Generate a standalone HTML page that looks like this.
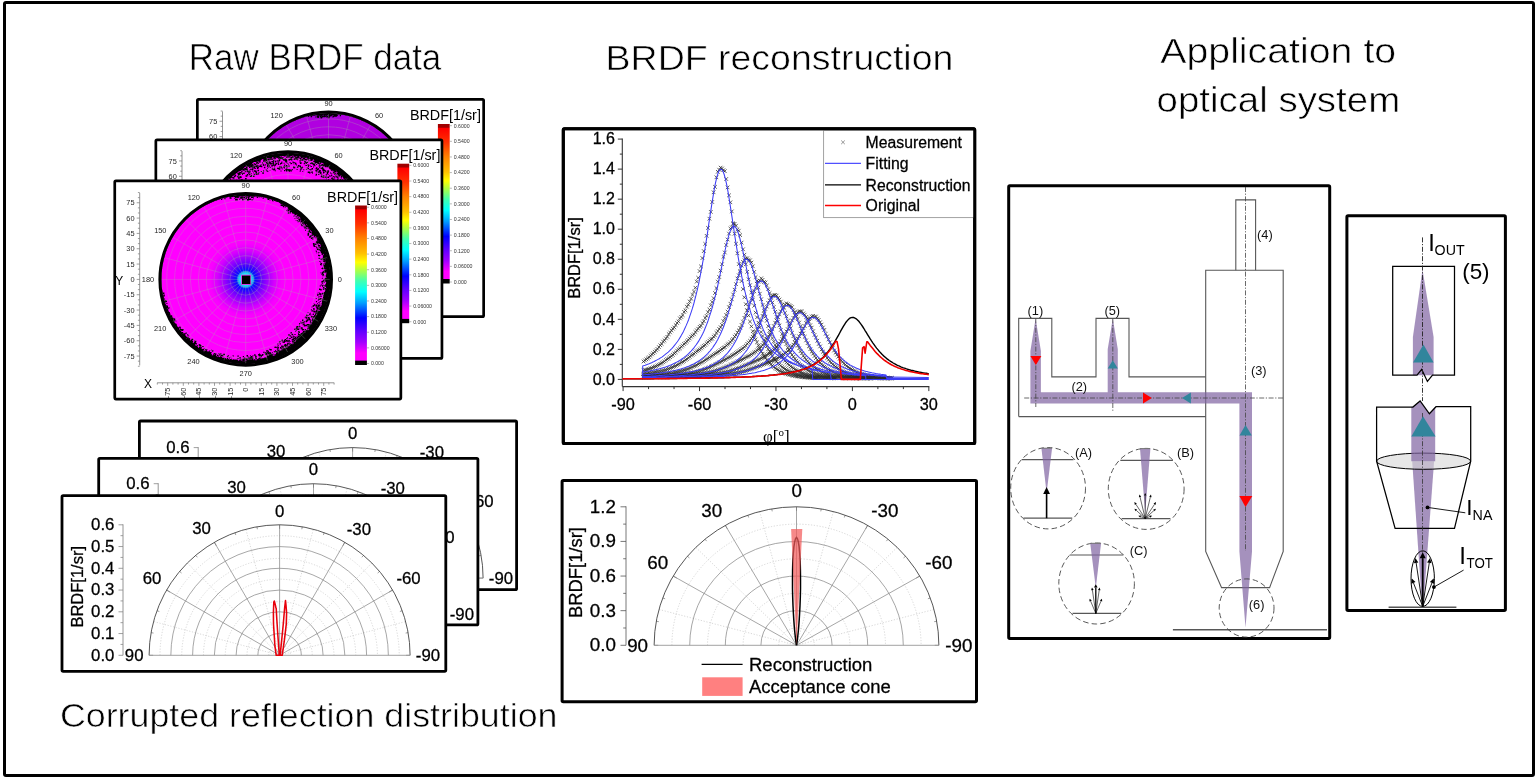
<!DOCTYPE html>
<html><head><meta charset="utf-8"><title>BRDF</title>
<style>html,body{margin:0;padding:0;background:#fff;overflow:hidden}svg{display:block}.b{stroke:#000;stroke-width:0.28px}.t{stroke:#fff;stroke-width:0.6px}</style></head>
<body><svg width="1538" height="778" viewBox="0 0 1538 778" font-family="'Liberation Sans', Arial, sans-serif"><defs><linearGradient id="cbar" x1="0" y1="0" x2="0" y2="1">
<stop offset="0" stop-color="#a00000"/><stop offset="0.02" stop-color="#a00000"/><stop offset="0.028" stop-color="#ff0000"/>
<stop offset="0.116" stop-color="#ff3000"/><stop offset="0.205" stop-color="#ff8000"/><stop offset="0.30" stop-color="#ffc000"/>
<stop offset="0.356" stop-color="#ffff00"/><stop offset="0.404" stop-color="#b0ff40"/><stop offset="0.473" stop-color="#40ffb0"/>
<stop offset="0.541" stop-color="#00ffff"/><stop offset="0.61" stop-color="#00a0ff"/><stop offset="0.705" stop-color="#0000ff"/>
<stop offset="0.788" stop-color="#6000ff"/><stop offset="0.856" stop-color="#a000ff"/><stop offset="0.925" stop-color="#ff00ff"/>
<stop offset="0.97" stop-color="#ff00ff"/><stop offset="0.975" stop-color="#000"/><stop offset="1" stop-color="#000"/>
</linearGradient><clipPath id="clipmback"><rect x="198.5" y="100.5" width="284" height="215"/></clipPath><clipPath id="clipmmid"><rect x="157" y="141" width="283.8" height="216.2"/></clipPath><radialGradient id="dgmid" gradientUnits="userSpaceOnUse" cx="288" cy="237.6" r="85">
<stop offset="0" stop-color="#00ffff"/><stop offset="0.065" stop-color="#00ffff"/><stop offset="0.088" stop-color="#00b0ff"/>
<stop offset="0.11" stop-color="#0010ff"/><stop offset="0.15" stop-color="#3800ff"/><stop offset="0.2" stop-color="#7000ff"/>
<stop offset="0.27" stop-color="#a800ff"/><stop offset="0.34" stop-color="#d800ff"/><stop offset="0.42" stop-color="#f800ff"/><stop offset="0.48" stop-color="#ff00ff"/><stop offset="1" stop-color="#ff00ff"/>
</radialGradient><clipPath id="clipmfront"><rect x="115.9" y="182" width="283.8" height="215.9"/></clipPath><radialGradient id="dgfront" gradientUnits="userSpaceOnUse" cx="245.7" cy="279.4" r="85">
<stop offset="0" stop-color="#00ffff"/><stop offset="0.065" stop-color="#00ffff"/><stop offset="0.088" stop-color="#00b0ff"/>
<stop offset="0.11" stop-color="#0010ff"/><stop offset="0.15" stop-color="#3800ff"/><stop offset="0.2" stop-color="#7000ff"/>
<stop offset="0.27" stop-color="#a800ff"/><stop offset="0.34" stop-color="#d800ff"/><stop offset="0.42" stop-color="#f800ff"/><stop offset="0.48" stop-color="#ff00ff"/><stop offset="1" stop-color="#ff00ff"/>
</radialGradient><clipPath id="cliplback"><rect x="140.5" y="422.1" width="375" height="166.4"/></clipPath><clipPath id="cliplmid"><rect x="99.8" y="459.5" width="377" height="164.3"/></clipPath><clipPath id="cliplfront"><rect x="63.1" y="496.8" width="381.6" height="173.4"/></clipPath><clipPath id="plotclip"><rect x="622" y="131" width="350" height="256"/></clipPath></defs><rect x="4.5" y="2.5" width="1529" height="773" fill="none" stroke="#000" stroke-width="3" rx="1.5"/><text class="t" x="188.8" y="69.9" font-size="36.7" textLength="252.5" lengthAdjust="spacingAndGlyphs">Raw BRDF data</text><text class="t" x="605.6" y="70.4" font-size="35.6" textLength="347.8" lengthAdjust="spacingAndGlyphs">BRDF reconstruction</text><text class="t" x="1160.2" y="62.7" font-size="35.9" textLength="236" lengthAdjust="spacingAndGlyphs">Application to</text><text class="t" x="1156.6" y="111.9" font-size="35.9" textLength="243.6" lengthAdjust="spacingAndGlyphs">optical system</text><text class="t" x="59.9" y="727" font-size="32.8" textLength="497.6" lengthAdjust="spacingAndGlyphs">Corrupted reflection distribution</text><rect x="197.35" y="99.35" width="286.3" height="217.3" fill="#fff" stroke="#000" stroke-width="2.7" rx="1.2"/><g clip-path="url(#clipmback)"><line x1="222.5" y1="111.4" x2="222.5" y2="283.9" stroke="#777" stroke-width="0.8" /><line x1="220.7" y1="284.77" x2="222.5" y2="284.77" stroke="#777" stroke-width="0.7" /><line x1="220.7" y1="279.66" x2="222.5" y2="279.66" stroke="#777" stroke-width="0.7" /><line x1="219.5" y1="274.55" x2="222.5" y2="274.55" stroke="#777" stroke-width="0.7" /><line x1="220.7" y1="269.44" x2="222.5" y2="269.44" stroke="#777" stroke-width="0.7" /><line x1="220.7" y1="264.33" x2="222.5" y2="264.33" stroke="#777" stroke-width="0.7" /><line x1="219.5" y1="259.22" x2="222.5" y2="259.22" stroke="#777" stroke-width="0.7" /><line x1="220.7" y1="254.11" x2="222.5" y2="254.11" stroke="#777" stroke-width="0.7" /><line x1="220.7" y1="249" x2="222.5" y2="249" stroke="#777" stroke-width="0.7" /><line x1="219.5" y1="243.89" x2="222.5" y2="243.89" stroke="#777" stroke-width="0.7" /><line x1="220.7" y1="238.78" x2="222.5" y2="238.78" stroke="#777" stroke-width="0.7" /><line x1="220.7" y1="233.67" x2="222.5" y2="233.67" stroke="#777" stroke-width="0.7" /><line x1="219.5" y1="228.56" x2="222.5" y2="228.56" stroke="#777" stroke-width="0.7" /><line x1="220.7" y1="223.45" x2="222.5" y2="223.45" stroke="#777" stroke-width="0.7" /><line x1="220.7" y1="218.34" x2="222.5" y2="218.34" stroke="#777" stroke-width="0.7" /><line x1="219.5" y1="213.23" x2="222.5" y2="213.23" stroke="#777" stroke-width="0.7" /><line x1="220.7" y1="208.12" x2="222.5" y2="208.12" stroke="#777" stroke-width="0.7" /><line x1="220.7" y1="203.01" x2="222.5" y2="203.01" stroke="#777" stroke-width="0.7" /><line x1="219.5" y1="197.9" x2="222.5" y2="197.9" stroke="#777" stroke-width="0.7" /><line x1="220.7" y1="192.79" x2="222.5" y2="192.79" stroke="#777" stroke-width="0.7" /><line x1="220.7" y1="187.68" x2="222.5" y2="187.68" stroke="#777" stroke-width="0.7" /><line x1="219.5" y1="182.57" x2="222.5" y2="182.57" stroke="#777" stroke-width="0.7" /><line x1="220.7" y1="177.46" x2="222.5" y2="177.46" stroke="#777" stroke-width="0.7" /><line x1="220.7" y1="172.35" x2="222.5" y2="172.35" stroke="#777" stroke-width="0.7" /><line x1="219.5" y1="167.24" x2="222.5" y2="167.24" stroke="#777" stroke-width="0.7" /><line x1="220.7" y1="162.13" x2="222.5" y2="162.13" stroke="#777" stroke-width="0.7" /><line x1="220.7" y1="157.02" x2="222.5" y2="157.02" stroke="#777" stroke-width="0.7" /><line x1="219.5" y1="151.91" x2="222.5" y2="151.91" stroke="#777" stroke-width="0.7" /><line x1="220.7" y1="146.8" x2="222.5" y2="146.8" stroke="#777" stroke-width="0.7" /><line x1="220.7" y1="141.69" x2="222.5" y2="141.69" stroke="#777" stroke-width="0.7" /><line x1="219.5" y1="136.58" x2="222.5" y2="136.58" stroke="#777" stroke-width="0.7" /><line x1="220.7" y1="131.47" x2="222.5" y2="131.47" stroke="#777" stroke-width="0.7" /><line x1="220.7" y1="126.36" x2="222.5" y2="126.36" stroke="#777" stroke-width="0.7" /><line x1="219.5" y1="121.25" x2="222.5" y2="121.25" stroke="#777" stroke-width="0.7" /><line x1="220.7" y1="116.14" x2="222.5" y2="116.14" stroke="#777" stroke-width="0.7" /><line x1="220.7" y1="111.03" x2="222.5" y2="111.03" stroke="#777" stroke-width="0.7" /><text x="217.3" y="277.15" font-size="7.4" text-anchor="end" fill="#262626" >-75</text><text x="217.3" y="261.82" font-size="7.4" text-anchor="end" fill="#262626" >-60</text><text x="217.3" y="246.49" font-size="7.4" text-anchor="end" fill="#262626" >-45</text><text x="217.3" y="231.16" font-size="7.4" text-anchor="end" fill="#262626" >-30</text><text x="217.3" y="215.83" font-size="7.4" text-anchor="end" fill="#262626" >-15</text><text x="217.3" y="200.5" font-size="7.4" text-anchor="end" fill="#262626" >0</text><text x="217.3" y="185.17" font-size="7.4" text-anchor="end" fill="#262626" >15</text><text x="217.3" y="169.84" font-size="7.4" text-anchor="end" fill="#262626" >30</text><text x="217.3" y="154.51" font-size="7.4" text-anchor="end" fill="#262626" >45</text><text x="217.3" y="139.18" font-size="7.4" text-anchor="end" fill="#262626" >60</text><text x="217.3" y="123.85" font-size="7.4" text-anchor="end" fill="#262626" >75</text><text x="202.1" y="203.7" font-size="12" text-anchor="middle" fill="#000" >Y</text><line x1="240" y1="301.3" x2="417" y2="301.3" stroke="#777" stroke-width="0.8" /><line x1="240.1" y1="301.3" x2="240.1" y2="303.1" stroke="#777" stroke-width="0.7" /><line x1="245.3" y1="301.3" x2="245.3" y2="303.1" stroke="#777" stroke-width="0.7" /><line x1="250.5" y1="301.3" x2="250.5" y2="304.3" stroke="#777" stroke-width="0.7" /><line x1="255.7" y1="301.3" x2="255.7" y2="303.1" stroke="#777" stroke-width="0.7" /><line x1="260.9" y1="301.3" x2="260.9" y2="303.1" stroke="#777" stroke-width="0.7" /><line x1="266.1" y1="301.3" x2="266.1" y2="304.3" stroke="#777" stroke-width="0.7" /><line x1="271.3" y1="301.3" x2="271.3" y2="303.1" stroke="#777" stroke-width="0.7" /><line x1="276.5" y1="301.3" x2="276.5" y2="303.1" stroke="#777" stroke-width="0.7" /><line x1="281.7" y1="301.3" x2="281.7" y2="304.3" stroke="#777" stroke-width="0.7" /><line x1="286.9" y1="301.3" x2="286.9" y2="303.1" stroke="#777" stroke-width="0.7" /><line x1="292.1" y1="301.3" x2="292.1" y2="303.1" stroke="#777" stroke-width="0.7" /><line x1="297.3" y1="301.3" x2="297.3" y2="304.3" stroke="#777" stroke-width="0.7" /><line x1="302.5" y1="301.3" x2="302.5" y2="303.1" stroke="#777" stroke-width="0.7" /><line x1="307.7" y1="301.3" x2="307.7" y2="303.1" stroke="#777" stroke-width="0.7" /><line x1="312.9" y1="301.3" x2="312.9" y2="304.3" stroke="#777" stroke-width="0.7" /><line x1="318.1" y1="301.3" x2="318.1" y2="303.1" stroke="#777" stroke-width="0.7" /><line x1="323.3" y1="301.3" x2="323.3" y2="303.1" stroke="#777" stroke-width="0.7" /><line x1="328.5" y1="301.3" x2="328.5" y2="304.3" stroke="#777" stroke-width="0.7" /><line x1="333.7" y1="301.3" x2="333.7" y2="303.1" stroke="#777" stroke-width="0.7" /><line x1="338.9" y1="301.3" x2="338.9" y2="303.1" stroke="#777" stroke-width="0.7" /><line x1="344.1" y1="301.3" x2="344.1" y2="304.3" stroke="#777" stroke-width="0.7" /><line x1="349.3" y1="301.3" x2="349.3" y2="303.1" stroke="#777" stroke-width="0.7" /><line x1="354.5" y1="301.3" x2="354.5" y2="303.1" stroke="#777" stroke-width="0.7" /><line x1="359.7" y1="301.3" x2="359.7" y2="304.3" stroke="#777" stroke-width="0.7" /><line x1="364.9" y1="301.3" x2="364.9" y2="303.1" stroke="#777" stroke-width="0.7" /><line x1="370.1" y1="301.3" x2="370.1" y2="303.1" stroke="#777" stroke-width="0.7" /><line x1="375.3" y1="301.3" x2="375.3" y2="304.3" stroke="#777" stroke-width="0.7" /><line x1="380.5" y1="301.3" x2="380.5" y2="303.1" stroke="#777" stroke-width="0.7" /><line x1="385.7" y1="301.3" x2="385.7" y2="303.1" stroke="#777" stroke-width="0.7" /><line x1="390.9" y1="301.3" x2="390.9" y2="304.3" stroke="#777" stroke-width="0.7" /><line x1="396.1" y1="301.3" x2="396.1" y2="303.1" stroke="#777" stroke-width="0.7" /><line x1="401.3" y1="301.3" x2="401.3" y2="303.1" stroke="#777" stroke-width="0.7" /><line x1="406.5" y1="301.3" x2="406.5" y2="304.3" stroke="#777" stroke-width="0.7" /><line x1="411.7" y1="301.3" x2="411.7" y2="303.1" stroke="#777" stroke-width="0.7" /><line x1="416.9" y1="301.3" x2="416.9" y2="303.1" stroke="#777" stroke-width="0.7" /><text x="253.1" y="306.1" font-size="7.4" text-anchor="end" fill="#262626" transform="rotate(-90 253.1 306.1)">-75</text><text x="268.7" y="306.1" font-size="7.4" text-anchor="end" fill="#262626" transform="rotate(-90 268.7 306.1)">-60</text><text x="284.3" y="306.1" font-size="7.4" text-anchor="end" fill="#262626" transform="rotate(-90 284.3 306.1)">-45</text><text x="299.9" y="306.1" font-size="7.4" text-anchor="end" fill="#262626" transform="rotate(-90 299.9 306.1)">-30</text><text x="315.5" y="306.1" font-size="7.4" text-anchor="end" fill="#262626" transform="rotate(-90 315.5 306.1)">-15</text><text x="331.1" y="306.1" font-size="7.4" text-anchor="end" fill="#262626" transform="rotate(-90 331.1 306.1)">0</text><text x="346.7" y="306.1" font-size="7.4" text-anchor="end" fill="#262626" transform="rotate(-90 346.7 306.1)">15</text><text x="362.3" y="306.1" font-size="7.4" text-anchor="end" fill="#262626" transform="rotate(-90 362.3 306.1)">30</text><text x="377.9" y="306.1" font-size="7.4" text-anchor="end" fill="#262626" transform="rotate(-90 377.9 306.1)">45</text><text x="393.5" y="306.1" font-size="7.4" text-anchor="end" fill="#262626" transform="rotate(-90 393.5 306.1)">60</text><text x="409.1" y="306.1" font-size="7.4" text-anchor="end" fill="#262626" transform="rotate(-90 409.1 306.1)">75</text><text x="230.8" y="306.8" font-size="12" text-anchor="middle" fill="#000" >X</text><circle cx="328.5" cy="197.9" r="84.5" fill="#b000e0"/><path d="M328.5,197.9m-10.4,-47.7h1v1h-1zm-18.7,-3.8h1v1h-1zm5.5,-1.6h1v1h-1zm48.2,30.2h1v1h-1zm-55.3,-8.5h1v1h-1zm23.7,23.1h1v1h-1zm8.1,-11.9h1v1h-1zm-4.1,-19.4h1v1h-1zm16.7,27.6h1v1h-1zm8.0,-41.6h1v1h-1zm-28.1,40.8h1v1h-1zm0.1,1.7h1v1h-1zm3.9,-0.5h1v1h-1zm44.8,-24.2h1v1h-1zm-33.6,19.9h1v1h-1zm-50.3,-21.1h1v1h-1zm63.1,-19.1h1v1h-1zm-24.7,10.8h1v1h-1zm32.2,-6.1h1v1h-1zm-48.8,-5.6h1v1h-1zm4.7,38.8h1v1h-1zm18.5,3.9h1v1h-1zm0.5,8.6h1v1h-1zm10.1,-33.2h1v1h-1zm20.5,9.5h1v1h-1zm-27.8,6.1h1v1h-1zm-25.0,-6.0h1v1h-1zm29.1,-3.5h1v1h-1zm-13.1,26.9h1v1h-1zm-0.0,3.9h1v1h-1zm-20.7,-47.1h1v1h-1zm61.1,15.0h1v1h-1zm-28.9,-4.8h1v1h-1zm-5.3,35.4h1v1h-1zm27.6,-47.2h1v1h-1zm-6.6,7.9h1v1h-1zm-65.3,-0.5h1v1h-1zm47.6,17.2h1v1h-1zm-9.5,-24.4h1v1h-1zm33.3,12.4h1v1h-1zm-58.3,-9.6h1v1h-1zm70.1,6.8h1v1h-1zm-25.8,21.1h1v1h-1zm-28.2,-37.0h1v1h-1zm27.1,0.8h1v1h-1zm-17.9,31.6h1v1h-1zm6.8,9.6h1v1h-1zm4.2,4.8h1v1h-1zm-29.1,-48.5h1v1h-1zm23.1,53.9h1v1h-1zm-31.3,-20.2h1v1h-1zm31.4,5.4h1v1h-1zm-11.9,-33.1h1v1h-1zm11.1,21.5h1v1h-1zm38.1,-10.3h1v1h-1zm-14.8,17.1h1v1h-1zm-32.5,14.1h1v1h-1zm-16.6,-44.6h1v1h-1zm11.8,4.8h1v1h-1zm31.8,25.3h1v1h-1zm10.9,-19.7h1v1h-1zm-19.6,13.5h1v1h-1zm-53.2,-4.3h1v1h-1zm17.4,12.9h1v1h-1zm25.3,-26.0h1v1h-1zm-0.2,25.1h1v1h-1zm1.4,10.0h1v1h-1zm10.9,-46.9h1v1h-1zm-43.8,30.3h1v1h-1zm30.7,3.6h1v1h-1zm14.4,9.6h1v1h-1zm-40.5,-32.3h1v1h-1zm38.4,-0.8h1v1h-1zm-33.7,8.5h1v1h-1zm7.3,-6.6h1v1h-1zm25.2,2.2h1v1h-1zm1.9,13.2h1v1h-1zm-33.9,-8.8h1v1h-1zm41.8,-14.4h1v1h-1zm-31.3,16.7h1v1h-1zm39.2,13.6h1v1h-1zm-9.8,-15.7h1v1h-1zm-15.6,-11.7h1v1h-1zm-16.6,2.6h1v1h-1zm24.6,7.9h1v1h-1zm-32.9,-6.7h1v1h-1zm35.5,-3.4h1v1h-1zm-41.7,15.5h1v1h-1zm-16.5,-3.6h1v1h-1zm43.0,3.0h1v1h-1zm30.8,-7.6h1v1h-1zm-53.3,20.1h1v1h-1zm8.1,-20.2h1v1h-1zm9.7,31.1h1v1h-1zm-13.0,-21.5h1v1h-1zm10.1,5.7h1v1h-1zm-2.0,-19.7h1v1h-1zm-0.5,3.1h1v1h-1zm21.8,36.6h1v1h-1zm-6.0,-34.0h1v1h-1zm17.1,3.2h1v1h-1zm-22.7,35.7h1v1h-1zm2.0,-14.1h1v1h-1zm7.8,10.1h1v1h-1zm-3.7,-6.2h1v1h-1zm-2.8,11.3h1v1h-1zm-0.5,-24.9h1v1h-1zm-9.6,-11.3h1v1h-1zm33.1,-11.4h1v1h-1zm-2.2,31.9h1v1h-1zm-11.5,-8.7h1v1h-1zm21.8,-13.8h1v1h-1zm-32.4,37.7h1v1h-1zm-2.8,-5.0h1v1h-1zm-0.2,-16.8h1v1h-1zm-6.3,-33.3h1v1h-1zm-7.9,33.0h1v1h-1zm-6.3,-10.9h1v1h-1zm25.5,24.5h1v1h-1zm-9.4,-26.0h1v1h-1zm-36.7,-3.5h1v1h-1zm38.1,15.8h1v1h-1zm5.0,26.2h1v1h-1zm25.0,-30.3h1v1h-1zm-27.5,17.8h1v1h-1zm-10.1,-42.4h1v1h-1zm19.5,24.2h1v1h-1zm3.8,10.4h1v1h-1zm-31.6,1.1h1v1h-1zm-20.6,-20.6h1v1h-1zm38.1,19.2h1v1h-1zm-22.8,-2.8h1v1h-1zm30.0,-1.0h1v1h-1zm-30.0,1.3h1v1h-1zm38.8,-8.6h1v1h-1zm13.5,-1.6h1v1h-1zm-23.7,10.4h1v1h-1zm-27.4,-23.8h1v1h-1zm53.2,22.2h1v1h-1zm-5.5,-29.5h1v1h-1zm-32.1,36.4h1v1h-1zm15.0,5.0h1v1h-1zm-23.0,-2.5h1v1h-1zm11.1,-18.3h1v1h-1zm-4.0,-6.5h1v1h-1zm5.8,29.9h1v1h-1zm-5.8,-11.1h1v1h-1zm8.9,-4.6h1v1h-1zm14.5,-9.1h1v1h-1zm-11.3,7.6h1v1h-1zm-18.6,-9.6h1v1h-1zm31.8,22.8h1v1h-1zm-10.4,-43.5h1v1h-1zm-28.4,27.9h1v1h-1zm61.9,-3.8h1v1h-1zm-33.0,-5.9h1v1h-1zm-20.3,-0.7h1v1h-1zm17.1,-17.4h1v1h-1zm4.0,28.9h1v1h-1zm-15.5,14.9h1v1h-1zm28.3,-36.3h1v1h-1zm18.3,11.1h1v1h-1zm-47.5,9.1h1v1h-1zm29.1,-17.5h1v1h-1zm-27.1,37.6h1v1h-1zm10.0,-28.6h1v1h-1zm-1.3,12.8h1v1h-1zm22.9,-7.7h1v1h-1zm-26.8,27.1h1v1h-1zm27.8,-40.9h1v1h-1zm-45.8,8.1h1v1h-1zm57.0,6.7h1v1h-1zm-81.1,-9.2h1v1h-1zm44.0,36.3h1v1h-1zm-8.5,-10.0h1v1h-1zm-4.6,-42.5h1v1h-1zm10.5,46.1h1v1h-1zm25.0,-42.5h1v1h-1zm3.5,19.9h1v1h-1zm-21.8,20.0h1v1h-1zm-3.3,9.3h1v1h-1zm19.1,-17.2h1v1h-1zm-13.7,17.5h1v1h-1zm-10.7,-43.8h1v1h-1zm-1.2,38.6h1v1h-1zm10.5,-14.6h1v1h-1zm-9.0,-10.1h1v1h-1zm-13.5,14.1h1v1h-1zm52.1,-12.8h1v1h-1zm-8.0,-2.0h1v1h-1zm-25.1,-22.3h1v1h-1zm-3.5,15.3h1v1h-1zm19.6,6.9h1v1h-1zm5.0,-9.5h1v1h-1zm-20.9,32.4h1v1h-1zm12.9,-12.7h1v1h-1zm-18.8,10.7h1v1h-1zm-9.8,-26.8h1v1h-1zm45.8,7.6h1v1h-1zm-22.0,24.7h1v1h-1z" fill="#e020ff" stroke="none" stroke-width="1" /><path d="M413.3,197.9A84.8,84.8 0 1 0 243.7,197.9A84.8,84.8 0 1 0 413.3,197.9ZM412.8,197.9L412.8,196.1L412.7,194.4L412.6,192.6L412.5,190.8L412.3,189.1L412.1,187.3L411.9,185.6L411.6,183.8L411.3,182.1L411.0,180.4L410.6,178.7L410.2,176.9L409.7,175.2L409.2,173.5L408.7,171.8L408.1,170.2L407.5,168.5L406.9,166.9L406.2,165.2L405.5,163.6L404.8,162.0L404.0,160.4L403.2,158.8L402.4,157.3L401.5,155.8L400.6,154.2L399.7,152.7L398.7,151.2L397.7,149.8L396.7,148.3L395.6,146.9L394.6,145.5L393.5,144.2L392.3,142.8L391.1,141.5L390.0,140.2L388.7,138.9L387.5,137.7L386.2,136.4L384.9,135.3L383.6,134.1L382.2,132.9L380.9,131.8L379.5,130.8L378.1,129.7L376.6,128.7L375.2,127.7L373.7,126.7L372.2,125.8L370.6,124.9L369.1,124.0L367.6,123.2L366.0,122.4L364.4,121.6L362.8,120.9L361.2,120.2L359.5,119.5L357.9,118.9L356.2,118.3L354.6,117.7L352.9,117.2L351.2,116.7L349.5,116.2L347.7,115.8L346.0,115.4L344.3,115.1L342.5,114.9L340.8,114.8L339.0,114.6L337.2,114.8L335.4,115.2L333.7,115.3L332.0,115.4L330.2,114.8L328.5,115.5L326.8,115.0L325.0,115.4L323.3,114.8L321.6,116.0L319.9,115.7L318.1,115.8L316.3,115.3L314.6,115.7L312.8,115.7L311.1,115.8L309.3,116.0L307.5,116.2L305.8,116.7L304.1,117.2L302.4,117.7L300.8,118.3L299.1,118.9L297.5,119.5L295.8,120.2L294.2,120.9L292.6,121.6L291.0,122.4L289.4,123.2L287.9,124.0L286.4,124.9L284.8,125.8L283.3,126.7L281.8,127.7L280.4,128.7L278.9,129.7L277.5,130.8L276.1,131.8L274.8,132.9L273.4,134.1L272.1,135.3L270.8,136.4L269.5,137.7L268.3,138.9L267.0,140.2L265.9,141.5L264.7,142.8L263.5,144.2L262.4,145.5L261.4,146.9L260.3,148.3L259.3,149.8L258.3,151.2L257.3,152.7L256.4,154.2L255.5,155.8L254.6,157.3L253.8,158.8L253.0,160.4L252.2,162.0L251.5,163.6L250.8,165.2L250.1,166.9L249.5,168.5L248.9,170.2L248.3,171.8L247.8,173.5L247.3,175.2L246.8,176.9L246.4,178.7L246.0,180.4L245.7,182.1L245.4,183.8L245.1,185.6L244.9,187.3L244.7,189.1L244.5,190.8L244.4,192.6L244.3,194.4L244.2,196.1L244.2,197.9L244.2,199.7L244.3,201.4L244.4,203.2L244.5,205.0L244.7,206.7L244.9,208.5L245.1,210.2L245.4,212.0L245.7,213.7L246.0,215.4L246.4,217.1L246.8,218.9L247.3,220.6L247.8,222.3L248.3,224.0L248.9,225.6L249.5,227.3L250.1,228.9L250.8,230.6L251.5,232.2L252.2,233.8L253.0,235.4L253.8,237.0L254.6,238.5L255.5,240.1L256.4,241.6L257.3,243.1L258.3,244.6L259.3,246.0L260.3,247.5L261.4,248.9L262.4,250.3L263.5,251.6L264.7,253.0L265.9,254.3L267.0,255.6L268.3,256.9L269.5,258.1L270.8,259.4L272.1,260.5L273.4,261.7L274.8,262.9L276.1,264.0L277.5,265.0L278.9,266.1L280.4,267.1L281.8,268.1L283.3,269.1L284.8,270.0L286.3,270.9L287.9,271.8L289.4,272.6L291.0,273.4L292.6,274.2L294.2,274.9L295.8,275.6L297.5,276.3L299.1,276.9L300.8,277.5L302.4,278.1L304.1,278.6L305.8,279.1L307.5,279.6L309.3,280.0L311.0,280.4L312.7,280.7L314.4,281.0L316.2,281.3L317.9,281.5L319.7,281.7L321.4,281.9L323.2,282.0L325.0,282.1L326.7,282.2L328.5,282.2L330.3,282.2L332.0,282.1L333.8,282.0L335.6,281.9L337.3,281.7L339.1,281.5L340.8,281.3L342.6,281.0L344.3,280.7L346.0,280.4L347.7,280.0L349.5,279.6L351.2,279.1L352.9,278.6L354.6,278.1L356.2,277.5L357.9,276.9L359.5,276.3L361.2,275.6L362.8,274.9L364.4,274.2L366.0,273.4L367.6,272.6L369.1,271.8L370.6,270.9L372.2,270.0L373.7,269.1L375.2,268.1L376.6,267.1L378.1,266.1L379.5,265.0L380.9,264.0L382.2,262.9L383.6,261.7L384.9,260.5L386.2,259.4L387.5,258.1L388.7,256.9L390.0,255.6L391.1,254.3L392.3,253.0L393.5,251.6L394.6,250.3L395.6,248.9L396.7,247.5L397.7,246.0L398.7,244.6L399.7,243.1L400.6,241.6L401.5,240.1L402.4,238.5L403.2,237.0L404.0,235.4L404.8,233.8L405.5,232.2L406.2,230.6L406.9,228.9L407.5,227.3L408.1,225.6L408.7,224.0L409.2,222.3L409.7,220.6L410.2,218.9L410.6,217.1L411.0,215.4L411.3,213.7L411.6,212.0L411.9,210.2L412.1,208.5L412.3,206.7L412.5,205.0L412.6,203.2L412.7,201.4L412.8,199.7Z" fill="#000" stroke="none" stroke-width="1" fill-rule="evenodd"/><path d="M328.5,197.9m8.7,-83.0h0.8v0.8h-0.8zm-4.8,1.7h0.8v0.8h-0.8zm0.7,-1.2h1.5v1.5h-1.5zm0.8,-0.2h1.0v1.0h-1.0zm-4.7,-0.2h0.8v0.8h-0.8zm-3.6,0.2h1.0v1.0h-1.0zm0.3,0.7h0.8v0.8h-0.8zm2.3,-0.9h1.0v1.0h-1.0zm-0.3,1.9h1.5v1.5h-1.5zm1.0,-0.4h1.0v1.0h-1.0zm7.6,-1.0h0.8v0.8h-0.8zm-9.5,0.7h1.0v1.0h-1.0zm7.8,-1.2h1.2v1.2h-1.2zm-17.2,0.8h1.0v1.0h-1.0zm0.1,0.1h1.5v1.5h-1.5zm-9.5,0.2h1.0v1.0h-1.0zm17.6,0.3h1.0v1.0h-1.0zm4.2,-1.4h1.5v1.5h-1.5zm-6.9,0.7h1.5v1.5h-1.5zm-6.2,0.8h1.2v1.2h-1.2zm6.9,-0.4h1.2v1.2h-1.2zm3.2,-0.2h0.8v0.8h-0.8zm-3.6,-0.1h1.0v1.0h-1.0zm12.0,-0.1h1.2v1.2h-1.2zm-0.3,-0.1h0.8v0.8h-0.8zm-3.9,-0.4h0.8v0.8h-0.8zm-12.8,0.3h1.0v1.0h-1.0zm3.8,-0.2h1.0v1.0h-1.0zm-4.3,1.6h1.0v1.0h-1.0zm-2.6,-0.4h1.0v1.0h-1.0zm18.4,-1.3h1.2v1.2h-1.2zm2.5,-0.4h1.0v1.0h-1.0zm3.6,0.2h1.2v1.2h-1.2zm-10.5,0.0h0.8v0.8h-0.8zm-3.5,0.1h1.0v1.0h-1.0zm1.1,0.4h0.8v0.8h-0.8zm-16.3,0.3h1.5v1.5h-1.5zm19.1,-0.0h0.8v0.8h-0.8zm3.5,0.1h0.8v0.8h-0.8zm-5.8,0.4h0.8v0.8h-0.8zm-7.5,-0.4h1.0v1.0h-1.0zm7.8,0.9h1.5v1.5h-1.5zm6.5,-1.6h1.0v1.0h-1.0zm-6.5,1.0h1.0v1.0h-1.0zm-3.0,-0.3h1.0v1.0h-1.0zm7.7,0.4h1.2v1.2h-1.2zm-15.7,-0.9h1.2v1.2h-1.2zm3.9,1.7h1.5v1.5h-1.5zm0.9,-1.2h1.5v1.5h-1.5zm-1.2,-0.5h1.2v1.2h-1.2zm3.5,-0.3h1.0v1.0h-1.0zm10.3,-0.2h0.8v0.8h-0.8zm-17.3,1.3h1.0v1.0h-1.0zm19.2,-1.3h1.0v1.0h-1.0zm-7.8,0.1h1.5v1.5h-1.5zm-8.1,1.5h1.0v1.0h-1.0zm4.5,-1.2h0.8v0.8h-0.8zm8.2,0.3h1.2v1.2h-1.2zm-10.0,-0.2h1.0v1.0h-1.0zm-5.9,0.0h1.2v1.2h-1.2z" fill="#000" stroke="none" stroke-width="1" /><g fill="none" stroke="#a8a8a8" stroke-opacity="0.45" stroke-width="0.7"><circle cx="328.5" cy="197.9" r="7.9"/><circle cx="328.5" cy="197.9" r="15.8"/><circle cx="328.5" cy="197.9" r="23.7"/><circle cx="328.5" cy="197.9" r="31.6"/><circle cx="328.5" cy="197.9" r="39.5"/><circle cx="328.5" cy="197.9" r="47.4"/><circle cx="328.5" cy="197.9" r="55.3"/><circle cx="328.5" cy="197.9" r="63.2"/><circle cx="328.5" cy="197.9" r="71.1"/><circle cx="328.5" cy="197.9" r="79"/><line x1="244.5" y1="197.9" x2="412.5" y2="197.9"/><line x1="247.36" y1="176.16" x2="409.64" y2="219.64"/><line x1="255.75" y1="155.9" x2="401.25" y2="239.9"/><line x1="269.1" y1="138.5" x2="387.9" y2="257.3"/><line x1="286.5" y1="125.15" x2="370.5" y2="270.65"/><line x1="306.76" y1="116.76" x2="350.24" y2="279.04"/><line x1="328.5" y1="113.9" x2="328.5" y2="281.9"/><line x1="350.24" y1="116.76" x2="306.76" y2="279.04"/><line x1="370.5" y1="125.15" x2="286.5" y2="270.65"/><line x1="387.9" y1="138.5" x2="269.1" y2="257.3"/><line x1="401.25" y1="155.9" x2="255.75" y2="239.9"/><line x1="409.64" y1="176.16" x2="247.36" y2="219.64"/></g><circle cx="328.5" cy="197.9" r="85.8" fill="none" stroke="#000" stroke-width="3"/><text x="422.6" y="200.5" font-size="7.4" text-anchor="middle" fill="#262626" >0</text><text x="412.2" y="151.5" font-size="7.4" text-anchor="middle" fill="#262626" >30</text><text x="379" y="118.3" font-size="7.4" text-anchor="middle" fill="#262626" >60</text><text x="328.5" y="106.1" font-size="7.4" text-anchor="middle" fill="#262626" >90</text><text x="276.6" y="118.3" font-size="7.4" text-anchor="middle" fill="#262626" >120</text><text x="243.1" y="151.5" font-size="7.4" text-anchor="middle" fill="#262626" >150</text><text x="230.8" y="200.5" font-size="7.4" text-anchor="middle" fill="#262626" >180</text><text x="242.9" y="249.3" font-size="7.4" text-anchor="middle" fill="#262626" >210</text><text x="276.3" y="282.5" font-size="7.4" text-anchor="middle" fill="#262626" >240</text><text x="328.5" y="294.2" font-size="7.4" text-anchor="middle" fill="#262626" >270</text><text x="380.3" y="282.3" font-size="7.4" text-anchor="middle" fill="#262626" >300</text><text x="413.7" y="249.2" font-size="7.4" text-anchor="middle" fill="#262626" >330</text><text x="409.9" y="120" font-size="14" textLength="71" lengthAdjust="spacingAndGlyphs">BRDF[1/sr]</text><rect x="437.9" y="124" width="11.8" height="159.5" fill="url(#cbar)" stroke="none" stroke-width="1" /><line x1="449.7" y1="125.7" x2="451.9" y2="125.7" stroke="#888" stroke-width="0.6" /><text x="453.7" y="127.5" font-size="5.2" text-anchor="start" fill="#333" >0.6000</text><line x1="449.7" y1="141.33" x2="451.9" y2="141.33" stroke="#888" stroke-width="0.6" /><text x="453.7" y="143.13" font-size="5.2" text-anchor="start" fill="#333" >0.5400</text><line x1="449.7" y1="156.96" x2="451.9" y2="156.96" stroke="#888" stroke-width="0.6" /><text x="453.7" y="158.76" font-size="5.2" text-anchor="start" fill="#333" >0.4800</text><line x1="449.7" y1="172.59" x2="451.9" y2="172.59" stroke="#888" stroke-width="0.6" /><text x="453.7" y="174.39" font-size="5.2" text-anchor="start" fill="#333" >0.4200</text><line x1="449.7" y1="188.22" x2="451.9" y2="188.22" stroke="#888" stroke-width="0.6" /><text x="453.7" y="190.02" font-size="5.2" text-anchor="start" fill="#333" >0.3600</text><line x1="449.7" y1="203.85" x2="451.9" y2="203.85" stroke="#888" stroke-width="0.6" /><text x="453.7" y="205.65" font-size="5.2" text-anchor="start" fill="#333" >0.3000</text><line x1="449.7" y1="219.48" x2="451.9" y2="219.48" stroke="#888" stroke-width="0.6" /><text x="453.7" y="221.28" font-size="5.2" text-anchor="start" fill="#333" >0.2400</text><line x1="449.7" y1="235.11" x2="451.9" y2="235.11" stroke="#888" stroke-width="0.6" /><text x="453.7" y="236.91" font-size="5.2" text-anchor="start" fill="#333" >0.1800</text><line x1="449.7" y1="250.74" x2="451.9" y2="250.74" stroke="#888" stroke-width="0.6" /><text x="453.7" y="252.54" font-size="5.2" text-anchor="start" fill="#333" >0.1200</text><line x1="449.7" y1="266.37" x2="451.9" y2="266.37" stroke="#888" stroke-width="0.6" /><text x="453.7" y="268.17" font-size="5.2" text-anchor="start" fill="#333" >0.06000</text><line x1="449.7" y1="282" x2="451.9" y2="282" stroke="#888" stroke-width="0.6" /><text x="453.7" y="283.8" font-size="5.2" text-anchor="start" fill="#333" >0.000</text></g><rect x="155.85" y="139.85" width="286.1" height="218.5" fill="#fff" stroke="#000" stroke-width="2.7" rx="1.2"/><g clip-path="url(#clipmmid)"><line x1="182" y1="151.1" x2="182" y2="323.6" stroke="#777" stroke-width="0.8" /><line x1="180.2" y1="324.47" x2="182" y2="324.47" stroke="#777" stroke-width="0.7" /><line x1="180.2" y1="319.36" x2="182" y2="319.36" stroke="#777" stroke-width="0.7" /><line x1="179" y1="314.25" x2="182" y2="314.25" stroke="#777" stroke-width="0.7" /><line x1="180.2" y1="309.14" x2="182" y2="309.14" stroke="#777" stroke-width="0.7" /><line x1="180.2" y1="304.03" x2="182" y2="304.03" stroke="#777" stroke-width="0.7" /><line x1="179" y1="298.92" x2="182" y2="298.92" stroke="#777" stroke-width="0.7" /><line x1="180.2" y1="293.81" x2="182" y2="293.81" stroke="#777" stroke-width="0.7" /><line x1="180.2" y1="288.7" x2="182" y2="288.7" stroke="#777" stroke-width="0.7" /><line x1="179" y1="283.59" x2="182" y2="283.59" stroke="#777" stroke-width="0.7" /><line x1="180.2" y1="278.48" x2="182" y2="278.48" stroke="#777" stroke-width="0.7" /><line x1="180.2" y1="273.37" x2="182" y2="273.37" stroke="#777" stroke-width="0.7" /><line x1="179" y1="268.26" x2="182" y2="268.26" stroke="#777" stroke-width="0.7" /><line x1="180.2" y1="263.15" x2="182" y2="263.15" stroke="#777" stroke-width="0.7" /><line x1="180.2" y1="258.04" x2="182" y2="258.04" stroke="#777" stroke-width="0.7" /><line x1="179" y1="252.93" x2="182" y2="252.93" stroke="#777" stroke-width="0.7" /><line x1="180.2" y1="247.82" x2="182" y2="247.82" stroke="#777" stroke-width="0.7" /><line x1="180.2" y1="242.71" x2="182" y2="242.71" stroke="#777" stroke-width="0.7" /><line x1="179" y1="237.6" x2="182" y2="237.6" stroke="#777" stroke-width="0.7" /><line x1="180.2" y1="232.49" x2="182" y2="232.49" stroke="#777" stroke-width="0.7" /><line x1="180.2" y1="227.38" x2="182" y2="227.38" stroke="#777" stroke-width="0.7" /><line x1="179" y1="222.27" x2="182" y2="222.27" stroke="#777" stroke-width="0.7" /><line x1="180.2" y1="217.16" x2="182" y2="217.16" stroke="#777" stroke-width="0.7" /><line x1="180.2" y1="212.05" x2="182" y2="212.05" stroke="#777" stroke-width="0.7" /><line x1="179" y1="206.94" x2="182" y2="206.94" stroke="#777" stroke-width="0.7" /><line x1="180.2" y1="201.83" x2="182" y2="201.83" stroke="#777" stroke-width="0.7" /><line x1="180.2" y1="196.72" x2="182" y2="196.72" stroke="#777" stroke-width="0.7" /><line x1="179" y1="191.61" x2="182" y2="191.61" stroke="#777" stroke-width="0.7" /><line x1="180.2" y1="186.5" x2="182" y2="186.5" stroke="#777" stroke-width="0.7" /><line x1="180.2" y1="181.39" x2="182" y2="181.39" stroke="#777" stroke-width="0.7" /><line x1="179" y1="176.28" x2="182" y2="176.28" stroke="#777" stroke-width="0.7" /><line x1="180.2" y1="171.17" x2="182" y2="171.17" stroke="#777" stroke-width="0.7" /><line x1="180.2" y1="166.06" x2="182" y2="166.06" stroke="#777" stroke-width="0.7" /><line x1="179" y1="160.95" x2="182" y2="160.95" stroke="#777" stroke-width="0.7" /><line x1="180.2" y1="155.84" x2="182" y2="155.84" stroke="#777" stroke-width="0.7" /><line x1="180.2" y1="150.73" x2="182" y2="150.73" stroke="#777" stroke-width="0.7" /><text x="176.8" y="316.85" font-size="7.4" text-anchor="end" fill="#262626" >-75</text><text x="176.8" y="301.52" font-size="7.4" text-anchor="end" fill="#262626" >-60</text><text x="176.8" y="286.19" font-size="7.4" text-anchor="end" fill="#262626" >-45</text><text x="176.8" y="270.86" font-size="7.4" text-anchor="end" fill="#262626" >-30</text><text x="176.8" y="255.53" font-size="7.4" text-anchor="end" fill="#262626" >-15</text><text x="176.8" y="240.2" font-size="7.4" text-anchor="end" fill="#262626" >0</text><text x="176.8" y="224.87" font-size="7.4" text-anchor="end" fill="#262626" >15</text><text x="176.8" y="209.54" font-size="7.4" text-anchor="end" fill="#262626" >30</text><text x="176.8" y="194.21" font-size="7.4" text-anchor="end" fill="#262626" >45</text><text x="176.8" y="178.88" font-size="7.4" text-anchor="end" fill="#262626" >60</text><text x="176.8" y="163.55" font-size="7.4" text-anchor="end" fill="#262626" >75</text><text x="161.6" y="243.4" font-size="12" text-anchor="middle" fill="#000" >Y</text><line x1="199.5" y1="341" x2="376.5" y2="341" stroke="#777" stroke-width="0.8" /><line x1="199.6" y1="341" x2="199.6" y2="342.8" stroke="#777" stroke-width="0.7" /><line x1="204.8" y1="341" x2="204.8" y2="342.8" stroke="#777" stroke-width="0.7" /><line x1="210" y1="341" x2="210" y2="344" stroke="#777" stroke-width="0.7" /><line x1="215.2" y1="341" x2="215.2" y2="342.8" stroke="#777" stroke-width="0.7" /><line x1="220.4" y1="341" x2="220.4" y2="342.8" stroke="#777" stroke-width="0.7" /><line x1="225.6" y1="341" x2="225.6" y2="344" stroke="#777" stroke-width="0.7" /><line x1="230.8" y1="341" x2="230.8" y2="342.8" stroke="#777" stroke-width="0.7" /><line x1="236" y1="341" x2="236" y2="342.8" stroke="#777" stroke-width="0.7" /><line x1="241.2" y1="341" x2="241.2" y2="344" stroke="#777" stroke-width="0.7" /><line x1="246.4" y1="341" x2="246.4" y2="342.8" stroke="#777" stroke-width="0.7" /><line x1="251.6" y1="341" x2="251.6" y2="342.8" stroke="#777" stroke-width="0.7" /><line x1="256.8" y1="341" x2="256.8" y2="344" stroke="#777" stroke-width="0.7" /><line x1="262" y1="341" x2="262" y2="342.8" stroke="#777" stroke-width="0.7" /><line x1="267.2" y1="341" x2="267.2" y2="342.8" stroke="#777" stroke-width="0.7" /><line x1="272.4" y1="341" x2="272.4" y2="344" stroke="#777" stroke-width="0.7" /><line x1="277.6" y1="341" x2="277.6" y2="342.8" stroke="#777" stroke-width="0.7" /><line x1="282.8" y1="341" x2="282.8" y2="342.8" stroke="#777" stroke-width="0.7" /><line x1="288" y1="341" x2="288" y2="344" stroke="#777" stroke-width="0.7" /><line x1="293.2" y1="341" x2="293.2" y2="342.8" stroke="#777" stroke-width="0.7" /><line x1="298.4" y1="341" x2="298.4" y2="342.8" stroke="#777" stroke-width="0.7" /><line x1="303.6" y1="341" x2="303.6" y2="344" stroke="#777" stroke-width="0.7" /><line x1="308.8" y1="341" x2="308.8" y2="342.8" stroke="#777" stroke-width="0.7" /><line x1="314" y1="341" x2="314" y2="342.8" stroke="#777" stroke-width="0.7" /><line x1="319.2" y1="341" x2="319.2" y2="344" stroke="#777" stroke-width="0.7" /><line x1="324.4" y1="341" x2="324.4" y2="342.8" stroke="#777" stroke-width="0.7" /><line x1="329.6" y1="341" x2="329.6" y2="342.8" stroke="#777" stroke-width="0.7" /><line x1="334.8" y1="341" x2="334.8" y2="344" stroke="#777" stroke-width="0.7" /><line x1="340" y1="341" x2="340" y2="342.8" stroke="#777" stroke-width="0.7" /><line x1="345.2" y1="341" x2="345.2" y2="342.8" stroke="#777" stroke-width="0.7" /><line x1="350.4" y1="341" x2="350.4" y2="344" stroke="#777" stroke-width="0.7" /><line x1="355.6" y1="341" x2="355.6" y2="342.8" stroke="#777" stroke-width="0.7" /><line x1="360.8" y1="341" x2="360.8" y2="342.8" stroke="#777" stroke-width="0.7" /><line x1="366" y1="341" x2="366" y2="344" stroke="#777" stroke-width="0.7" /><line x1="371.2" y1="341" x2="371.2" y2="342.8" stroke="#777" stroke-width="0.7" /><line x1="376.4" y1="341" x2="376.4" y2="342.8" stroke="#777" stroke-width="0.7" /><text x="212.6" y="345.8" font-size="7.4" text-anchor="end" fill="#262626" transform="rotate(-90 212.6 345.8)">-75</text><text x="228.2" y="345.8" font-size="7.4" text-anchor="end" fill="#262626" transform="rotate(-90 228.2 345.8)">-60</text><text x="243.8" y="345.8" font-size="7.4" text-anchor="end" fill="#262626" transform="rotate(-90 243.8 345.8)">-45</text><text x="259.4" y="345.8" font-size="7.4" text-anchor="end" fill="#262626" transform="rotate(-90 259.4 345.8)">-30</text><text x="275" y="345.8" font-size="7.4" text-anchor="end" fill="#262626" transform="rotate(-90 275 345.8)">-15</text><text x="290.6" y="345.8" font-size="7.4" text-anchor="end" fill="#262626" transform="rotate(-90 290.6 345.8)">0</text><text x="306.2" y="345.8" font-size="7.4" text-anchor="end" fill="#262626" transform="rotate(-90 306.2 345.8)">15</text><text x="321.8" y="345.8" font-size="7.4" text-anchor="end" fill="#262626" transform="rotate(-90 321.8 345.8)">30</text><text x="337.4" y="345.8" font-size="7.4" text-anchor="end" fill="#262626" transform="rotate(-90 337.4 345.8)">45</text><text x="353" y="345.8" font-size="7.4" text-anchor="end" fill="#262626" transform="rotate(-90 353 345.8)">60</text><text x="368.6" y="345.8" font-size="7.4" text-anchor="end" fill="#262626" transform="rotate(-90 368.6 345.8)">75</text><text x="190.3" y="346.5" font-size="12" text-anchor="middle" fill="#000" >X</text><circle cx="288" cy="237.6" r="84.5" fill="url(#dgmid)"/><path d="M372.8,237.6A84.8,84.8 0 1 0 203.2,237.6A84.8,84.8 0 1 0 372.8,237.6ZM370.8,237.6L370.6,235.9L370.5,234.1L371.0,232.4L371.0,230.6L370.4,228.9L370.3,227.2L369.3,225.6L369.1,223.9L368.9,222.2L368.6,220.5L368.1,218.8L368.4,217.0L367.5,215.4L367.4,213.6L365.7,212.3L366.4,210.3L364.6,209.1L365.1,207.1L363.5,205.9L363.3,204.1L362.5,202.5L361.0,201.3L361.5,199.2L360.6,197.7L358.4,196.9L358.1,195.1L357.9,193.3L355.5,192.7L354.6,191.3L354.9,189.0L353.3,188.0L352.7,186.3L351.3,185.2L349.7,184.3L349.3,182.4L347.3,181.9L347.1,179.8L345.6,178.7L343.5,178.5L342.8,176.7L341.5,175.7L339.9,174.8L338.7,173.6L337.5,172.4L336.6,170.8L334.3,171.0L332.6,170.5L331.1,169.6L330.0,168.2L328.9,166.7L327.4,165.9L325.5,165.8L324.0,165.0L323.1,163.1L321.4,162.7L319.7,162.3L318.0,162.0L316.1,162.0L314.8,160.8L313.5,159.2L311.3,160.5L309.9,159.1L308.2,158.9L306.7,157.8L304.9,157.9L303.3,157.5L301.4,158.2L300.0,156.3L298.2,157.2L296.6,156.1L294.8,157.2L293.2,155.4L291.4,156.0L289.7,156.1L288.0,156.9L286.3,155.4L284.6,156.4L282.9,155.9L281.2,156.2L279.5,156.8L278.0,158.2L276.1,157.2L274.6,158.6L272.6,157.0L271.3,159.1L269.4,158.2L267.6,158.1L266.3,159.8L264.8,160.6L262.5,159.1L261.0,160.2L259.8,161.8L257.8,161.4L256.2,161.9L254.4,162.1L252.8,162.8L251.8,164.6L250.5,166.0L249.0,166.7L247.1,166.7L245.1,166.7L243.9,168.1L242.8,169.6L241.4,170.6L239.8,171.2L238.0,171.7L236.8,173.1L235.4,174.0L234.2,175.2L232.5,176.0L231.8,177.7L230.4,178.8L228.5,179.4L227.4,180.7L226.6,182.3L224.9,183.2L224.2,184.8L222.8,185.9L221.8,187.3L220.6,188.7L219.3,189.8L218.3,191.3L217.3,192.7L216.5,194.3L215.5,195.7L214.4,197.2L213.8,198.8L212.9,200.3L212.0,201.8L211.3,203.5L210.8,205.1L210.0,206.7L209.3,208.3L208.8,210.0L208.2,211.7L207.6,213.3L207.0,215.0L206.6,216.7L206.2,218.4L205.8,220.1L205.4,221.8L205.0,223.6L204.7,225.3L204.5,227.1L204.3,228.8L204.0,230.6L203.9,232.3L203.8,234.1L203.7,235.8L203.7,237.6L203.7,239.4L203.8,241.1L203.9,242.9L204.0,244.7L204.2,246.4L204.4,248.2L204.6,249.9L204.9,251.7L205.2,253.4L205.5,255.1L205.9,256.8L206.3,258.6L206.8,260.3L207.3,262.0L207.8,263.7L208.4,265.3L209.0,267.0L209.6,268.6L210.3,270.3L211.0,271.9L211.7,273.5L212.5,275.1L213.3,276.7L214.1,278.2L215.0,279.8L215.9,281.3L216.8,282.8L217.8,284.3L218.8,285.7L219.8,287.2L220.9,288.6L221.9,290.0L223.0,291.3L224.2,292.7L225.4,294.0L226.5,295.3L227.8,296.6L229.0,297.8L230.3,299.1L231.6,300.2L232.9,301.4L234.3,302.6L235.6,303.7L237.0,304.7L238.4,305.8L239.9,306.8L241.3,307.8L242.8,308.8L244.3,309.7L245.8,310.6L247.4,311.5L248.9,312.3L250.5,313.1L252.1,313.9L253.7,314.6L255.3,315.3L257.0,316.0L258.6,316.6L260.3,317.2L261.9,317.8L263.6,318.3L265.3,318.8L267.0,319.3L268.8,319.7L270.5,320.1L272.2,320.4L273.9,320.7L275.7,321.0L277.4,321.2L279.2,321.4L280.9,321.6L282.7,321.7L284.5,321.8L286.2,321.9L288.0,321.9L289.8,321.9L291.5,321.8L293.3,321.7L295.1,321.6L296.8,321.4L298.6,321.2L300.3,321.0L302.1,320.7L303.8,320.4L305.5,320.1L307.2,319.7L309.0,319.3L310.7,318.8L312.4,318.3L314.1,317.8L315.7,317.2L317.4,316.6L319.0,316.0L320.7,315.3L322.3,314.6L323.9,313.9L325.5,313.1L327.1,312.3L328.6,311.5L330.1,310.6L331.7,309.7L333.2,308.8L334.7,307.8L336.1,306.8L337.6,305.8L339.0,304.7L340.4,303.7L341.7,302.6L343.1,301.4L344.4,300.2L345.7,299.1L347.0,297.8L348.2,296.6L349.5,295.3L350.6,294.0L351.8,292.7L353.0,291.3L354.1,290.0L355.1,288.6L356.2,287.2L357.2,285.7L358.2,284.3L359.2,282.8L360.1,281.3L361.0,279.8L361.8,278.2L362.6,276.6L363.3,275.0L364.0,273.4L364.7,271.7L365.4,270.1L365.9,268.5L366.6,266.8L367.0,265.1L367.7,263.5L368.1,261.8L368.5,260.1L368.8,258.3L369.4,256.7L369.3,254.9L369.9,253.2L369.8,251.4L370.2,249.7L370.1,248.0L370.5,246.3L370.8,244.6L370.9,242.8L370.7,241.1L370.5,239.3Z" fill="#000" stroke="none" stroke-width="1" fill-rule="evenodd"/><path d="M288,237.6m76.1,-31.4h0.8v0.8h-0.8zm-26.9,-29.7h1.0v1.0h-1.0zm-39.3,-11.6h1.5v1.5h-1.5zm16.3,0.2h1.2v1.2h-1.2zm48.7,40.5h1.0v1.0h-1.0zm-17.4,-21.5h1.2v1.2h-1.2zm-83.0,-11.2h1.2v1.2h-1.2zm92.7,32.5h1.2v1.2h-1.2zm-102.2,-32.9h0.8v0.8h-0.8zm4.8,-9.9h0.8v0.8h-0.8zm55.2,3.8h1.0v1.0h-1.0zm-75.7,6.1h1.2v1.2h-1.2zm19.6,-7.7h0.8v0.8h-0.8zm79.9,12.2h1.0v1.0h-1.0zm-9.2,-0.5h1.5v1.5h-1.5zm22.4,20.0h1.5v1.5h-1.5zm-113.2,-15.5h0.8v0.8h-0.8zm114.4,5.3h0.8v0.8h-0.8zm-140.0,18.6h1.2v1.2h-1.2zm10.4,-15.8h1.5v1.5h-1.5zm80.0,-22.4h1.5v1.5h-1.5zm-32.2,-8.1h0.8v0.8h-0.8zm88.7,49.2h1.0v1.0h-1.0zm-38.3,-34.6h1.0v1.0h-1.0zm16.6,2.3h1.2v1.2h-1.2zm-11.5,-4.5h1.2v1.2h-1.2zm-57.8,-9.7h1.2v1.2h-1.2zm-14.7,6.8h0.8v0.8h-0.8zm11.5,-6.7h0.8v0.8h-0.8zm-20.2,6.9h1.0v1.0h-1.0zm59.9,-10.5h1.5v1.5h-1.5zm21.0,18.7h1.5v1.5h-1.5zm8.2,-4.1h1.0v1.0h-1.0zm-47.9,-12.2h1.5v1.5h-1.5zm-58.0,27.9h1.0v1.0h-1.0zm24.4,-23.2h1.0v1.0h-1.0zm93.9,17.4h1.0v1.0h-1.0zm7.6,14.8h0.8v0.8h-0.8zm8.1,6.7h1.2v1.2h-1.2zm9.5,45.4h0.8v0.8h-0.8zm-90.4,-91.2h1.2v1.2h-1.2zm67.8,24.3h0.8v0.8h-0.8zm22.4,56.0h1.2v1.2h-1.2zm0.7,-2.8h1.0v1.0h-1.0zm-75.9,-78.2h1.5v1.5h-1.5zm-69.9,29.9h1.0v1.0h-1.0zm-8.5,7.4h1.5v1.5h-1.5zm153.0,40.0h1.2v1.2h-1.2zm-124.0,-65.6h1.0v1.0h-1.0zm34.1,-12.0h0.8v0.8h-0.8zm56.5,19.6h0.8v0.8h-0.8zm-102.8,1.2h0.8v0.8h-0.8zm118.4,18.8h1.2v1.2h-1.2zm-103.5,-23.8h1.2v1.2h-1.2zm115.9,33.5h1.0v1.0h-1.0zm3.0,56.3h1.5v1.5h-1.5zm-27.2,-76.6h0.8v0.8h-0.8zm26.3,59.1h1.5v1.5h-1.5zm-117.3,-78.7h1.5v1.5h-1.5zm25.1,-0.0h1.0v1.0h-1.0zm60.2,10.3h1.0v1.0h-1.0zm-79.2,-11.0h1.0v1.0h-1.0zm60.1,-5.0h0.8v0.8h-0.8zm51.8,54.9h1.5v1.5h-1.5zm-18.0,-25.0h1.2v1.2h-1.2zm-119.8,-9.8h1.2v1.2h-1.2zm61.5,-23.6h1.5v1.5h-1.5zm79.3,94.0h0.8v0.8h-0.8zm-29.0,-64.7h1.5v1.5h-1.5zm-69.6,-21.4h1.5v1.5h-1.5zm58.5,15.8h1.5v1.5h-1.5zm33.9,35.5h0.8v0.8h-0.8zm-41.4,-46.6h1.5v1.5h-1.5zm0.1,-3.6h0.8v0.8h-0.8zm46.7,83.0h1.2v1.2h-1.2zm-68.3,-86.8h1.2v1.2h-1.2zm47.6,20.4h1.5v1.5h-1.5zm14.5,21.4h1.5v1.5h-1.5zm-20.0,-12.4h1.2v1.2h-1.2zm-10.4,-9.0h1.0v1.0h-1.0zm-11.4,-9.1h1.0v1.0h-1.0zm-39.8,-6.3h1.2v1.2h-1.2zm16.3,-8.6h0.8v0.8h-0.8zm45.3,28.6h1.2v1.2h-1.2zm4.7,-5.4h1.5v1.5h-1.5zm17.3,42.4h1.5v1.5h-1.5zm-127.5,-43.0h1.2v1.2h-1.2zm25.3,-17.3h0.8v0.8h-0.8zm92.3,32.8h1.5v1.5h-1.5zm-102.7,-30.0h0.8v0.8h-0.8zm40.0,-5.4h1.2v1.2h-1.2zm67.3,36.7h1.0v1.0h-1.0zm8.5,37.2h0.8v0.8h-0.8zm-123.1,-66.3h0.8v0.8h-0.8zm42.1,-12.9h1.5v1.5h-1.5zm-49.4,23.9h1.0v1.0h-1.0zm13.9,-11.1h1.0v1.0h-1.0zm35.5,-12.6h1.2v1.2h-1.2zm67.6,35.2h1.5v1.5h-1.5zm5.4,10.2h1.0v1.0h-1.0zm-94.8,-40.3h0.8v0.8h-0.8zm-21.8,7.0h1.2v1.2h-1.2zm116.5,29.9h0.8v0.8h-0.8zm7.1,35.3h0.8v0.8h-0.8zm-11.8,-24.7h1.2v1.2h-1.2zm-125.6,-28.3h1.0v1.0h-1.0zm66.0,-16.7h0.8v0.8h-0.8zm-36.2,-2.0h0.8v0.8h-0.8zm23.1,-2.7h0.8v0.8h-0.8zm36.7,10.8h1.0v1.0h-1.0zm-3.4,-8.2h1.0v1.0h-1.0zm-79.2,14.3h0.8v0.8h-0.8zm110.1,9.7h1.2v1.2h-1.2zm-28.2,-21.7h1.5v1.5h-1.5zm49.2,71.3h1.5v1.5h-1.5zm-129.8,-55.2h1.5v1.5h-1.5zm98.3,1.0h1.5v1.5h-1.5zm-20.9,-6.7h1.2v1.2h-1.2zm-52.9,-2.4h1.2v1.2h-1.2zm47.7,-3.0h1.2v1.2h-1.2zm33.8,21.9h1.0v1.0h-1.0zm-139.5,35.3h1.0v1.0h-1.0zm106.2,-64.2h1.5v1.5h-1.5zm18.4,4.9h1.2v1.2h-1.2zm14.4,21.9h1.2v1.2h-1.2zm-22.8,-24.1h1.0v1.0h-1.0zm18.2,16.4h0.8v0.8h-0.8zm-53.4,-12.5h1.0v1.0h-1.0zm42.3,2.4h1.0v1.0h-1.0zm-36.3,-14.9h1.5v1.5h-1.5zm22.9,6.8h0.8v0.8h-0.8zm56.5,75.3h0.8v0.8h-0.8zm-72.0,-81.0h1.2v1.2h-1.2zm54.8,39.4h0.8v0.8h-0.8zm-99.8,-26.6h1.5v1.5h-1.5zm-20.8,12.9h1.2v1.2h-1.2zm9.2,-13.5h1.2v1.2h-1.2zm17.3,-8.7h0.8v0.8h-0.8zm-43.8,37.1h1.0v1.0h-1.0zm58.2,-29.3h1.2v1.2h-1.2zm48.5,-0.1h1.5v1.5h-1.5zm1.0,-4.1h1.0v1.0h-1.0zm34.4,39.6h0.8v0.8h-0.8zm12.3,45.8h1.2v1.2h-1.2zm-51.0,-79.8h1.5v1.5h-1.5zm-85.5,5.4h1.0v1.0h-1.0zm20.0,-1.8h1.2v1.2h-1.2zm23.4,-13.5h1.2v1.2h-1.2zm10.8,4.0h0.8v0.8h-0.8zm-50.8,11.7h1.0v1.0h-1.0zm129.5,43.4h0.8v0.8h-0.8zm-36.7,-46.9h1.2v1.2h-1.2zm-84.1,-5.2h1.0v1.0h-1.0zm6.4,-2.0h1.5v1.5h-1.5zm50.4,-7.7h1.5v1.5h-1.5zm-67.4,23.7h1.0v1.0h-1.0zm130.9,86.5h1.0v1.0h-1.0zm-45.6,-99.8h1.0v1.0h-1.0zm15.8,7.8h0.8v0.8h-0.8zm-99.1,0.6h1.2v1.2h-1.2zm39.1,-19.3h1.0v1.0h-1.0zm-3.6,5.3h1.2v1.2h-1.2zm65.3,11.9h1.5v1.5h-1.5zm16.9,18.9h1.5v1.5h-1.5zm-29.2,-16.3h1.0v1.0h-1.0zm38.9,95.0h1.0v1.0h-1.0zm-11.7,-81.6h1.2v1.2h-1.2zm-67.0,-33.7h1.2v1.2h-1.2zm-39.2,10.7h1.2v1.2h-1.2zm-5.8,12.1h1.5v1.5h-1.5zm98.0,7.5h1.5v1.5h-1.5zm31.7,58.8h1.0v1.0h-1.0zm-148.1,-54.4h1.2v1.2h-1.2zm35.3,-17.9h1.2v1.2h-1.2zm109.9,51.2h1.0v1.0h-1.0zm-18.0,-33.7h1.0v1.0h-1.0zm-79.8,-27.8h1.5v1.5h-1.5zm33.7,-0.0h1.2v1.2h-1.2zm57.9,57.8h1.0v1.0h-1.0zm-157.6,10.6h1.2v1.2h-1.2zm36.6,-55.3h0.8v0.8h-0.8zm96.9,8.4h1.0v1.0h-1.0zm-33.9,-26.8h1.5v1.5h-1.5zm49.2,29.8h0.8v0.8h-0.8zm-134.3,7.3h0.8v0.8h-0.8zm109.3,-20.5h0.8v0.8h-0.8zm-2.6,-9.5h1.0v1.0h-1.0zm-65.4,-3.4h0.8v0.8h-0.8zm17.3,6.3h1.2v1.2h-1.2zm90.0,96.2h1.0v1.0h-1.0zm-56.2,-97.8h1.0v1.0h-1.0zm57.1,54.9h1.0v1.0h-1.0zm-54.7,-60.3h1.2v1.2h-1.2zm-31.9,0.9h1.0v1.0h-1.0zm80.3,40.8h1.0v1.0h-1.0zm-0.9,4.0h1.5v1.5h-1.5zm-13.3,-21.7h1.0v1.0h-1.0zm20.6,38.0h1.5v1.5h-1.5zm-153.6,-24.7h1.2v1.2h-1.2zm74.2,-41.8h1.2v1.2h-1.2zm-59.0,23.3h1.2v1.2h-1.2zm39.5,-14.1h0.8v0.8h-0.8zm27.6,-6.4h1.0v1.0h-1.0zm70.7,90.5h1.2v1.2h-1.2zm-2.5,18.5h1.2v1.2h-1.2zm-115.9,-94.0h1.2v1.2h-1.2zm70.7,-8.7h1.2v1.2h-1.2zm50.1,76.7h0.8v0.8h-0.8zm-33.4,-67.7h0.8v0.8h-0.8zm-68.2,-15.5h1.2v1.2h-1.2zm4.2,4.3h0.8v0.8h-0.8zm21.0,-1.2h1.2v1.2h-1.2zm-44.3,4.6h1.0v1.0h-1.0zm57.4,-4.8h1.0v1.0h-1.0zm-62.9,6.8h1.0v1.0h-1.0zm79.5,-3.9h1.0v1.0h-1.0zm-97.9,20.1h0.8v0.8h-0.8zm12.3,-11.0h0.8v0.8h-0.8zm33.1,-12.1h0.8v0.8h-0.8zm46.1,0.4h1.2v1.2h-1.2zm-72.3,8.4h1.2v1.2h-1.2zm106.9,15.2h1.5v1.5h-1.5zm-3.1,-2.3h0.8v0.8h-0.8zm-41.5,-21.5h1.0v1.0h-1.0zm-23.3,3.9h1.2v1.2h-1.2zm50.2,17.2h1.0v1.0h-1.0zm-33.8,-24.9h1.5v1.5h-1.5zm32.8,20.6h1.2v1.2h-1.2zm35.3,43.6h0.8v0.8h-0.8zm-56.5,-54.2h1.5v1.5h-1.5zm-15.7,-10.3h1.5v1.5h-1.5zm-32.5,7.2h1.0v1.0h-1.0zm93.6,27.9h1.0v1.0h-1.0zm-95.0,-30.5h1.2v1.2h-1.2zm27.8,-3.8h1.5v1.5h-1.5zm-22.9,2.6h1.0v1.0h-1.0zm62.6,13.9h1.0v1.0h-1.0zm-55.4,-6.7h1.0v1.0h-1.0zm-64.7,42.7h1.0v1.0h-1.0zm41.6,-36.3h1.2v1.2h-1.2zm120.1,67.7h1.2v1.2h-1.2zm-74.9,-84.0h0.8v0.8h-0.8zm-51.3,9.7h1.5v1.5h-1.5zm26.3,-2.3h0.8v0.8h-0.8zm-62.2,45.4h1.0v1.0h-1.0zm155.3,-1.7h1.0v1.0h-1.0zm-20.9,-24.4h1.0v1.0h-1.0zm-122.7,3.4h1.5v1.5h-1.5zm58.1,-29.7h0.8v0.8h-0.8zm7.2,6.1h1.5v1.5h-1.5zm-78.7,50.8h1.5v1.5h-1.5zm119.7,-44.0h1.5v1.5h-1.5zm-22.1,-12.6h0.8v0.8h-0.8zm-52.3,8.3h1.0v1.0h-1.0zm113.5,43.6h0.8v0.8h-0.8zm-98.4,-47.5h1.5v1.5h-1.5zm75.1,13.1h1.0v1.0h-1.0zm-45.8,-10.2h1.5v1.5h-1.5zm-43.1,0.5h1.5v1.5h-1.5zm30.4,-2.2h1.0v1.0h-1.0zm64.9,22.7h1.0v1.0h-1.0zm-26.1,-15.5h1.0v1.0h-1.0zm-76.9,-4.8h1.0v1.0h-1.0zm10.9,0.3h1.5v1.5h-1.5zm61.7,2.8h1.5v1.5h-1.5zm-45.7,-8.1h0.8v0.8h-0.8zm-28.4,5.8h1.5v1.5h-1.5zm18.1,-4.1h1.0v1.0h-1.0zm22.4,-5.5h1.0v1.0h-1.0zm-29.1,7.9h0.8v0.8h-0.8zm106.7,37.2h1.2v1.2h-1.2zm6.2,21.1h1.5v1.5h-1.5zm-20.1,-41.2h1.0v1.0h-1.0zm-97.9,-18.2h1.5v1.5h-1.5zm58.1,7.0h1.5v1.5h-1.5zm-39.6,-5.6h0.8v0.8h-0.8zm37.5,-4.7h1.2v1.2h-1.2zm-23.3,0.9h1.0v1.0h-1.0zm31.8,7.4h1.5v1.5h-1.5zm-98.2,22.9h0.8v0.8h-0.8zm144.9,30.0h1.5v1.5h-1.5zm-115.3,-49.0h1.5v1.5h-1.5zm64.9,-11.7h1.5v1.5h-1.5zm-82.8,20.9h1.0v1.0h-1.0zm64.1,-16.5h1.0v1.0h-1.0zm34.4,10.3h1.0v1.0h-1.0zm38.1,56.1h1.2v1.2h-1.2zm-1.2,-26.6h1.5v1.5h-1.5zm-131.4,-25.0h1.5v1.5h-1.5zm134.2,50.9h0.8v0.8h-0.8zm-50.9,-64.2h0.8v0.8h-0.8zm-22.4,-1.4h1.5v1.5h-1.5zm53.1,27.6h0.8v0.8h-0.8zm18.4,14.7h0.8v0.8h-0.8zm-40.6,-38.8h1.5v1.5h-1.5zm40.8,94.9h0.8v0.8h-0.8zm-82.0,-106.6h1.0v1.0h-1.0zm-15.7,4.3h0.8v0.8h-0.8zm99.0,92.8h1.0v1.0h-1.0zm-34.5,-76.8h1.2v1.2h-1.2zm6.8,-4.3h1.5v1.5h-1.5zm17.9,18.3h1.2v1.2h-1.2zm-66.3,-36.0h1.0v1.0h-1.0zm52.5,34.7h1.2v1.2h-1.2zm17.7,14.5h1.2v1.2h-1.2zm-31.3,-26.0h1.0v1.0h-1.0zm-21.8,-8.6h1.5v1.5h-1.5zm36.3,16.7h0.8v0.8h-0.8zm-83.3,-17.3h1.2v1.2h-1.2zm-5.8,-0.5h1.5v1.5h-1.5zm115.8,72.6h1.2v1.2h-1.2zm-48.5,-66.6h1.5v1.5h-1.5zm-35.8,-7.0h0.8v0.8h-0.8zm27.3,-8.8h1.5v1.5h-1.5zm-45.1,0.8h1.5v1.5h-1.5zm35.5,-2.0h1.0v1.0h-1.0zm32.9,20.1h1.0v1.0h-1.0zm-108.6,2.6h1.5v1.5h-1.5zm-4.0,3.0h1.2v1.2h-1.2zm144.6,71.9h1.2v1.2h-1.2zm1.1,-29.4h1.5v1.5h-1.5zm-79.4,-67.8h0.8v0.8h-0.8zm79.8,83.9h1.5v1.5h-1.5zm-129.5,-64.2h0.8v0.8h-0.8zm110.4,8.0h1.5v1.5h-1.5zm-19.5,-18.9h1.5v1.5h-1.5zm-41.4,-10.6h1.2v1.2h-1.2zm14.7,4.1h0.8v0.8h-0.8zm-100.5,63.9h1.0v1.0h-1.0zm45.9,-53.1h1.0v1.0h-1.0zm102.6,15.1h1.0v1.0h-1.0zm16.8,39.2h1.2v1.2h-1.2zm-139.8,-41.7h1.2v1.2h-1.2zm45.0,-25.1h1.2v1.2h-1.2zm55.6,7.7h0.8v0.8h-0.8zm-91.4,10.5h0.8v0.8h-0.8zm111.0,12.9h1.2v1.2h-1.2zm-94.5,-18.0h1.5v1.5h-1.5zm-16.7,2.7h1.5v1.5h-1.5zm121.3,22.9h1.2v1.2h-1.2zm3.2,20.4h1.5v1.5h-1.5zm-54.0,-50.3h1.0v1.0h-1.0zm33.8,8.7h1.0v1.0h-1.0zm-25.4,-4.2h1.2v1.2h-1.2zm28.3,14.5h1.2v1.2h-1.2zm11.0,12.8h1.0v1.0h-1.0zm-7.2,-16.0h0.8v0.8h-0.8zm-8.6,3.0h1.0v1.0h-1.0zm-14.0,-16.4h1.0v1.0h-1.0zm-29.9,-14.4h1.0v1.0h-1.0zm5.1,2.3h1.0v1.0h-1.0zm-37.4,0.0h1.5v1.5h-1.5zm39.9,-0.4h1.5v1.5h-1.5zm43.7,30.5h1.0v1.0h-1.0zm12.3,11.0h1.5v1.5h-1.5zm9.6,37.4h1.2v1.2h-1.2zm-53.1,-66.5h1.2v1.2h-1.2zm-74.7,-2.6h1.5v1.5h-1.5zm123.3,44.3h1.0v1.0h-1.0zm-81.3,-55.0h0.8v0.8h-0.8zm38.8,6.1h0.8v0.8h-0.8zm-84.2,13.0h0.8v0.8h-0.8zm70.4,-14.3h1.0v1.0h-1.0zm1.8,8.3h0.8v0.8h-0.8zm-25.7,-5.2h1.5v1.5h-1.5zm83.1,67.3h1.0v1.0h-1.0zm-58.3,-74.1h1.5v1.5h-1.5zm51.1,50.0h1.2v1.2h-1.2zm0.3,-2.3h1.0v1.0h-1.0zm-53.1,-35.4h0.8v0.8h-0.8zm53.7,49.5h0.8v0.8h-0.8zm-106.6,-56.6h1.0v1.0h-1.0zm107.1,45.8h1.5v1.5h-1.5zm-41.7,-46.5h0.8v0.8h-0.8zm46.9,60.1h1.5v1.5h-1.5zm-31.0,-51.1h1.5v1.5h-1.5zm-30.6,-14.5h1.5v1.5h-1.5zm-35.8,5.1h1.2v1.2h-1.2zm-5.2,6.1h1.0v1.0h-1.0zm67.9,3.7h1.2v1.2h-1.2zm-49.0,-3.8h0.8v0.8h-0.8zm73.5,45.6h1.2v1.2h-1.2zm-1.0,-2.6h0.8v0.8h-0.8zm12.4,13.6h1.5v1.5h-1.5zm-85.5,-66.8h1.2v1.2h-1.2zm-18.9,10.3h0.8v0.8h-0.8zm38.7,-8.5h1.5v1.5h-1.5zm63.2,72.0h0.8v0.8h-0.8zm-40.0,-62.9h1.0v1.0h-1.0zm-8.6,1.8h0.8v0.8h-0.8zm18.7,11.6h1.2v1.2h-1.2zm29.5,48.7h1.5v1.5h-1.5zm-67.0,-65.1h1.5v1.5h-1.5zm-88.1,34.9h0.8v0.8h-0.8zm43.9,-39.7h1.5v1.5h-1.5zm32.5,-6.0h1.2v1.2h-1.2zm-9.4,10.2h1.2v1.2h-1.2zm56.5,4.4h1.2v1.2h-1.2zm-67.1,-6.4h1.0v1.0h-1.0zm4.5,-4.7h1.5v1.5h-1.5zm56.6,16.2h1.0v1.0h-1.0zm-32.9,-6.9h1.0v1.0h-1.0zm49.9,23.1h1.0v1.0h-1.0zm-5.7,-1.8h1.2v1.2h-1.2zm-49.9,-31.3h1.5v1.5h-1.5zm-37.2,6.7h1.0v1.0h-1.0zm97.6,31.6h0.8v0.8h-0.8zm-25.6,-21.0h1.0v1.0h-1.0zm-19.8,-7.6h1.2v1.2h-1.2zm-22.6,-9.6h1.5v1.5h-1.5zm50.7,20.9h0.8v0.8h-0.8zm-80.4,-13.7h1.5v1.5h-1.5zm57.7,5.1h1.5v1.5h-1.5zm19.1,-3.2h1.5v1.5h-1.5zm13.5,9.6h0.8v0.8h-0.8zm11.3,17.4h0.8v0.8h-0.8zm-45.3,-35.5h1.0v1.0h-1.0zm-81.8,20.6h1.2v1.2h-1.2zm36.1,-20.2h0.8v0.8h-0.8zm91.6,38.2h0.8v0.8h-0.8zm-67.4,-39.3h1.5v1.5h-1.5zm-60.3,21.1h0.8v0.8h-0.8zm103.0,-5.3h1.0v1.0h-1.0zm-52.1,-17.9h0.8v0.8h-0.8zm-31.9,13.8h1.5v1.5h-1.5zm19.3,-8.0h1.5v1.5h-1.5zm-12.8,0.5h0.8v0.8h-0.8zm67.0,9.1h1.0v1.0h-1.0zm-55.2,-12.6h1.0v1.0h-1.0zm-40.4,25.2h1.2v1.2h-1.2zm142.1,45.6h1.5v1.5h-1.5zm-86.8,-73.4h1.0v1.0h-1.0zm84.1,78.5h1.2v1.2h-1.2zm-33.2,-57.9h1.2v1.2h-1.2zm32.3,50.2h1.5v1.5h-1.5zm-0.0,2.9h1.5v1.5h-1.5zm-41.2,-66.9h0.8v0.8h-0.8zm-101.3,23.9h1.5v1.5h-1.5zm99.0,-16.2h1.5v1.5h-1.5zm18.9,11.1h0.8v0.8h-0.8zm-119.2,8.9h1.0v1.0h-1.0zm65.0,-35.4h0.8v0.8h-0.8zm69.8,35.9h0.8v0.8h-0.8zm-120.4,-8.6h1.2v1.2h-1.2zm43.5,-21.8h1.0v1.0h-1.0zm4.9,-4.7h1.0v1.0h-1.0zm-0.7,11.6h0.8v0.8h-0.8zm-73.3,44.3h0.8v0.8h-0.8zm49.5,-49.9h0.8v0.8h-0.8zm-12.8,7.9h1.2v1.2h-1.2zm69.8,-9.7h1.5v1.5h-1.5zm-32.5,-2.4h1.2v1.2h-1.2zm76.1,55.4h1.0v1.0h-1.0zm-10.1,-21.5h1.0v1.0h-1.0zm18.6,55.1h1.5v1.5h-1.5zm-138.9,-67.4h1.0v1.0h-1.0zm97.5,-6.3h1.2v1.2h-1.2zm2.6,-7.6h0.8v0.8h-0.8zm-81.5,9.2h0.8v0.8h-0.8zm14.0,-10.0h1.5v1.5h-1.5zm34.8,-7.1h1.0v1.0h-1.0zm-42.6,16.8h1.5v1.5h-1.5zm-13.4,-1.7h1.2v1.2h-1.2zm128.5,59.4h1.0v1.0h-1.0zm-3.2,-13.3h1.0v1.0h-1.0zm-22.9,-40.4h1.2v1.2h-1.2zm-68.6,-9.9h1.0v1.0h-1.0zm29.0,1.5h0.8v0.8h-0.8zm38.4,4.7h1.5v1.5h-1.5zm1.3,8.0h0.8v0.8h-0.8zm-99.9,-9.7h0.8v0.8h-0.8zm15.1,-12.4h0.8v0.8h-0.8zm30.3,1.2h0.8v0.8h-0.8zm48.0,19.7h0.8v0.8h-0.8zm31.5,38.4h1.5v1.5h-1.5zm-32.0,-50.2h1.5v1.5h-1.5zm-27.4,-6.0h1.2v1.2h-1.2zm-8.3,-3.4h1.2v1.2h-1.2zm-60.3,19.2h1.0v1.0h-1.0zm127.1,65.2h0.8v0.8h-0.8zm-54.4,-82.8h1.2v1.2h-1.2zm-61.2,5.8h1.0v1.0h-1.0zm116.4,75.6h1.0v1.0h-1.0zm-92.5,-79.7h0.8v0.8h-0.8zm81.2,26.4h1.2v1.2h-1.2zm-39.2,-22.0h1.5v1.5h-1.5zm33.6,16.5h1.0v1.0h-1.0zm-12.7,-7.3h1.2v1.2h-1.2zm33.3,57.0h1.0v1.0h-1.0zm-70.4,-72.9h1.0v1.0h-1.0zm47.2,34.6h1.2v1.2h-1.2zm-3.0,-18.1h1.5v1.5h-1.5zm-64.0,-8.4h1.0v1.0h-1.0zm19.0,-5.1h1.5v1.5h-1.5zm67.8,59.9h0.8v0.8h-0.8zm-12.8,-22.4h1.2v1.2h-1.2zm14.0,49.2h1.2v1.2h-1.2zm-68.2,-92.8h0.8v0.8h-0.8zm-73.9,23.6h1.0v1.0h-1.0zm41.3,-23.3h1.0v1.0h-1.0zm11.7,-1.8h1.5v1.5h-1.5zm43.8,13.0h1.0v1.0h-1.0zm-1.7,-3.2h0.8v0.8h-0.8zm49.3,72.0h1.2v1.2h-1.2zm-51.9,-74.1h1.0v1.0h-1.0zm-4.4,-4.1h1.0v1.0h-1.0zm-45.5,0.8h1.5v1.5h-1.5zm-29.7,11.9h1.0v1.0h-1.0zm71.8,-13.9h0.8v0.8h-0.8zm-48.1,10.1h1.2v1.2h-1.2zm-6.1,-5.0h1.0v1.0h-1.0zm96.0,22.4h1.2v1.2h-1.2zm9.9,19.9h1.5v1.5h-1.5zm-138.6,-21.5h1.0v1.0h-1.0zm3.2,-5.3h1.0v1.0h-1.0zm90.3,-12.5h1.5v1.5h-1.5zm3.5,6.9h1.0v1.0h-1.0zm-64.5,-2.2h0.8v0.8h-0.8zm62.9,-10.7h1.5v1.5h-1.5zm-111.7,51.5h1.0v1.0h-1.0zm79.8,-44.8h1.5v1.5h-1.5zm-24.6,-8.7h1.5v1.5h-1.5zm51.2,1.0h0.8v0.8h-0.8zm51.8,53.1h0.8v0.8h-0.8zm-88.7,-47.0h1.2v1.2h-1.2zm-26.7,8.0h1.5v1.5h-1.5zm55.4,-12.1h0.8v0.8h-0.8zm-51.4,2.2h1.0v1.0h-1.0zm103.4,42.8h1.2v1.2h-1.2zm-7.7,-8.3h0.8v0.8h-0.8zm-27.0,-30.5h1.5v1.5h-1.5zm-69.6,-6.3h1.5v1.5h-1.5zm97.3,23.2h0.8v0.8h-0.8zm-20.6,-4.3h1.0v1.0h-1.0zm28.0,32.3h1.5v1.5h-1.5zm-101.6,-46.4h1.0v1.0h-1.0zm109.2,47.1h0.8v0.8h-0.8zm-30.9,-39.5h1.0v1.0h-1.0zm-76.4,-14.1h1.0v1.0h-1.0zm75.3,16.9h1.0v1.0h-1.0zm-59.3,-17.3h1.5v1.5h-1.5zm90.6,48.2h1.0v1.0h-1.0zm2.9,12.7h1.2v1.2h-1.2zm-130.3,-44.8h1.5v1.5h-1.5zm99.4,5.0h1.0v1.0h-1.0zm0.6,-8.2h0.8v0.8h-0.8zm27.1,66.3h1.0v1.0h-1.0zm-126.2,-67.5h1.2v1.2h-1.2zm50.7,-16.5h0.8v0.8h-0.8zm52.2,24.4h1.5v1.5h-1.5zm22.6,49.7h1.0v1.0h-1.0zm-75.0,-74.1h1.2v1.2h-1.2zm-39.6,12.5h0.8v0.8h-0.8zm8.3,-3.3h1.0v1.0h-1.0zm86.7,18.9h0.8v0.8h-0.8zm-58.5,-15.1h1.0v1.0h-1.0zm-26.4,-4.7h0.8v0.8h-0.8zm7.1,0.2h1.5v1.5h-1.5zm47.2,-4.5h1.2v1.2h-1.2zm-6.5,11.4h1.2v1.2h-1.2zm-24.3,-5.2h1.5v1.5h-1.5zm-5.1,-5.0h1.0v1.0h-1.0zm14.6,-4.9h1.0v1.0h-1.0zm72.6,56.1h1.2v1.2h-1.2zm-72.3,-46.5h1.0v1.0h-1.0zm-21.9,-7.8h1.5v1.5h-1.5zm-26.2,19.5h1.5v1.5h-1.5zm-20.5,8.2h1.2v1.2h-1.2zm141.1,49.4h1.0v1.0h-1.0zm-60.8,-70.6h0.8v0.8h-0.8zm26.6,10.5h1.0v1.0h-1.0zm26.6,20.9h1.5v1.5h-1.5zm-125.7,-19.0h1.2v1.2h-1.2zm6.8,-5.4h1.5v1.5h-1.5zm64.9,-10.5h0.8v0.8h-0.8zm-32.6,-0.4h0.8v0.8h-0.8zm6.1,2.1h1.2v1.2h-1.2zm43.9,1.1h1.5v1.5h-1.5zm47.3,77.4h1.0v1.0h-1.0zm-0.4,12.9h0.8v0.8h-0.8zm-4.8,-38.9h1.2v1.2h-1.2zm-58.0,-57.1h1.0v1.0h-1.0zm-38.7,7.7h1.0v1.0h-1.0zm82.0,18.1h0.8v0.8h-0.8zm0.7,5.7h1.2v1.2h-1.2zm6.6,11.0h1.5v1.5h-1.5zm6.7,7.6h1.0v1.0h-1.0zm-63.4,-47.2h1.0v1.0h-1.0zm-93.7,59.4h1.2v1.2h-1.2zm143.4,-33.8h1.0v1.0h-1.0zm-68.6,-20.8h1.2v1.2h-1.2zm52.6,9.9h1.2v1.2h-1.2zm-54.1,-15.8h1.0v1.0h-1.0zm-29.5,9.2h0.8v0.8h-0.8zm115.5,38.9h0.8v0.8h-0.8zm-70.9,-50.2h1.2v1.2h-1.2zm-23.9,4.7h1.5v1.5h-1.5zm71.5,24.8h0.8v0.8h-0.8zm21.4,30.8h1.0v1.0h-1.0zm-6.0,-19.5h1.0v1.0h-1.0zm-107.3,-27.6h1.0v1.0h-1.0zm120.8,69.1h1.2v1.2h-1.2zm-129.3,-61.1h1.5v1.5h-1.5zm32.9,-21.7h1.5v1.5h-1.5zm91.0,53.1h1.2v1.2h-1.2zm-79.1,-50.3h1.2v1.2h-1.2zm6.7,2.9h0.8v0.8h-0.8zm-42.6,2.3h1.2v1.2h-1.2zm17.3,-7.1h1.2v1.2h-1.2zm49.8,4.1h1.2v1.2h-1.2zm13.3,5.8h1.2v1.2h-1.2zm-7.7,-3.2h1.0v1.0h-1.0zm39.1,47.5h0.8v0.8h-0.8zm-110.4,-44.0h1.5v1.5h-1.5zm114.3,73.6h1.2v1.2h-1.2zm-11.6,-44.1h1.2v1.2h-1.2zm-120.8,-19.8h0.8v0.8h-0.8zm81.8,-17.7h0.8v0.8h-0.8zm24.7,20.5h1.0v1.0h-1.0zm27.3,75.5h1.5v1.5h-1.5zm-85.9,-99.4h1.5v1.5h-1.5zm-43.2,15.4h1.5v1.5h-1.5zm76.3,-10.6h1.5v1.5h-1.5zm-20.0,-4.6h1.0v1.0h-1.0zm75.9,82.1h0.8v0.8h-0.8zm-2.1,8.0h1.5v1.5h-1.5zm-65.1,-78.4h1.0v1.0h-1.0zm-4.9,-12.2h0.8v0.8h-0.8zm7.6,5.2h0.8v0.8h-0.8zm20.8,10.7h1.2v1.2h-1.2zm36.7,48.1h1.0v1.0h-1.0zm-41.0,-52.7h0.8v0.8h-0.8zm-20.8,-9.5h1.5v1.5h-1.5zm6.6,1.6h1.0v1.0h-1.0zm-27.5,1.9h1.5v1.5h-1.5zm-42.4,11.8h1.2v1.2h-1.2zm19.8,-7.2h0.8v0.8h-0.8zm-9.4,3.4h1.5v1.5h-1.5zm61.7,-4.3h1.0v1.0h-1.0zm-25.2,-0.2h0.8v0.8h-0.8zm0.7,4.0h1.5v1.5h-1.5zm0.5,-1.0h1.2v1.2h-1.2zm-14.0,-0.4h1.2v1.2h-1.2zm-33.0,7.9h1.0v1.0h-1.0zm83.2,-0.8h1.5v1.5h-1.5zm45.3,77.6h1.2v1.2h-1.2zm-52.0,-81.5h0.8v0.8h-0.8zm19.1,-0.6h1.2v1.2h-1.2zm34.8,55.8h1.5v1.5h-1.5zm-51.1,-55.6h1.2v1.2h-1.2zm48.4,93.1h1.2v1.2h-1.2zm-87.6,-100.2h0.8v0.8h-0.8zm84.2,109.0h0.8v0.8h-0.8zm-6.2,-72.9h0.8v0.8h-0.8zm-99.7,-33.0h0.8v0.8h-0.8zm26.1,2.8h1.2v1.2h-1.2zm9.4,-3.1h1.2v1.2h-1.2zm60.5,32.7h1.5v1.5h-1.5zm-74.3,-33.5h0.8v0.8h-0.8zm59.6,18.0h1.2v1.2h-1.2zm-1.0,-7.7h1.0v1.0h-1.0zm-33.7,-13.0h0.8v0.8h-0.8zm-42.2,9.0h1.0v1.0h-1.0zm74.4,0.2h1.5v1.5h-1.5zm-72.8,-5.9h1.5v1.5h-1.5zm77.8,19.9h1.0v1.0h-1.0zm-20.9,-21.9h0.8v0.8h-0.8zm30.8,28.7h0.8v0.8h-0.8zm-76.6,-28.8h1.0v1.0h-1.0zm-23.5,1.0h0.8v0.8h-0.8zm26.6,2.4h1.2v1.2h-1.2zm89.0,52.4h0.8v0.8h-0.8zm-67.4,-49.7h1.0v1.0h-1.0zm-41.1,1.2h1.0v1.0h-1.0zm80.2,10.6h0.8v0.8h-0.8zm-67.0,-14.9h0.8v0.8h-0.8zm51.3,4.6h1.2v1.2h-1.2zm45.8,49.8h0.8v0.8h-0.8zm-117.5,-55.4h1.0v1.0h-1.0zm77.0,-0.0h0.8v0.8h-0.8zm-93.4,8.2h1.2v1.2h-1.2zm64.9,-5.7h1.2v1.2h-1.2zm-3.2,-10.7h1.2v1.2h-1.2zm-55.4,12.6h1.2v1.2h-1.2zm95.7,1.7h1.5v1.5h-1.5zm25.4,37.3h1.0v1.0h-1.0zm-89.2,-49.9h1.0v1.0h-1.0zm-42.1,21.6h0.8v0.8h-0.8zm47.7,-13.6h1.5v1.5h-1.5zm-24.2,-0.3h1.2v1.2h-1.2zm-9.1,7.3h1.5v1.5h-1.5zm24.6,-16.4h1.0v1.0h-1.0zm98.2,77.3h1.0v1.0h-1.0zm-83.9,-76.5h0.8v0.8h-0.8zm28.6,5.2h0.8v0.8h-0.8zm0.6,-1.1h1.5v1.5h-1.5zm-40.1,5.3h1.2v1.2h-1.2zm-8.8,-4.7h1.2v1.2h-1.2zm100.8,61.4h1.5v1.5h-1.5zm-12.4,-37.7h1.2v1.2h-1.2zm-103.3,-16.3h0.8v0.8h-0.8zm-7.4,-2.7h1.5v1.5h-1.5zm-21.0,22.4h1.0v1.0h-1.0zm96.4,-29.8h1.2v1.2h-1.2zm-23.1,1.2h1.5v1.5h-1.5zm12.8,4.9h1.5v1.5h-1.5zm62.1,86.3h1.0v1.0h-1.0zm-106.1,-93.9h0.8v0.8h-0.8zm32.5,4.6h0.8v0.8h-0.8zm-4.9,-1.8h1.0v1.0h-1.0zm-24.9,-3.8h1.2v1.2h-1.2zm101.3,67.2h1.0v1.0h-1.0zm-104.6,-62.1h1.2v1.2h-1.2zm104.1,100.5h1.2v1.2h-1.2zm-142.3,-79.1h1.5v1.5h-1.5zm16.9,-12.9h1.0v1.0h-1.0zm82.3,-0.7h0.8v0.8h-0.8zm-18.3,-9.6h1.2v1.2h-1.2zm-92.7,39.3h1.0v1.0h-1.0zm25.1,-27.9h1.2v1.2h-1.2zm96.4,0.3h0.8v0.8h-0.8zm-68.6,-12.3h1.2v1.2h-1.2zm0.7,8.7h1.0v1.0h-1.0zm79.8,16.0h1.0v1.0h-1.0zm-77.0,-26.0h0.8v0.8h-0.8zm26.1,1.9h0.8v0.8h-0.8zm-27.9,-2.4h0.8v0.8h-0.8zm60.6,10.4h1.0v1.0h-1.0zm4.3,10.4h1.2v1.2h-1.2zm-10.6,-12.3h1.0v1.0h-1.0zm-20.7,-0.1h1.0v1.0h-1.0zm-73.6,13.2h1.2v1.2h-1.2zm134.6,43.8h1.2v1.2h-1.2zm-37.9,-60.4h1.5v1.5h-1.5zm-82.3,8.0h1.2v1.2h-1.2zm83.8,-7.6h1.2v1.2h-1.2zm-100.5,17.7h1.2v1.2h-1.2zm139.4,33.7h1.5v1.5h-1.5zm-118.1,-47.9h1.5v1.5h-1.5zm80.2,3.5h1.0v1.0h-1.0zm40.0,59.2h0.8v0.8h-0.8zm-23.2,-50.6h0.8v0.8h-0.8zm-8.7,-7.8h1.2v1.2h-1.2zm-108.5,11.0h1.5v1.5h-1.5zm31.2,-14.5h1.5v1.5h-1.5zm-6.3,-5.1h1.5v1.5h-1.5zm-21.0,19.4h1.0v1.0h-1.0zm123.2,8.2h1.2v1.2h-1.2zm-92.3,-27.7h0.8v0.8h-0.8zm7.0,1.9h1.2v1.2h-1.2zm-18.9,-1.1h1.0v1.0h-1.0zm101.9,21.9h1.0v1.0h-1.0zm-79.0,-28.5h0.8v0.8h-0.8zm16.1,6.9h1.5v1.5h-1.5zm82.2,83.7h1.5v1.5h-1.5zm-63.7,-82.3h0.8v0.8h-0.8zm49.1,25.1h1.0v1.0h-1.0zm-10.6,-8.6h1.2v1.2h-1.2zm22.7,57.4h0.8v0.8h-0.8zm-13.6,-41.3h1.0v1.0h-1.0zm-76.3,-35.5h1.0v1.0h-1.0zm15.0,2.8h0.8v0.8h-0.8zm33.6,4.3h1.2v1.2h-1.2zm7.1,-1.3h0.8v0.8h-0.8zm6.1,19.0h1.0v1.0h-1.0zm-90.0,-13.0h1.0v1.0h-1.0zm118.8,52.3h1.0v1.0h-1.0zm-73.3,-64.9h1.2v1.2h-1.2zm70.2,72.6h1.0v1.0h-1.0zm-89.9,-72.8h1.5v1.5h-1.5zm63.3,12.5h1.0v1.0h-1.0zm-92.4,-5.4h0.8v0.8h-0.8zm95.1,9.3h1.5v1.5h-1.5zm-32.1,-14.7h1.0v1.0h-1.0zm-77.9,17.7h1.0v1.0h-1.0zm111.1,9.3h1.0v1.0h-1.0zm25.2,48.2h1.2v1.2h-1.2zm-127.8,-68.1h1.0v1.0h-1.0zm75.8,-4.6h1.5v1.5h-1.5zm-25.2,3.0h1.2v1.2h-1.2zm-40.2,-4.5h1.5v1.5h-1.5zm-31.5,27.8h1.5v1.5h-1.5zm104.1,-18.6h1.2v1.2h-1.2zm45.5,47.2h1.5v1.5h-1.5zm-164.8,13.8h1.0v1.0h-1.0zm81.8,-74.2h1.0v1.0h-1.0zm-30.1,9.7h1.5v1.5h-1.5zm79.3,-0.6h0.8v0.8h-0.8zm-97.1,4.5h1.2v1.2h-1.2zm131.8,57.0h1.0v1.0h-1.0zm-104.3,-71.8h0.8v0.8h-0.8zm-34.9,19.7h1.5v1.5h-1.5zm107.2,-0.2h1.0v1.0h-1.0zm-6.3,-6.5h1.0v1.0h-1.0zm15.2,7.3h1.5v1.5h-1.5zm12.3,28.5h1.0v1.0h-1.0zm3.9,67.1h1.0v1.0h-1.0zm4.2,-62.7h0.8v0.8h-0.8zm-96.7,-46.6h0.8v0.8h-0.8zm-36.0,8.4h1.5v1.5h-1.5zm86.7,0.5h1.2v1.2h-1.2zm-68.7,-5.3h0.8v0.8h-0.8zm34.4,-2.8h0.8v0.8h-0.8zm-27.7,-1.7h0.8v0.8h-0.8zm-1.0,6.4h0.8v0.8h-0.8zm112.7,75.6h1.2v1.2h-1.2zm-82.0,-77.9h1.2v1.2h-1.2zm72.3,48.3h1.2v1.2h-1.2zm-74.1,-56.1h0.8v0.8h-0.8zm-52.8,13.0h1.2v1.2h-1.2zm46.1,-12.5h1.2v1.2h-1.2zm39.3,3.8h1.0v1.0h-1.0zm40.3,30.6h1.5v1.5h-1.5zm-42.2,-26.0h0.8v0.8h-0.8zm35.9,19.9h1.0v1.0h-1.0zm17.3,47.3h1.2v1.2h-1.2zm-86.7,-71.2h1.0v1.0h-1.0zm80.0,105.3h1.2v1.2h-1.2zm2.4,-5.9h1.5v1.5h-1.5zm-111.2,-102.8h1.0v1.0h-1.0zm103.7,35.2h0.8v0.8h-0.8zm-77.6,-42.9h0.8v0.8h-0.8zm-49.3,26.0h1.5v1.5h-1.5zm123.2,25.4h1.0v1.0h-1.0zm4.8,-10.2h1.2v1.2h-1.2zm9.4,54.2h1.0v1.0h-1.0zm-14.9,-55.5h1.2v1.2h-1.2zm-8.6,-16.7h1.5v1.5h-1.5zm-73.6,-18.5h1.5v1.5h-1.5zm60.3,9.3h0.8v0.8h-0.8zm2.4,11.7h1.0v1.0h-1.0zm-86.2,-10.2h1.0v1.0h-1.0zm29.3,-13.6h0.8v0.8h-0.8zm77.7,44.5h1.0v1.0h-1.0zm-66.5,-33.5h1.5v1.5h-1.5zm26.6,4.4h1.2v1.2h-1.2zm-64.0,-9.5h0.8v0.8h-0.8zm48.1,-3.7h0.8v0.8h-0.8zm-11.1,9.8h1.5v1.5h-1.5zm-56.7,10.2h0.8v0.8h-0.8zm80.6,-17.3h1.5v1.5h-1.5zm-28.1,1.1h0.8v0.8h-0.8zm4.7,-7.7h0.8v0.8h-0.8zm16.3,2.0h1.0v1.0h-1.0zm-82.1,26.3h0.8v0.8h-0.8zm137.2,19.4h1.0v1.0h-1.0zm-70.5,-45.9h1.5v1.5h-1.5zm-9.1,-0.9h1.5v1.5h-1.5zm-28.4,11.3h0.8v0.8h-0.8zm22.3,-5.1h1.0v1.0h-1.0zm74.3,24.6h1.0v1.0h-1.0zm-33.3,-24.4h1.2v1.2h-1.2zm-19.4,-7.3h1.5v1.5h-1.5zm35.3,20.8h1.2v1.2h-1.2zm-64.4,-6.3h0.8v0.8h-0.8zm65.4,0.6h1.5v1.5h-1.5zm35.3,82.5h1.0v1.0h-1.0zm-95.5,-91.2h1.5v1.5h-1.5zm94.2,52.5h1.0v1.0h-1.0zm-24.0,-27.2h1.0v1.0h-1.0zm26.7,35.9h1.0v1.0h-1.0zm-22.1,-28.0h0.8v0.8h-0.8zm-119.5,-15.6h0.8v0.8h-0.8zm115.6,-2.7h1.2v1.2h-1.2zm23.0,36.4h0.8v0.8h-0.8zm-73.0,-46.7h0.8v0.8h-0.8zm-87.0,50.2h1.2v1.2h-1.2zm160.8,30.2h1.5v1.5h-1.5zm-77.1,-85.6h0.8v0.8h-0.8zm9.7,0.7h1.0v1.0h-1.0zm53.5,34.0h0.8v0.8h-0.8zm14.7,53.3h0.8v0.8h-0.8zm-48.5,-85.5h0.8v0.8h-0.8zm-13.6,0.1h1.0v1.0h-1.0zm-39.1,3.2h0.8v0.8h-0.8zm93.7,34.6h0.8v0.8h-0.8zm-69.1,-33.7h1.2v1.2h-1.2zm23.3,-0.7h0.8v0.8h-0.8zm-40.1,1.8h1.0v1.0h-1.0zm-39.9,11.5h1.5v1.5h-1.5zm43.8,-22.3h1.5v1.5h-1.5zm-42.6,20.4h1.0v1.0h-1.0zm9.7,-12.6h1.5v1.5h-1.5zm2.7,4.7h0.8v0.8h-0.8zm76.5,-6.2h1.5v1.5h-1.5zm-6.3,0.2h0.8v0.8h-0.8zm-62.0,0.6h1.5v1.5h-1.5zm43.4,-8.7h1.2v1.2h-1.2zm42.2,31.0h1.2v1.2h-1.2zm-47.5,-25.1h0.8v0.8h-0.8zm75.1,64.8h1.5v1.5h-1.5zm-136.6,-51.6h1.2v1.2h-1.2zm94.7,2.3h1.2v1.2h-1.2zm-86.4,0.2h1.2v1.2h-1.2zm-27.8,19.6h1.2v1.2h-1.2zm112.3,-20.5h0.8v0.8h-0.8zm-54.5,-17.6h0.8v0.8h-0.8zm-2.0,9.3h0.8v0.8h-0.8zm97.4,71.2h1.5v1.5h-1.5zm-114.7,-77.3h1.0v1.0h-1.0zm64.1,4.0h1.0v1.0h-1.0zm-46.3,-6.2h0.8v0.8h-0.8zm68.1,11.4h1.5v1.5h-1.5zm-66.4,-4.7h1.0v1.0h-1.0zm85.1,24.6h1.5v1.5h-1.5zm-35.4,-29.3h1.2v1.2h-1.2zm-33.6,5.8h1.2v1.2h-1.2zm75.8,62.1h1.2v1.2h-1.2zm2.3,-10.7h1.2v1.2h-1.2zm-110.5,-47.5h1.5v1.5h-1.5zm52.4,-7.7h1.0v1.0h-1.0zm10.6,-3.0h1.0v1.0h-1.0zm-40.1,-5.9h1.2v1.2h-1.2zm-27.4,9.4h0.8v0.8h-0.8zm88.6,22.2h1.2v1.2h-1.2zm22.7,35.9h1.5v1.5h-1.5zm-4.5,-27.4h1.0v1.0h-1.0zm-102.0,-32.2h1.5v1.5h-1.5zm3.7,0.5h1.5v1.5h-1.5zm107.3,67.4h0.8v0.8h-0.8zm-76.3,-69.6h1.0v1.0h-1.0zm47.3,17.3h1.0v1.0h-1.0zm25.7,24.6h0.8v0.8h-0.8zm-51.3,-42.1h1.0v1.0h-1.0zm-11.6,-3.3h1.0v1.0h-1.0zm63.7,110.3h1.5v1.5h-1.5zm-78.7,-110.8h1.5v1.5h-1.5zm78.4,66.5h1.0v1.0h-1.0zm-3.5,-24.9h0.8v0.8h-0.8zm-31.2,-33.4h1.5v1.5h-1.5zm-88.6,9.5h1.0v1.0h-1.0zm39.8,-9.5h0.8v0.8h-0.8zm-42.0,6.1h0.8v0.8h-0.8zm102.2,3.9h1.2v1.2h-1.2zm-97.5,-4.8h1.5v1.5h-1.5zm-2.1,-1.1h0.8v0.8h-0.8zm-0.1,1.1h0.8v0.8h-0.8zm128.9,80.9h1.2v1.2h-1.2zm-121.2,-88.0h0.8v0.8h-0.8zm108.7,29.2h1.2v1.2h-1.2zm-151.8,29.3h1.2v1.2h-1.2zm88.0,-65.4h1.5v1.5h-1.5zm6.3,3.9h1.2v1.2h-1.2zm61.5,60.8h0.8v0.8h-0.8zm-105.7,-50.2h0.8v0.8h-0.8zm-2.9,-2.3h0.8v0.8h-0.8zm55.6,-11.3h1.0v1.0h-1.0zm-35.4,1.8h0.8v0.8h-0.8zm-16.0,1.1h1.2v1.2h-1.2zm32.5,-0.2h0.8v0.8h-0.8zm-57.7,14.9h0.8v0.8h-0.8zm42.4,-8.1h0.8v0.8h-0.8zm-54.9,22.0h1.5v1.5h-1.5zm117.5,-5.0h0.8v0.8h-0.8zm32.7,45.5h1.2v1.2h-1.2zm-47.7,-64.5h1.5v1.5h-1.5zm26.5,22.0h0.8v0.8h-0.8zm-75.1,-31.0h0.8v0.8h-0.8zm23.9,1.5h0.8v0.8h-0.8zm-80.1,33.7h1.0v1.0h-1.0zm150.0,43.9h1.5v1.5h-1.5zm-1.7,-3.3h0.8v0.8h-0.8zm-130.3,-59.4h0.8v0.8h-0.8zm98.7,-3.9h1.0v1.0h-1.0zm-26.3,-6.6h1.0v1.0h-1.0zm-8.0,-4.0h0.8v0.8h-0.8zm69.4,63.7h1.5v1.5h-1.5zm-14.9,-24.8h1.0v1.0h-1.0zm-22.7,-28.8h1.0v1.0h-1.0zm24.8,23.3h0.8v0.8h-0.8zm1.5,13.7h1.5v1.5h-1.5zm-116.8,-27.5h1.0v1.0h-1.0zm11.6,-12.9h0.8v0.8h-0.8zm49.9,-6.5h0.8v0.8h-0.8zm-6.5,-3.5h0.8v0.8h-0.8zm31.1,9.1h1.5v1.5h-1.5zm-14.8,7.5h0.8v0.8h-0.8zm-81.9,7.1h1.2v1.2h-1.2zm112.7,11.1h1.2v1.2h-1.2zm-76.3,-21.7h0.8v0.8h-0.8zm104.1,71.5h1.2v1.2h-1.2zm-47.0,-77.1h0.8v0.8h-0.8zm38.7,40.4h0.8v0.8h-0.8zm-96.5,-45.3h0.8v0.8h-0.8zm50.0,2.0h1.5v1.5h-1.5zm-97.2,31.5h0.8v0.8h-0.8zm148.6,23.8h0.8v0.8h-0.8zm-134.1,-35.6h1.5v1.5h-1.5zm-3.2,-1.9h1.0v1.0h-1.0zm110.1,8.3h1.0v1.0h-1.0zm-121.1,6.0h1.0v1.0h-1.0zm115.4,-22.0h1.2v1.2h-1.2zm0.8,0.2h0.8v0.8h-0.8zm19.2,24.2h1.5v1.5h-1.5zm-45.1,-26.8h1.0v1.0h-1.0zm49.9,45.3h0.8v0.8h-0.8zm-0.6,-19.0h1.0v1.0h-1.0zm-85.3,-30.8h1.5v1.5h-1.5zm-49.1,19.8h1.2v1.2h-1.2zm115.9,-4.9h1.0v1.0h-1.0z" fill="#000" stroke="none" stroke-width="1" /><g fill="none" stroke="#a8a8a8" stroke-opacity="0.45" stroke-width="0.7"><circle cx="288" cy="237.6" r="7.9"/><circle cx="288" cy="237.6" r="15.8"/><circle cx="288" cy="237.6" r="23.7"/><circle cx="288" cy="237.6" r="31.6"/><circle cx="288" cy="237.6" r="39.5"/><circle cx="288" cy="237.6" r="47.4"/><circle cx="288" cy="237.6" r="55.3"/><circle cx="288" cy="237.6" r="63.2"/><circle cx="288" cy="237.6" r="71.1"/><circle cx="288" cy="237.6" r="79"/><line x1="204" y1="237.6" x2="372" y2="237.6"/><line x1="206.86" y1="215.86" x2="369.14" y2="259.34"/><line x1="215.25" y1="195.6" x2="360.75" y2="279.6"/><line x1="228.6" y1="178.2" x2="347.4" y2="297"/><line x1="246" y1="164.85" x2="330" y2="310.35"/><line x1="266.26" y1="156.46" x2="309.74" y2="318.74"/><line x1="288" y1="153.6" x2="288" y2="321.6"/><line x1="309.74" y1="156.46" x2="266.26" y2="318.74"/><line x1="330" y1="164.85" x2="246" y2="310.35"/><line x1="347.4" y1="178.2" x2="228.6" y2="297"/><line x1="360.75" y1="195.6" x2="215.25" y2="279.6"/><line x1="369.14" y1="215.86" x2="206.86" y2="259.34"/></g><rect x="283.9" y="233.3" width="9.2" height="9.4" fill="#000" stroke="#ff30ff" stroke-width="0.8" /><circle cx="288" cy="237.6" r="85.8" fill="none" stroke="#000" stroke-width="3"/><text x="382.1" y="240.2" font-size="7.4" text-anchor="middle" fill="#262626" >0</text><text x="371.7" y="191.2" font-size="7.4" text-anchor="middle" fill="#262626" >30</text><text x="338.5" y="158" font-size="7.4" text-anchor="middle" fill="#262626" >60</text><text x="288" y="145.8" font-size="7.4" text-anchor="middle" fill="#262626" >90</text><text x="236.1" y="158" font-size="7.4" text-anchor="middle" fill="#262626" >120</text><text x="202.6" y="191.2" font-size="7.4" text-anchor="middle" fill="#262626" >150</text><text x="190.3" y="240.2" font-size="7.4" text-anchor="middle" fill="#262626" >180</text><text x="202.4" y="289" font-size="7.4" text-anchor="middle" fill="#262626" >210</text><text x="235.8" y="322.2" font-size="7.4" text-anchor="middle" fill="#262626" >240</text><text x="288" y="333.9" font-size="7.4" text-anchor="middle" fill="#262626" >270</text><text x="339.8" y="322" font-size="7.4" text-anchor="middle" fill="#262626" >300</text><text x="373.2" y="288.9" font-size="7.4" text-anchor="middle" fill="#262626" >330</text><text x="369.4" y="159.7" font-size="14" textLength="71" lengthAdjust="spacingAndGlyphs">BRDF[1/sr]</text><rect x="397.4" y="163.7" width="11.8" height="159.5" fill="url(#cbar)" stroke="none" stroke-width="1" /><line x1="409.2" y1="165.4" x2="411.4" y2="165.4" stroke="#888" stroke-width="0.6" /><text x="413.2" y="167.2" font-size="5.2" text-anchor="start" fill="#333" >0.6000</text><line x1="409.2" y1="181.03" x2="411.4" y2="181.03" stroke="#888" stroke-width="0.6" /><text x="413.2" y="182.83" font-size="5.2" text-anchor="start" fill="#333" >0.5400</text><line x1="409.2" y1="196.66" x2="411.4" y2="196.66" stroke="#888" stroke-width="0.6" /><text x="413.2" y="198.46" font-size="5.2" text-anchor="start" fill="#333" >0.4800</text><line x1="409.2" y1="212.29" x2="411.4" y2="212.29" stroke="#888" stroke-width="0.6" /><text x="413.2" y="214.09" font-size="5.2" text-anchor="start" fill="#333" >0.4200</text><line x1="409.2" y1="227.92" x2="411.4" y2="227.92" stroke="#888" stroke-width="0.6" /><text x="413.2" y="229.72" font-size="5.2" text-anchor="start" fill="#333" >0.3600</text><line x1="409.2" y1="243.55" x2="411.4" y2="243.55" stroke="#888" stroke-width="0.6" /><text x="413.2" y="245.35" font-size="5.2" text-anchor="start" fill="#333" >0.3000</text><line x1="409.2" y1="259.18" x2="411.4" y2="259.18" stroke="#888" stroke-width="0.6" /><text x="413.2" y="260.98" font-size="5.2" text-anchor="start" fill="#333" >0.2400</text><line x1="409.2" y1="274.81" x2="411.4" y2="274.81" stroke="#888" stroke-width="0.6" /><text x="413.2" y="276.61" font-size="5.2" text-anchor="start" fill="#333" >0.1800</text><line x1="409.2" y1="290.44" x2="411.4" y2="290.44" stroke="#888" stroke-width="0.6" /><text x="413.2" y="292.24" font-size="5.2" text-anchor="start" fill="#333" >0.1200</text><line x1="409.2" y1="306.07" x2="411.4" y2="306.07" stroke="#888" stroke-width="0.6" /><text x="413.2" y="307.87" font-size="5.2" text-anchor="start" fill="#333" >0.06000</text><line x1="409.2" y1="321.7" x2="411.4" y2="321.7" stroke="#888" stroke-width="0.6" /><text x="413.2" y="323.5" font-size="5.2" text-anchor="start" fill="#333" >0.000</text></g><rect x="114.75" y="180.85" width="286.1" height="218.2" fill="#fff" stroke="#000" stroke-width="2.7" rx="1.2"/><g clip-path="url(#clipmfront)"><line x1="139.7" y1="192.9" x2="139.7" y2="365.4" stroke="#777" stroke-width="0.8" /><line x1="137.9" y1="366.27" x2="139.7" y2="366.27" stroke="#777" stroke-width="0.7" /><line x1="137.9" y1="361.16" x2="139.7" y2="361.16" stroke="#777" stroke-width="0.7" /><line x1="136.7" y1="356.05" x2="139.7" y2="356.05" stroke="#777" stroke-width="0.7" /><line x1="137.9" y1="350.94" x2="139.7" y2="350.94" stroke="#777" stroke-width="0.7" /><line x1="137.9" y1="345.83" x2="139.7" y2="345.83" stroke="#777" stroke-width="0.7" /><line x1="136.7" y1="340.72" x2="139.7" y2="340.72" stroke="#777" stroke-width="0.7" /><line x1="137.9" y1="335.61" x2="139.7" y2="335.61" stroke="#777" stroke-width="0.7" /><line x1="137.9" y1="330.5" x2="139.7" y2="330.5" stroke="#777" stroke-width="0.7" /><line x1="136.7" y1="325.39" x2="139.7" y2="325.39" stroke="#777" stroke-width="0.7" /><line x1="137.9" y1="320.28" x2="139.7" y2="320.28" stroke="#777" stroke-width="0.7" /><line x1="137.9" y1="315.17" x2="139.7" y2="315.17" stroke="#777" stroke-width="0.7" /><line x1="136.7" y1="310.06" x2="139.7" y2="310.06" stroke="#777" stroke-width="0.7" /><line x1="137.9" y1="304.95" x2="139.7" y2="304.95" stroke="#777" stroke-width="0.7" /><line x1="137.9" y1="299.84" x2="139.7" y2="299.84" stroke="#777" stroke-width="0.7" /><line x1="136.7" y1="294.73" x2="139.7" y2="294.73" stroke="#777" stroke-width="0.7" /><line x1="137.9" y1="289.62" x2="139.7" y2="289.62" stroke="#777" stroke-width="0.7" /><line x1="137.9" y1="284.51" x2="139.7" y2="284.51" stroke="#777" stroke-width="0.7" /><line x1="136.7" y1="279.4" x2="139.7" y2="279.4" stroke="#777" stroke-width="0.7" /><line x1="137.9" y1="274.29" x2="139.7" y2="274.29" stroke="#777" stroke-width="0.7" /><line x1="137.9" y1="269.18" x2="139.7" y2="269.18" stroke="#777" stroke-width="0.7" /><line x1="136.7" y1="264.07" x2="139.7" y2="264.07" stroke="#777" stroke-width="0.7" /><line x1="137.9" y1="258.96" x2="139.7" y2="258.96" stroke="#777" stroke-width="0.7" /><line x1="137.9" y1="253.85" x2="139.7" y2="253.85" stroke="#777" stroke-width="0.7" /><line x1="136.7" y1="248.74" x2="139.7" y2="248.74" stroke="#777" stroke-width="0.7" /><line x1="137.9" y1="243.63" x2="139.7" y2="243.63" stroke="#777" stroke-width="0.7" /><line x1="137.9" y1="238.52" x2="139.7" y2="238.52" stroke="#777" stroke-width="0.7" /><line x1="136.7" y1="233.41" x2="139.7" y2="233.41" stroke="#777" stroke-width="0.7" /><line x1="137.9" y1="228.3" x2="139.7" y2="228.3" stroke="#777" stroke-width="0.7" /><line x1="137.9" y1="223.19" x2="139.7" y2="223.19" stroke="#777" stroke-width="0.7" /><line x1="136.7" y1="218.08" x2="139.7" y2="218.08" stroke="#777" stroke-width="0.7" /><line x1="137.9" y1="212.97" x2="139.7" y2="212.97" stroke="#777" stroke-width="0.7" /><line x1="137.9" y1="207.86" x2="139.7" y2="207.86" stroke="#777" stroke-width="0.7" /><line x1="136.7" y1="202.75" x2="139.7" y2="202.75" stroke="#777" stroke-width="0.7" /><line x1="137.9" y1="197.64" x2="139.7" y2="197.64" stroke="#777" stroke-width="0.7" /><line x1="137.9" y1="192.53" x2="139.7" y2="192.53" stroke="#777" stroke-width="0.7" /><text x="134.5" y="358.65" font-size="7.4" text-anchor="end" fill="#262626" >-75</text><text x="134.5" y="343.32" font-size="7.4" text-anchor="end" fill="#262626" >-60</text><text x="134.5" y="327.99" font-size="7.4" text-anchor="end" fill="#262626" >-45</text><text x="134.5" y="312.66" font-size="7.4" text-anchor="end" fill="#262626" >-30</text><text x="134.5" y="297.33" font-size="7.4" text-anchor="end" fill="#262626" >-15</text><text x="134.5" y="282" font-size="7.4" text-anchor="end" fill="#262626" >0</text><text x="134.5" y="266.67" font-size="7.4" text-anchor="end" fill="#262626" >15</text><text x="134.5" y="251.34" font-size="7.4" text-anchor="end" fill="#262626" >30</text><text x="134.5" y="236.01" font-size="7.4" text-anchor="end" fill="#262626" >45</text><text x="134.5" y="220.68" font-size="7.4" text-anchor="end" fill="#262626" >60</text><text x="134.5" y="205.35" font-size="7.4" text-anchor="end" fill="#262626" >75</text><text x="119.3" y="285.2" font-size="12" text-anchor="middle" fill="#000" >Y</text><line x1="157.2" y1="382.8" x2="334.2" y2="382.8" stroke="#777" stroke-width="0.8" /><line x1="157.3" y1="382.8" x2="157.3" y2="384.6" stroke="#777" stroke-width="0.7" /><line x1="162.5" y1="382.8" x2="162.5" y2="384.6" stroke="#777" stroke-width="0.7" /><line x1="167.7" y1="382.8" x2="167.7" y2="385.8" stroke="#777" stroke-width="0.7" /><line x1="172.9" y1="382.8" x2="172.9" y2="384.6" stroke="#777" stroke-width="0.7" /><line x1="178.1" y1="382.8" x2="178.1" y2="384.6" stroke="#777" stroke-width="0.7" /><line x1="183.3" y1="382.8" x2="183.3" y2="385.8" stroke="#777" stroke-width="0.7" /><line x1="188.5" y1="382.8" x2="188.5" y2="384.6" stroke="#777" stroke-width="0.7" /><line x1="193.7" y1="382.8" x2="193.7" y2="384.6" stroke="#777" stroke-width="0.7" /><line x1="198.9" y1="382.8" x2="198.9" y2="385.8" stroke="#777" stroke-width="0.7" /><line x1="204.1" y1="382.8" x2="204.1" y2="384.6" stroke="#777" stroke-width="0.7" /><line x1="209.3" y1="382.8" x2="209.3" y2="384.6" stroke="#777" stroke-width="0.7" /><line x1="214.5" y1="382.8" x2="214.5" y2="385.8" stroke="#777" stroke-width="0.7" /><line x1="219.7" y1="382.8" x2="219.7" y2="384.6" stroke="#777" stroke-width="0.7" /><line x1="224.9" y1="382.8" x2="224.9" y2="384.6" stroke="#777" stroke-width="0.7" /><line x1="230.1" y1="382.8" x2="230.1" y2="385.8" stroke="#777" stroke-width="0.7" /><line x1="235.3" y1="382.8" x2="235.3" y2="384.6" stroke="#777" stroke-width="0.7" /><line x1="240.5" y1="382.8" x2="240.5" y2="384.6" stroke="#777" stroke-width="0.7" /><line x1="245.7" y1="382.8" x2="245.7" y2="385.8" stroke="#777" stroke-width="0.7" /><line x1="250.9" y1="382.8" x2="250.9" y2="384.6" stroke="#777" stroke-width="0.7" /><line x1="256.1" y1="382.8" x2="256.1" y2="384.6" stroke="#777" stroke-width="0.7" /><line x1="261.3" y1="382.8" x2="261.3" y2="385.8" stroke="#777" stroke-width="0.7" /><line x1="266.5" y1="382.8" x2="266.5" y2="384.6" stroke="#777" stroke-width="0.7" /><line x1="271.7" y1="382.8" x2="271.7" y2="384.6" stroke="#777" stroke-width="0.7" /><line x1="276.9" y1="382.8" x2="276.9" y2="385.8" stroke="#777" stroke-width="0.7" /><line x1="282.1" y1="382.8" x2="282.1" y2="384.6" stroke="#777" stroke-width="0.7" /><line x1="287.3" y1="382.8" x2="287.3" y2="384.6" stroke="#777" stroke-width="0.7" /><line x1="292.5" y1="382.8" x2="292.5" y2="385.8" stroke="#777" stroke-width="0.7" /><line x1="297.7" y1="382.8" x2="297.7" y2="384.6" stroke="#777" stroke-width="0.7" /><line x1="302.9" y1="382.8" x2="302.9" y2="384.6" stroke="#777" stroke-width="0.7" /><line x1="308.1" y1="382.8" x2="308.1" y2="385.8" stroke="#777" stroke-width="0.7" /><line x1="313.3" y1="382.8" x2="313.3" y2="384.6" stroke="#777" stroke-width="0.7" /><line x1="318.5" y1="382.8" x2="318.5" y2="384.6" stroke="#777" stroke-width="0.7" /><line x1="323.7" y1="382.8" x2="323.7" y2="385.8" stroke="#777" stroke-width="0.7" /><line x1="328.9" y1="382.8" x2="328.9" y2="384.6" stroke="#777" stroke-width="0.7" /><line x1="334.1" y1="382.8" x2="334.1" y2="384.6" stroke="#777" stroke-width="0.7" /><text x="170.3" y="387.6" font-size="7.4" text-anchor="end" fill="#262626" transform="rotate(-90 170.3 387.6)">-75</text><text x="185.9" y="387.6" font-size="7.4" text-anchor="end" fill="#262626" transform="rotate(-90 185.9 387.6)">-60</text><text x="201.5" y="387.6" font-size="7.4" text-anchor="end" fill="#262626" transform="rotate(-90 201.5 387.6)">-45</text><text x="217.1" y="387.6" font-size="7.4" text-anchor="end" fill="#262626" transform="rotate(-90 217.1 387.6)">-30</text><text x="232.7" y="387.6" font-size="7.4" text-anchor="end" fill="#262626" transform="rotate(-90 232.7 387.6)">-15</text><text x="248.3" y="387.6" font-size="7.4" text-anchor="end" fill="#262626" transform="rotate(-90 248.3 387.6)">0</text><text x="263.9" y="387.6" font-size="7.4" text-anchor="end" fill="#262626" transform="rotate(-90 263.9 387.6)">15</text><text x="279.5" y="387.6" font-size="7.4" text-anchor="end" fill="#262626" transform="rotate(-90 279.5 387.6)">30</text><text x="295.1" y="387.6" font-size="7.4" text-anchor="end" fill="#262626" transform="rotate(-90 295.1 387.6)">45</text><text x="310.7" y="387.6" font-size="7.4" text-anchor="end" fill="#262626" transform="rotate(-90 310.7 387.6)">60</text><text x="326.3" y="387.6" font-size="7.4" text-anchor="end" fill="#262626" transform="rotate(-90 326.3 387.6)">75</text><text x="148" y="388.3" font-size="12" text-anchor="middle" fill="#000" >X</text><circle cx="245.7" cy="279.4" r="84.5" fill="url(#dgfront)"/><path d="M330.5,279.4A84.8,84.8 0 1 0 160.9,279.4A84.8,84.8 0 1 0 330.5,279.4ZM326.9,279.4L326.6,277.7L325.6,276.0L326.7,274.3L326.5,272.6L326.1,270.9L327.0,269.1L325.9,267.6L325.3,265.9L324.6,264.3L326.0,262.3L325.1,260.8L325.3,259.0L323.0,257.8L322.9,256.1L323.9,254.0L321.1,253.1L320.6,251.5L320.8,249.7L320.3,248.1L320.7,246.0L320.3,244.3L318.5,243.3L318.7,241.2L317.6,239.9L316.7,238.4L316.3,236.7L314.6,235.7L313.7,234.2L312.0,233.3L311.7,231.5L310.5,230.2L309.7,228.7L308.4,227.5L307.6,225.9L306.8,224.4L304.6,224.1L303.5,222.8L302.5,221.4L301.5,220.0L300.7,218.3L299.6,217.0L298.2,215.9L297.1,214.5L295.0,214.4L294.0,212.9L292.2,212.5L291.3,210.7L289.5,210.3L288.3,209.1L287.4,207.2L285.8,206.4L284.0,206.1L282.8,204.8L281.1,204.2L279.7,203.0L278.2,202.1L276.5,201.7L274.8,201.1L273.3,200.2L271.6,199.6L269.9,199.1L268.2,198.8L266.6,198.2L264.9,197.5L263.2,197.2L261.5,196.7L259.7,196.5L257.9,196.7L256.2,196.4L254.4,196.7L252.6,196.7L250.9,196.5L249.2,197.1L247.4,196.2L245.7,196.9L244.0,196.2L242.2,196.7L240.5,196.5L238.8,196.7L237.1,197.8L235.3,197.4L233.5,196.8L231.8,197.2L230.0,196.9L228.2,197.0L226.5,197.4L224.8,197.9L223.0,198.3L221.4,198.8L219.7,199.3L218.0,199.9L216.4,200.5L214.7,201.1L213.1,201.7L211.4,202.4L209.8,203.2L208.3,204.0L206.7,204.7L205.1,205.6L203.6,206.4L202.1,207.3L200.6,208.3L199.1,209.2L197.6,210.2L196.2,211.3L194.8,212.3L193.4,213.4L192.0,214.5L190.6,215.6L189.3,216.8L188.0,218.0L186.7,219.2L185.5,220.4L184.3,221.7L183.1,223.0L181.9,224.3L180.8,225.7L179.6,227.0L178.6,228.4L177.5,229.9L176.5,231.3L175.5,232.8L174.5,234.2L173.6,235.7L172.7,237.2L171.8,238.8L171.0,240.3L170.2,241.9L169.4,243.5L168.7,245.1L168.0,246.7L167.3,248.4L166.7,250.0L166.1,251.7L165.5,253.3L165.0,255.0L164.5,256.7L164.0,258.4L163.6,260.2L163.2,261.9L162.9,263.6L162.6,265.3L162.3,267.1L162.1,268.8L161.9,270.6L161.7,272.3L161.6,274.1L161.5,275.9L161.4,277.6L161.4,279.4L161.4,281.2L161.5,282.9L161.6,284.7L161.7,286.5L161.9,288.2L162.2,289.9L162.5,291.7L162.7,293.4L163.2,295.1L163.6,296.9L164.1,298.5L164.4,300.3L165.2,301.9L165.4,303.7L166.2,305.2L166.9,306.8L167.6,308.4L168.2,310.1L168.9,311.7L169.8,313.2L170.6,314.7L171.0,316.5L172.1,317.9L173.1,319.3L174.0,320.8L174.5,322.5L175.8,323.8L176.8,325.2L177.6,326.7L178.7,328.1L179.5,329.6L180.8,330.9L181.9,332.2L182.6,333.9L184.3,334.7L185.8,335.7L186.9,337.0L188.0,338.3L189.0,339.8L190.6,340.6L191.8,341.9L193.0,343.1L194.7,343.8L195.4,345.6L197.4,345.9L198.2,347.7L200.2,348.0L201.5,349.0L202.8,350.2L204.7,350.4L206.0,351.5L207.7,352.1L209.5,352.4L210.5,354.1L211.9,355.2L213.7,355.4L215.6,355.4L216.9,356.8L218.5,357.4L220.6,356.6L222.1,357.5L223.7,358.4L225.5,357.9L226.9,359.4L228.8,359.0L230.3,360.3L232.1,360.1L233.9,359.5L235.6,359.5L237.3,359.7L238.9,360.9L240.6,360.5L242.3,361.2L244.0,361.6L245.7,360.7L247.4,359.8L249.1,359.7L250.8,359.9L252.4,359.1L254.2,360.6L256.0,360.6L257.5,359.6L259.3,359.8L261.0,359.6L262.6,358.7L264.1,357.7L265.8,357.6L267.5,357.6L268.7,355.5L270.1,354.5L272.2,355.4L274.1,355.9L275.8,355.3L276.2,351.9L278.8,353.8L279.3,350.9L281.0,350.5L282.9,350.5L283.4,348.0L286.3,349.7L287.5,348.5L288.3,346.5L290.6,347.0L290.1,343.3L292.9,344.3L294.4,343.6L296.0,342.9L295.7,339.9L297.5,339.4L298.2,337.7L299.3,336.5L300.0,334.9L300.7,333.2L302.6,332.8L305.3,333.0L305.4,331.0L307.5,330.5L309.2,329.7L308.7,327.2L308.9,325.3L311.7,325.3L312.4,323.7L313.1,322.2L312.8,320.0L314.3,319.0L314.8,317.4L315.2,315.7L317.3,314.9L316.7,312.8L317.0,311.2L320.5,310.9L318.3,308.2L319.7,306.9L322.4,306.1L321.9,304.1L321.9,302.4L321.5,300.6L323.7,299.4L323.6,297.7L323.1,295.8L323.8,294.3L323.7,292.6L325.5,291.2L325.3,289.5L326.8,287.9L325.6,286.1L325.5,284.4L326.2,282.8L326.1,281.1Z" fill="#000" stroke="none" stroke-width="1" fill-rule="evenodd"/><path d="M245.7,279.4m49.0,62.6h1.5v1.5h-1.5zm11.3,-27.5h1.5v1.5h-1.5zm7.6,-11.0h0.8v0.8h-0.8zm-64.0,55.0h1.0v1.0h-1.0zm54.1,-37.3h1.2v1.2h-1.2zm-121.6,7.7h1.5v1.5h-1.5zm122.6,-106.2h1.5v1.5h-1.5zm9.4,92.4h1.0v1.0h-1.0zm11.4,-24.2h0.8v0.8h-0.8zm-111.2,63.8h1.5v1.5h-1.5zm31.1,-157.1h1.5v1.5h-1.5zm35.2,150.1h1.0v1.0h-1.0zm27.1,-35.6h0.8v0.8h-0.8zm-9.1,-91.9h1.2v1.2h-1.2zm17.2,86.3h1.0v1.0h-1.0zm7.5,-35.8h1.2v1.2h-1.2zm-73.6,86.8h1.0v1.0h-1.0zm22.3,-1.8h1.5v1.5h-1.5zm23.3,-141.6h1.0v1.0h-1.0zm13.8,22.1h1.5v1.5h-1.5zm7.7,5.5h1.5v1.5h-1.5zm-136.9,86.1h1.0v1.0h-1.0zm60.4,32.8h1.0v1.0h-1.0zm44.2,-21.6h1.5v1.5h-1.5zm-32.5,21.4h1.0v1.0h-1.0zm22.6,-13.8h1.2v1.2h-1.2zm43.3,-101.5h0.8v0.8h-0.8zm-18.7,79.7h0.8v0.8h-0.8zm-94.1,24.3h1.0v1.0h-1.0zm117.8,-60.0h1.0v1.0h-1.0zm-1.0,-34.7h0.8v0.8h-0.8zm-80.6,-57.2h1.5v1.5h-1.5zm75.7,97.1h1.5v1.5h-1.5zm-43.2,56.8h0.8v0.8h-0.8zm18.3,-12.4h1.5v1.5h-1.5zm26.3,-33.3h1.2v1.2h-1.2zm-96.7,-106.7h0.8v0.8h-0.8zm-8.8,155.6h1.5v1.5h-1.5zm101.1,-50.1h1.5v1.5h-1.5zm-83.5,52.5h0.8v0.8h-0.8zm2.1,-1.5h1.0v1.0h-1.0zm-52.1,-26.2h1.5v1.5h-1.5zm96.7,23.1h1.0v1.0h-1.0zm-25.7,-152.8h1.2v1.2h-1.2zm-62.9,139.7h0.8v0.8h-0.8zm-1.4,-2.3h0.8v0.8h-0.8zm100.6,-124.4h1.5v1.5h-1.5zm-0.1,134.6h1.0v1.0h-1.0zm-12.5,0.4h0.8v0.8h-0.8zm40.3,-104.1h0.8v0.8h-0.8zm-63.0,112.1h1.0v1.0h-1.0zm55.5,-38.2h1.2v1.2h-1.2zm-26.8,28.3h1.5v1.5h-1.5zm1.1,-140.4h1.2v1.2h-1.2zm-6.1,148.8h1.0v1.0h-1.0zm40.7,-104.7h0.8v0.8h-0.8zm-6.6,-20.1h1.0v1.0h-1.0zm16.2,57.7h1.5v1.5h-1.5zm-45.4,53.6h0.8v0.8h-0.8zm-10.0,13.8h1.0v1.0h-1.0zm-23.2,-156.1h1.0v1.0h-1.0zm52.8,129.3h1.2v1.2h-1.2zm-19.4,-122.9h1.5v1.5h-1.5zm31.3,117.9h1.0v1.0h-1.0zm-11.5,0.3h1.2v1.2h-1.2zm16.7,-22.6h0.8v0.8h-0.8zm-47.3,53.5h1.2v1.2h-1.2zm-7.2,-1.3h0.8v0.8h-0.8zm36.3,-18.2h1.0v1.0h-1.0zm-8.8,-123.0h1.2v1.2h-1.2zm21.4,111.7h1.2v1.2h-1.2zm-141.4,-7.0h1.0v1.0h-1.0zm109.5,34.9h0.8v0.8h-0.8zm26.3,-20.6h1.2v1.2h-1.2zm19.6,-60.3h0.8v0.8h-0.8zm-64.6,89.3h1.5v1.5h-1.5zm22.8,-11.3h0.8v0.8h-0.8zm-79.7,3.3h1.0v1.0h-1.0zm104.4,-121.2h0.8v0.8h-0.8zm-109.9,117.1h1.5v1.5h-1.5zm5.4,3.8h0.8v0.8h-0.8zm109.4,-116.0h1.0v1.0h-1.0zm-27.0,112.7h1.0v1.0h-1.0zm29.8,-32.8h1.0v1.0h-1.0zm-37.1,35.8h1.5v1.5h-1.5zm-16.1,1.0h0.8v0.8h-0.8zm-23.4,-154.2h1.5v1.5h-1.5zm68.5,32.5h1.2v1.2h-1.2zm-26.8,120.6h1.2v1.2h-1.2zm-0.0,-10.2h1.0v1.0h-1.0zm-23.0,17.5h1.5v1.5h-1.5zm-38.7,-4.3h1.2v1.2h-1.2zm-53.8,-50.2h1.0v1.0h-1.0zm112.2,49.2h0.8v0.8h-0.8zm4.2,-6.2h0.8v0.8h-0.8zm40.3,-66.1h1.5v1.5h-1.5zm-70.7,79.1h0.8v0.8h-0.8zm43.4,-142.7h1.0v1.0h-1.0zm11.8,16.5h1.5v1.5h-1.5zm-61.1,122.1h1.5v1.5h-1.5zm35.5,-4.5h1.2v1.2h-1.2zm29.3,-26.1h1.5v1.5h-1.5zm-64.7,34.1h0.8v0.8h-0.8zm78.6,-65.3h1.0v1.0h-1.0zm-27.2,40.9h1.0v1.0h-1.0zm23.6,-30.6h1.2v1.2h-1.2zm3.0,-36.1h1.5v1.5h-1.5zm-47.4,84.2h1.0v1.0h-1.0zm41.4,-93.8h1.2v1.2h-1.2zm-21.5,70.7h0.8v0.8h-0.8zm26.9,-46.8h1.0v1.0h-1.0zm-125.4,62.6h1.2v1.2h-1.2zm101.1,-7.1h1.5v1.5h-1.5zm-6.3,-1.3h1.2v1.2h-1.2zm11.0,-4.4h1.2v1.2h-1.2zm3.6,-4.1h1.0v1.0h-1.0zm-113.0,13.3h1.5v1.5h-1.5zm112.6,-25.8h0.8v0.8h-0.8zm4.8,-76.2h1.0v1.0h-1.0zm-136.8,82.1h0.8v0.8h-0.8zm113.2,21.6h1.0v1.0h-1.0zm17.4,-114.4h1.2v1.2h-1.2zm18.9,42.5h1.5v1.5h-1.5zm0.2,-6.8h1.0v1.0h-1.0zm-138.4,73.2h1.2v1.2h-1.2zm90.3,9.8h1.5v1.5h-1.5zm7.3,2.4h1.5v1.5h-1.5zm-104.6,-21.5h0.8v0.8h-0.8zm145.1,-49.9h0.8v0.8h-0.8zm1.1,11.2h1.5v1.5h-1.5zm-20.1,27.7h1.0v1.0h-1.0zm-20.0,23.7h1.0v1.0h-1.0zm-97.7,-2.3h1.5v1.5h-1.5zm53.2,20.8h1.0v1.0h-1.0zm83.7,-89.6h0.8v0.8h-0.8zm-31.5,72.4h0.8v0.8h-0.8zm-8.9,4.4h1.0v1.0h-1.0zm36.8,-86.5h0.8v0.8h-0.8zm-10.8,56.2h0.8v0.8h-0.8zm3.0,-79.4h0.8v0.8h-0.8zm-4.0,85.2h1.2v1.2h-1.2zm-89.1,35.2h1.2v1.2h-1.2zm91.3,-35.1h1.5v1.5h-1.5zm-68.0,-124.5h1.2v1.2h-1.2zm-38.4,153.2h1.2v1.2h-1.2zm114.1,-49.2h1.0v1.0h-1.0zm-36.6,46.8h1.5v1.5h-1.5zm39.7,-87.3h1.2v1.2h-1.2zm-0.5,17.1h0.8v0.8h-0.8zm-21.3,49.6h1.5v1.5h-1.5zm-21.1,19.8h1.5v1.5h-1.5zm-7.5,6.5h1.2v1.2h-1.2zm-27.2,6.9h1.0v1.0h-1.0zm62.9,-45.5h0.8v0.8h-0.8zm-113.4,27.0h1.2v1.2h-1.2zm76.1,12.6h1.2v1.2h-1.2zm52.0,-69.8h0.8v0.8h-0.8zm-23.7,50.9h0.8v0.8h-0.8zm-14.0,12.5h0.8v0.8h-0.8zm1.7,-2.9h1.5v1.5h-1.5zm8.5,-131.4h1.2v1.2h-1.2zm8.2,119.4h0.8v0.8h-0.8zm-97.1,17.9h1.0v1.0h-1.0zm115.5,-70.4h1.5v1.5h-1.5zm1.2,-17.2h0.8v0.8h-0.8zm-40.4,86.1h1.2v1.2h-1.2zm-49.8,10.6h1.0v1.0h-1.0zm2.0,-162.5h0.8v0.8h-0.8zm87.6,76.3h1.5v1.5h-1.5zm-43.7,67.6h0.8v0.8h-0.8zm34.3,-33.7h1.5v1.5h-1.5zm12.6,-40.5h1.5v1.5h-1.5zm-87.6,-70.4h0.8v0.8h-0.8zm-27.3,156.8h1.0v1.0h-1.0zm115.5,-85.7h0.8v0.8h-0.8zm-10.4,32.9h1.2v1.2h-1.2zm-9.9,29.7h1.5v1.5h-1.5zm15.2,-25.6h1.2v1.2h-1.2zm-158.3,-12.6h1.5v1.5h-1.5zm146.6,26.7h1.2v1.2h-1.2zm-7.2,8.4h0.8v0.8h-0.8zm-59.5,31.7h1.5v1.5h-1.5zm-77.3,-58.8h1.5v1.5h-1.5zm155.8,-16.2h1.0v1.0h-1.0zm-16.3,-54.7h1.0v1.0h-1.0zm-22.6,117.2h1.2v1.2h-1.2zm-55.5,8.9h1.5v1.5h-1.5zm40.9,-157.2h1.5v1.5h-1.5zm-3.5,159.1h1.5v1.5h-1.5zm27.9,-18.4h0.8v0.8h-0.8zm-23.5,16.2h0.8v0.8h-0.8zm53.3,-54.1h1.5v1.5h-1.5zm-34.8,35.7h0.8v0.8h-0.8zm33.6,-31.2h1.0v1.0h-1.0zm-40.2,-101.5h1.5v1.5h-1.5zm43.2,54.2h1.2v1.2h-1.2zm-44.9,91.2h0.8v0.8h-0.8zm37.0,-43.4h1.0v1.0h-1.0zm2.6,-4.4h1.0v1.0h-1.0zm-4.8,7.5h1.0v1.0h-1.0zm-106.4,41.9h1.0v1.0h-1.0zm47.7,5.6h1.5v1.5h-1.5zm52.4,-30.7h1.2v1.2h-1.2zm-102.4,24.9h1.0v1.0h-1.0zm117.0,-68.3h0.8v0.8h-0.8zm3.3,-2.3h1.5v1.5h-1.5zm-59.1,70.0h1.2v1.2h-1.2zm18.8,-2.0h1.5v1.5h-1.5zm16.0,-127.8h1.2v1.2h-1.2zm25.4,63.8h0.8v0.8h-0.8zm-2.1,13.0h1.0v1.0h-1.0zm-56.3,54.9h1.5v1.5h-1.5zm57.0,-87.5h0.8v0.8h-0.8zm-24.7,56.4h1.0v1.0h-1.0zm9.8,2.4h1.2v1.2h-1.2zm-44.3,30.6h1.2v1.2h-1.2zm19.1,-9.4h1.2v1.2h-1.2zm26.6,-112.9h1.5v1.5h-1.5zm8.0,70.8h0.8v0.8h-0.8zm-1.2,-6.5h1.0v1.0h-1.0zm3.8,-43.4h1.2v1.2h-1.2zm-9.7,-20.3h1.2v1.2h-1.2zm-34.6,115.6h0.8v0.8h-0.8zm48.0,-68.8h0.8v0.8h-0.8zm-131.5,61.0h1.0v1.0h-1.0zm-20.5,-21.7h1.5v1.5h-1.5zm139.7,1.6h0.8v0.8h-0.8zm1.7,-74.5h0.8v0.8h-0.8zm-92.7,109.7h0.8v0.8h-0.8zm91.8,-39.7h1.0v1.0h-1.0zm-30.5,24.2h1.5v1.5h-1.5zm29.7,-29.0h1.5v1.5h-1.5zm-26.3,31.6h1.5v1.5h-1.5zm-65.0,15.3h1.5v1.5h-1.5zm19.9,-159.1h1.5v1.5h-1.5zm7.0,0.4h0.8v0.8h-0.8zm61.2,121.3h1.0v1.0h-1.0zm-63.1,-120.9h1.2v1.2h-1.2zm67.9,115.7h1.2v1.2h-1.2zm9.9,-27.0h1.0v1.0h-1.0zm-29.3,41.7h1.0v1.0h-1.0zm-37.2,29.5h1.2v1.2h-1.2zm-64.3,-17.9h1.0v1.0h-1.0zm47.8,19.3h0.8v0.8h-0.8zm79.7,-56.5h1.5v1.5h-1.5zm-58.4,54.0h1.0v1.0h-1.0zm39.9,-24.9h1.0v1.0h-1.0zm12.4,-91.9h0.8v0.8h-0.8zm-16.0,-23.3h1.2v1.2h-1.2zm-3.7,122.8h1.5v1.5h-1.5zm-41.1,13.4h0.8v0.8h-0.8zm68.5,-53.8h1.0v1.0h-1.0zm-49.0,53.8h1.0v1.0h-1.0zm-18.6,2.9h1.2v1.2h-1.2zm70.6,-89.5h1.2v1.2h-1.2zm-86.1,92.9h1.0v1.0h-1.0zm-75.2,-60.7h1.0v1.0h-1.0zm3.2,8.3h0.8v0.8h-0.8zm157.4,-36.1h0.8v0.8h-0.8zm-7.3,-25.9h1.0v1.0h-1.0zm-7.5,62.8h1.0v1.0h-1.0zm-38.5,46.2h1.0v1.0h-1.0zm24.8,-29.4h1.5v1.5h-1.5zm12.7,-13.4h1.0v1.0h-1.0zm-6.8,-89.3h1.2v1.2h-1.2zm13.8,16.0h1.2v1.2h-1.2zm-105.8,110.4h0.8v0.8h-0.8zm111.1,-57.1h1.5v1.5h-1.5zm-34.3,-82.2h1.0v1.0h-1.0zm34.3,87.9h1.5v1.5h-1.5zm-139.6,34.8h1.2v1.2h-1.2zm144.2,-61.6h1.2v1.2h-1.2zm-38.1,68.4h1.2v1.2h-1.2zm4.8,2.6h1.2v1.2h-1.2zm-102.3,-2.1h0.8v0.8h-0.8zm135.3,-61.9h1.5v1.5h-1.5zm-7.1,-26.4h0.8v0.8h-0.8zm-51.5,98.3h0.8v0.8h-0.8zm51.1,-45.2h1.2v1.2h-1.2zm-113.7,45.6h1.2v1.2h-1.2zm107.6,-34.4h1.2v1.2h-1.2zm12.2,-25.2h1.2v1.2h-1.2zm-24.8,45.1h1.2v1.2h-1.2zm26.0,-49.4h0.8v0.8h-0.8zm-1.0,-8.9h1.5v1.5h-1.5zm-19.8,-53.2h1.5v1.5h-1.5zm-71.5,-27.0h0.8v0.8h-0.8zm71.6,118.6h1.2v1.2h-1.2zm-62.6,44.1h1.2v1.2h-1.2zm75.7,-115.5h1.5v1.5h-1.5zm-2.6,-3.8h1.5v1.5h-1.5zm-64.2,116.3h1.2v1.2h-1.2zm74.7,-84.4h0.8v0.8h-0.8zm-140.9,59.4h1.2v1.2h-1.2zm138.7,-74.2h0.8v0.8h-0.8zm-2.6,44.7h0.8v0.8h-0.8zm-155.2,2.3h1.5v1.5h-1.5zm131.4,27.1h1.2v1.2h-1.2zm-0.9,4.6h1.5v1.5h-1.5zm3.0,0.3h0.8v0.8h-0.8zm2.0,-4.9h1.5v1.5h-1.5zm2.9,-1.6h1.0v1.0h-1.0zm17.7,-59.6h1.2v1.2h-1.2zm-11.7,-33.5h1.2v1.2h-1.2zm10.3,44.6h0.8v0.8h-0.8zm-94.5,75.9h1.5v1.5h-1.5zm95.3,-72.7h1.2v1.2h-1.2zm-46.8,68.7h1.2v1.2h-1.2zm31.8,-26.4h1.5v1.5h-1.5zm-98.2,25.2h1.5v1.5h-1.5zm106.7,-109.4h1.2v1.2h-1.2zm-32.5,105.2h1.2v1.2h-1.2zm-100.8,-16.0h0.8v0.8h-0.8zm9.6,9.2h0.8v0.8h-0.8zm100.8,-5.7h1.2v1.2h-1.2zm-17.6,13.9h1.2v1.2h-1.2zm-87.9,-16.1h1.2v1.2h-1.2zm95.8,-128.4h1.0v1.0h-1.0zm5.8,132.7h0.8v0.8h-0.8zm23.8,-104.6h1.5v1.5h-1.5zm8.4,14.2h1.0v1.0h-1.0zm-154.1,59.0h1.2v1.2h-1.2zm94.1,-110.4h0.8v0.8h-0.8zm-20.9,0.5h1.0v1.0h-1.0zm-3.8,1.9h1.5v1.5h-1.5zm-26.1,153.0h1.5v1.5h-1.5zm49.3,-155.5h0.8v0.8h-0.8zm-62.6,148.3h1.0v1.0h-1.0zm117.4,-109.3h1.0v1.0h-1.0zm-0.7,9.6h1.5v1.5h-1.5zm-23.0,87.0h0.8v0.8h-0.8zm4.3,1.9h0.8v0.8h-0.8zm10.9,-8.7h0.8v0.8h-0.8zm-131.8,-5.1h1.0v1.0h-1.0zm34.5,31.5h1.2v1.2h-1.2zm-23.9,-18.7h1.0v1.0h-1.0zm114.6,-10.2h1.0v1.0h-1.0zm18.8,-70.6h1.0v1.0h-1.0zm-52.6,101.3h1.5v1.5h-1.5zm-23.7,7.3h0.8v0.8h-0.8zm74.5,-51.2h1.5v1.5h-1.5zm-14.4,23.0h1.0v1.0h-1.0zm-66.7,-135.7h1.2v1.2h-1.2zm-71.7,98.6h1.2v1.2h-1.2zm153.9,10.6h1.0v1.0h-1.0zm-63.5,53.6h1.0v1.0h-1.0zm47.9,-140.0h1.5v1.5h-1.5zm-6.6,-6.3h0.8v0.8h-0.8zm0.7,6.5h0.8v0.8h-0.8zm-14.0,128.5h1.5v1.5h-1.5zm17.6,-127.7h1.2v1.2h-1.2zm13.3,92.9h1.2v1.2h-1.2zm-19.1,29.1h0.8v0.8h-0.8zm2.1,-126.6h1.0v1.0h-1.0zm28.1,48.2h1.0v1.0h-1.0zm-86.2,93.5h1.2v1.2h-1.2zm33.1,-3.9h1.5v1.5h-1.5zm47.4,-43.4h1.5v1.5h-1.5zm-57.0,45.4h1.0v1.0h-1.0zm29.0,-11.1h1.2v1.2h-1.2zm34.7,-49.4h0.8v0.8h-0.8zm-82.2,-98.1h1.2v1.2h-1.2zm73.9,109.5h1.5v1.5h-1.5zm-59.9,-110.3h0.8v0.8h-0.8zm38.8,142.5h1.2v1.2h-1.2zm6.4,-9.7h0.8v0.8h-0.8zm24.6,-55.5h1.0v1.0h-1.0zm-59.6,81.8h1.5v1.5h-1.5zm3.5,-6.8h1.5v1.5h-1.5zm41.2,-38.3h0.8v0.8h-0.8zm14.4,-31.0h0.8v0.8h-0.8zm-13.5,-47.4h1.2v1.2h-1.2zm1.2,89.1h1.0v1.0h-1.0zm-68.2,36.6h1.0v1.0h-1.0zm80.8,-68.9h1.0v1.0h-1.0zm-16.6,25.2h1.0v1.0h-1.0zm1.3,2.7h0.8v0.8h-0.8zm5.4,-65.7h0.8v0.8h-0.8zm-40.6,95.5h1.2v1.2h-1.2zm34.3,-111.3h1.5v1.5h-1.5zm-19.2,109.0h0.8v0.8h-0.8zm-109.3,-14.8h1.5v1.5h-1.5zm106.8,10.9h1.2v1.2h-1.2zm26.1,-24.1h0.8v0.8h-0.8zm-1.1,-11.5h1.2v1.2h-1.2zm-52.9,54.4h1.5v1.5h-1.5zm-80.3,-30.2h1.5v1.5h-1.5zm138.7,-36.9h0.8v0.8h-0.8zm-7.0,-59.1h1.0v1.0h-1.0zm5.9,7.7h1.0v1.0h-1.0zm-35.6,109.6h0.8v0.8h-0.8zm-22.1,8.7h1.0v1.0h-1.0zm-0.6,-4.8h1.5v1.5h-1.5zm67.7,-75.5h1.0v1.0h-1.0zm-10.9,-32.2h1.0v1.0h-1.0zm-6.5,-17.9h1.5v1.5h-1.5zm-23.3,118.9h1.5v1.5h-1.5zm0.4,-137.1h0.8v0.8h-0.8zm-28.0,147.3h1.5v1.5h-1.5zm39.4,-26.7h1.0v1.0h-1.0zm24.7,-74.2h0.8v0.8h-0.8zm-117.1,93.9h0.8v0.8h-0.8zm102.0,-119.6h1.0v1.0h-1.0zm11.4,75.9h1.5v1.5h-1.5zm-52.9,45.3h1.2v1.2h-1.2zm45.2,-46.0h1.0v1.0h-1.0zm4.4,6.0h1.5v1.5h-1.5zm4.2,-48.9h1.5v1.5h-1.5zm-26.5,76.6h1.5v1.5h-1.5zm-57.4,20.1h0.8v0.8h-0.8zm22.2,-1.2h1.2v1.2h-1.2zm-34.0,-161.0h1.2v1.2h-1.2zm65.4,14.8h0.8v0.8h-0.8zm-52.3,148.0h1.0v1.0h-1.0zm84.6,-93.0h1.5v1.5h-1.5zm-9.7,-34.9h1.5v1.5h-1.5zm-8.5,92.2h1.5v1.5h-1.5zm-22.0,14.2h0.8v0.8h-0.8zm2.0,6.3h0.8v0.8h-0.8zm-105.6,-17.6h1.0v1.0h-1.0zm124.0,-6.2h1.5v1.5h-1.5zm-23.1,29.0h1.5v1.5h-1.5zm23.2,-17.5h0.8v0.8h-0.8zm11.2,-22.2h0.8v0.8h-0.8zm10.8,-48.5h0.8v0.8h-0.8zm-123.4,84.1h1.0v1.0h-1.0zm110.8,-109.7h0.8v0.8h-0.8zm-110.9,111.6h0.8v0.8h-0.8zm108.3,-21.7h1.2v1.2h-1.2zm-54.6,32.7h1.2v1.2h-1.2zm-12.9,0.8h1.0v1.0h-1.0zm63.3,-133.6h1.5v1.5h-1.5zm-15.2,114.3h0.8v0.8h-0.8zm9.8,-12.7h0.8v0.8h-0.8zm21.0,-70.0h1.5v1.5h-1.5zm-39.9,92.7h1.5v1.5h-1.5zm34.6,-33.0h1.5v1.5h-1.5zm-35.4,33.6h0.8v0.8h-0.8zm3.2,-145.7h1.2v1.2h-1.2zm-78.7,142.5h0.8v0.8h-0.8zm92.1,-10.2h0.8v0.8h-0.8zm-23.9,-137.8h1.0v1.0h-1.0zm53.6,82.8h0.8v0.8h-0.8zm-83.4,75.9h1.2v1.2h-1.2zm26.5,-10.5h1.0v1.0h-1.0zm33.4,-24.5h1.0v1.0h-1.0zm-3.8,14.3h1.0v1.0h-1.0zm-52.0,-139.6h1.0v1.0h-1.0zm34.6,149.5h1.5v1.5h-1.5zm44.7,-59.3h0.8v0.8h-0.8zm-85.4,-92.0h1.5v1.5h-1.5zm65.0,132.6h1.2v1.2h-1.2zm7.7,-85.1h1.0v1.0h-1.0zm-19.7,94.9h1.2v1.2h-1.2zm25.5,-78.5h0.8v0.8h-0.8zm-32.1,82.7h1.2v1.2h-1.2zm9.8,-5.1h0.8v0.8h-0.8zm-40.4,21.0h0.8v0.8h-0.8zm51.0,-125.3h1.5v1.5h-1.5zm13.5,14.0h1.2v1.2h-1.2zm3.4,16.8h1.2v1.2h-1.2zm-23.6,-41.4h1.0v1.0h-1.0zm-52.4,-24.1h0.8v0.8h-0.8zm68.1,116.8h1.2v1.2h-1.2zm-24.1,26.9h0.8v0.8h-0.8zm7.0,-5.3h1.5v1.5h-1.5zm-2.8,2.5h1.5v1.5h-1.5zm-0.4,-14.3h1.0v1.0h-1.0zm22.6,-77.2h0.8v0.8h-0.8zm-38.3,91.9h0.8v0.8h-0.8zm17.5,-122.3h1.0v1.0h-1.0zm-106.3,120.1h1.5v1.5h-1.5zm111.6,-9.6h1.0v1.0h-1.0zm20.8,-32.7h1.2v1.2h-1.2zm-75.4,64.0h0.8v0.8h-0.8zm43.7,-19.7h0.8v0.8h-0.8zm25.5,-36.3h1.0v1.0h-1.0zm-119.0,43.0h0.8v0.8h-0.8zm-8.8,-6.9h1.5v1.5h-1.5zm109.5,-122.9h1.0v1.0h-1.0zm18.1,95.3h0.8v0.8h-0.8zm-36.5,33.0h1.2v1.2h-1.2zm-36.9,12.6h1.2v1.2h-1.2zm-5.1,-159.8h1.0v1.0h-1.0zm60.4,124.3h0.8v0.8h-0.8zm-49.8,-124.3h1.0v1.0h-1.0zm58.4,128.7h0.8v0.8h-0.8zm-29.0,14.1h1.0v1.0h-1.0zm-48.7,18.5h1.2v1.2h-1.2zm73.3,-133.4h1.2v1.2h-1.2zm-50.8,-29.3h0.8v0.8h-0.8zm65.3,107.3h1.5v1.5h-1.5zm-70.5,55.5h1.5v1.5h-1.5zm55.6,-134.5h1.0v1.0h-1.0zm-41.9,129.2h1.2v1.2h-1.2zm-38.1,-1.0h1.5v1.5h-1.5zm19.5,4.6h1.2v1.2h-1.2zm79.1,-77.5h0.8v0.8h-0.8zm-15.4,38.4h1.0v1.0h-1.0zm-12.7,22.0h0.8v0.8h-0.8zm-16.5,8.2h1.5v1.5h-1.5zm12.3,-138.9h1.5v1.5h-1.5zm30.0,74.8h1.2v1.2h-1.2zm-27.0,-72.6h0.8v0.8h-0.8zm29.5,59.1h1.2v1.2h-1.2zm-7.2,41.9h1.0v1.0h-1.0zm-37.0,33.0h1.0v1.0h-1.0zm-70.2,5.0h1.5v1.5h-1.5zm23.2,7.0h1.0v1.0h-1.0zm41.0,-6.6h0.8v0.8h-0.8zm-88.7,-18.7h1.5v1.5h-1.5zm31.9,19.8h1.2v1.2h-1.2zm66.8,-148.1h0.8v0.8h-0.8zm12.6,137.0h0.8v0.8h-0.8zm-40.2,17.9h1.0v1.0h-1.0zm8.3,-6.1h0.8v0.8h-0.8zm32.7,-13.5h1.2v1.2h-1.2zm20.4,-35.8h1.5v1.5h-1.5zm8.9,-16.8h1.2v1.2h-1.2zm-109.8,66.2h1.2v1.2h-1.2zm74.8,-10.3h1.5v1.5h-1.5zm13.1,-11.5h1.5v1.5h-1.5zm12.8,-90.5h0.8v0.8h-0.8zm-70.0,117.0h1.2v1.2h-1.2zm70.8,-111.3h1.0v1.0h-1.0zm-61.2,108.3h1.5v1.5h-1.5zm49.1,-25.2h1.5v1.5h-1.5zm2.4,-6.5h1.5v1.5h-1.5zm-107.5,20.5h1.5v1.5h-1.5zm75.0,6.9h1.0v1.0h-1.0zm-5.9,5.3h1.2v1.2h-1.2zm42.1,-32.5h1.2v1.2h-1.2zm-33.6,24.3h1.0v1.0h-1.0zm46.1,-61.4h1.5v1.5h-1.5zm-7.4,18.6h0.8v0.8h-0.8zm-103.6,44.5h1.5v1.5h-1.5zm110.9,-92.3h1.2v1.2h-1.2zm-25.2,-41.4h1.2v1.2h-1.2zm10.7,11.4h1.0v1.0h-1.0zm-10.7,100.4h1.5v1.5h-1.5zm17.0,-16.7h0.8v0.8h-0.8zm10.0,-46.2h1.2v1.2h-1.2zm-7.6,-22.1h0.8v0.8h-0.8zm-126.0,96.0h1.0v1.0h-1.0zm23.7,14.4h1.5v1.5h-1.5zm77.9,-11.9h0.8v0.8h-0.8zm26.5,-33.8h1.5v1.5h-1.5zm-41.3,37.0h0.8v0.8h-0.8zm-58.9,9.5h1.0v1.0h-1.0zm-9.6,-2.4h1.2v1.2h-1.2zm68.1,-6.4h0.8v0.8h-0.8zm21.8,-11.5h1.2v1.2h-1.2zm24.1,-54.9h1.0v1.0h-1.0zm-113.1,73.8h0.8v0.8h-0.8zm58.4,2.7h1.0v1.0h-1.0zm-7.1,2.3h1.5v1.5h-1.5zm-39.5,-3.4h1.2v1.2h-1.2zm86.7,-124.1h1.5v1.5h-1.5zm-27.4,119.6h0.8v0.8h-0.8zm-60.6,7.3h1.5v1.5h-1.5zm94.8,-45.2h0.8v0.8h-0.8zm-116.0,31.6h1.0v1.0h-1.0zm97.7,-5.0h1.5v1.5h-1.5zm-60.3,-141.9h0.8v0.8h-0.8zm73.7,127.1h1.5v1.5h-1.5zm6.7,-9.8h1.5v1.5h-1.5zm1.5,-18.1h0.8v0.8h-0.8zm-105.4,58.6h1.2v1.2h-1.2zm101.9,-111.0h0.8v0.8h-0.8zm-94.3,110.8h1.5v1.5h-1.5zm0.8,0.3h0.8v0.8h-0.8zm18.4,5.5h1.5v1.5h-1.5zm-3.6,-161.3h1.2v1.2h-1.2zm75.9,123.4h1.5v1.5h-1.5zm-9.5,11.8h1.5v1.5h-1.5zm-52.6,23.2h1.5v1.5h-1.5zm70.9,-89.7h0.8v0.8h-0.8zm3.8,16.5h0.8v0.8h-0.8zm-116.5,66.7h1.2v1.2h-1.2zm109.9,-42.6h1.2v1.2h-1.2zm-51.6,48.3h1.0v1.0h-1.0zm35.6,-136.6h1.5v1.5h-1.5zm-51.5,135.7h1.5v1.5h-1.5zm67.0,-101.2h1.2v1.2h-1.2zm-7.4,70.5h1.2v1.2h-1.2zm6.8,-84.6h1.0v1.0h-1.0zm-58.6,114.5h1.5v1.5h-1.5zm-89.4,-42.0h0.8v0.8h-0.8zm148.5,-68.7h1.0v1.0h-1.0zm-39.5,106.0h1.2v1.2h-1.2zm-20.3,3.5h1.5v1.5h-1.5zm30.6,-8.0h1.2v1.2h-1.2zm31.4,-47.9h1.5v1.5h-1.5zm-6.2,-52.0h1.0v1.0h-1.0zm-142.6,70.7h0.8v0.8h-0.8zm147.1,-10.2h1.2v1.2h-1.2zm-2.4,-8.6h0.8v0.8h-0.8zm-28.7,49.6h1.5v1.5h-1.5zm34.1,-66.6h1.2v1.2h-1.2zm-62.3,74.5h1.2v1.2h-1.2zm62.2,-91.0h0.8v0.8h-0.8zm-10.2,51.6h1.5v1.5h-1.5zm13.2,-37.6h1.5v1.5h-1.5zm-43.0,67.7h1.2v1.2h-1.2zm45.3,-65.7h1.0v1.0h-1.0zm-67.6,73.4h1.0v1.0h-1.0zm48.8,-25.2h0.8v0.8h-0.8zm-60.5,31.5h1.0v1.0h-1.0zm-14.1,0.1h1.0v1.0h-1.0zm86.6,-110.2h1.0v1.0h-1.0zm3.8,39.1h0.8v0.8h-0.8zm-3.4,19.5h1.0v1.0h-1.0zm4.0,-47.5h0.8v0.8h-0.8zm-145.8,66.5h0.8v0.8h-0.8zm124.0,6.6h1.2v1.2h-1.2zm20.0,-58.9h1.0v1.0h-1.0zm-28.8,67.2h1.0v1.0h-1.0zm-121.9,-25.0h1.5v1.5h-1.5zm57.2,39.9h1.0v1.0h-1.0zm89.2,-115.7h1.5v1.5h-1.5zm-28.7,96.4h1.0v1.0h-1.0zm33.9,-79.6h1.5v1.5h-1.5zm-40.0,83.1h1.5v1.5h-1.5zm0.5,7.0h1.5v1.5h-1.5zm41.1,-83.0h1.5v1.5h-1.5zm-1.0,-6.5h1.0v1.0h-1.0zm-73.8,96.2h0.8v0.8h-0.8zm50.3,-136.3h1.5v1.5h-1.5zm-18.4,122.6h0.8v0.8h-0.8zm43.4,-69.3h0.8v0.8h-0.8zm-17.7,-45.9h1.0v1.0h-1.0zm4.8,7.1h1.2v1.2h-1.2zm-3.9,-6.1h1.0v1.0h-1.0zm15.9,32.1h1.0v1.0h-1.0zm-110.8,93.4h1.2v1.2h-1.2zm99.0,-30.4h1.0v1.0h-1.0zm-10.8,-100.4h1.5v1.5h-1.5zm-35.4,127.8h1.2v1.2h-1.2zm51.7,-51.4h1.5v1.5h-1.5zm-103.4,56.3h1.0v1.0h-1.0zm103.2,-49.6h1.2v1.2h-1.2zm-55.4,-107.7h1.2v1.2h-1.2zm-35.5,160.6h0.8v0.8h-0.8zm77.6,-134.3h1.2v1.2h-1.2zm0.1,92.9h1.5v1.5h-1.5zm-65.6,43.0h1.5v1.5h-1.5zm55.4,-141.6h0.8v0.8h-0.8zm25.2,86.3h1.0v1.0h-1.0zm-89.2,-106.7h1.0v1.0h-1.0zm79.0,33.8h1.5v1.5h-1.5zm-30.1,109.6h0.8v0.8h-0.8zm-95.2,-6.8h1.2v1.2h-1.2zm129.8,-98.8h1.2v1.2h-1.2zm12.9,43.6h1.2v1.2h-1.2zm-18.0,34.7h1.0v1.0h-1.0zm-109.2,33.6h1.5v1.5h-1.5zm117.5,-44.3h0.8v0.8h-0.8zm-99.7,53.5h1.5v1.5h-1.5zm109.0,-86.1h0.8v0.8h-0.8zm-89.8,88.3h0.8v0.8h-0.8zm60.2,-138.7h0.8v0.8h-0.8zm-54.6,139.7h1.2v1.2h-1.2zm-43.0,-14.6h1.5v1.5h-1.5zm-28.3,-29.7h1.2v1.2h-1.2zm77.7,42.0h0.8v0.8h-0.8zm65.2,-122.8h1.2v1.2h-1.2zm-90.8,119.0h1.2v1.2h-1.2zm66.7,-141.4h1.0v1.0h-1.0zm-40.7,148.3h1.2v1.2h-1.2zm-61.0,-25.1h1.0v1.0h-1.0zm136.1,-66.0h1.5v1.5h-1.5zm-11.8,49.3h1.0v1.0h-1.0zm0.7,-5.2h0.8v0.8h-0.8zm-29.7,34.8h0.8v0.8h-0.8zm0.9,-7.3h0.8v0.8h-0.8zm40.3,-76.2h1.5v1.5h-1.5zm-34.1,79.3h1.2v1.2h-1.2zm-95.3,-1.1h1.5v1.5h-1.5zm126.4,-70.9h1.5v1.5h-1.5zm1.3,24.6h1.5v1.5h-1.5zm-65.1,61.7h1.2v1.2h-1.2zm48.3,-28.5h1.2v1.2h-1.2zm-3.1,-109.2h1.5v1.5h-1.5zm8.8,16.3h1.5v1.5h-1.5zm13.0,42.3h1.0v1.0h-1.0zm-33.8,52.6h0.8v0.8h-0.8zm19.4,-17.5h0.8v0.8h-0.8zm5.5,2.7h0.8v0.8h-0.8zm-24.3,21.6h1.2v1.2h-1.2zm20.5,-18.2h1.2v1.2h-1.2zm-42.5,32.7h1.5v1.5h-1.5zm25.3,-16.5h1.2v1.2h-1.2zm18.4,-20.7h1.5v1.5h-1.5zm-80.0,44.2h1.2v1.2h-1.2zm35.6,-5.5h1.2v1.2h-1.2zm-17.5,4.3h0.8v0.8h-0.8zm64.4,-41.7h1.0v1.0h-1.0zm0.8,-9.3h1.5v1.5h-1.5zm2.0,-53.1h1.2v1.2h-1.2zm-111.2,97.5h1.2v1.2h-1.2zm112.0,-105.4h1.5v1.5h-1.5zm-30.3,96.7h1.0v1.0h-1.0zm34.5,-83.5h1.5v1.5h-1.5zm-54.1,-60.5h0.8v0.8h-0.8zm-29.0,160.8h0.8v0.8h-0.8zm68.4,-41.6h1.2v1.2h-1.2zm8.5,-26.2h0.8v0.8h-0.8zm-23.5,49.6h1.5v1.5h-1.5zm29.2,-77.3h1.5v1.5h-1.5zm-6.1,-17.7h0.8v0.8h-0.8zm-66.6,109.8h0.8v0.8h-0.8zm-6.4,0.3h1.2v1.2h-1.2zm81.2,-69.2h0.8v0.8h-0.8zm-10.4,25.3h1.5v1.5h-1.5zm11.9,-29.4h0.8v0.8h-0.8zm-10.5,-31.8h0.8v0.8h-0.8zm-28.2,-42.6h1.2v1.2h-1.2zm-23.5,142.3h1.5v1.5h-1.5zm54.9,-45.0h1.2v1.2h-1.2zm-114.0,42.5h0.8v0.8h-0.8zm97.6,-15.3h1.0v1.0h-1.0zm5.3,-16.4h1.5v1.5h-1.5zm-22.1,20.2h1.2v1.2h-1.2zm40.6,-60.8h1.2v1.2h-1.2zm-88.2,-79.9h0.8v0.8h-0.8zm29.9,156.3h1.2v1.2h-1.2zm-35.6,2.0h0.8v0.8h-0.8zm-66.8,-50.5h0.8v0.8h-0.8zm148.8,9.6h1.5v1.5h-1.5zm-37.5,28.2h0.8v0.8h-0.8zm-27.7,13.4h1.5v1.5h-1.5zm52.8,-22.2h1.0v1.0h-1.0zm16.0,-84.9h1.2v1.2h-1.2zm-28.9,86.0h1.2v1.2h-1.2zm-2.9,-126.6h0.8v0.8h-0.8zm-42.3,-10.0h1.0v1.0h-1.0zm57.7,130.2h1.5v1.5h-1.5zm-34.5,22.1h1.2v1.2h-1.2zm35.2,-20.0h1.5v1.5h-1.5zm20.2,-44.1h1.5v1.5h-1.5zm0.3,-15.4h0.8v0.8h-0.8zm-11.3,47.7h1.5v1.5h-1.5zm3.6,-21.3h1.2v1.2h-1.2zm-21.3,36.2h1.0v1.0h-1.0zm-12.2,7.3h1.2v1.2h-1.2zm1.5,3.6h1.2v1.2h-1.2zm22.4,-119.1h1.0v1.0h-1.0zm19.0,43.6h1.0v1.0h-1.0zm-77.1,-72.9h1.5v1.5h-1.5zm35.9,152.3h1.0v1.0h-1.0zm2.2,-8.8h1.0v1.0h-1.0zm-83.9,6.0h1.0v1.0h-1.0zm37.4,10.9h1.2v1.2h-1.2zm79.1,-46.3h1.2v1.2h-1.2zm-15.2,22.0h1.0v1.0h-1.0zm-10.6,2.0h0.8v0.8h-0.8zm25.1,-26.2h1.2v1.2h-1.2zm-123.9,34.3h1.2v1.2h-1.2zm22.9,11.9h1.5v1.5h-1.5zm72.5,-9.4h1.0v1.0h-1.0zm-118.7,-30.0h1.2v1.2h-1.2zm115.7,-105.4h0.8v0.8h-0.8zm-77.0,140.3h0.8v0.8h-0.8zm117.1,-70.4h1.2v1.2h-1.2zm-2.0,-19.6h1.0v1.0h-1.0zm-81.6,-63.5h0.8v0.8h-0.8zm48.6,143.7h1.2v1.2h-1.2zm7.5,-17.1h1.0v1.0h-1.0zm-9.5,22.6h1.2v1.2h-1.2zm8.0,-124.7h1.0v1.0h-1.0zm15.8,87.5h1.2v1.2h-1.2zm11.9,-41.8h1.2v1.2h-1.2zm-80.2,93.5h1.0v1.0h-1.0zm47.1,-19.1h1.5v1.5h-1.5zm-128.1,-42.8h1.0v1.0h-1.0zm156.6,-33.8h0.8v0.8h-0.8zm-72.5,93.0h1.5v1.5h-1.5zm-55.8,-15.0h1.2v1.2h-1.2zm81.8,4.3h0.8v0.8h-0.8zm41.3,-30.0h1.5v1.5h-1.5zm4.9,-21.2h1.2v1.2h-1.2zm-82.8,64.9h0.8v0.8h-0.8zm84.9,-75.7h1.0v1.0h-1.0zm-16.9,35.8h1.5v1.5h-1.5zm-11.5,16.7h1.5v1.5h-1.5zm-47.9,-140.8h0.8v0.8h-0.8zm-9.7,0.9h1.0v1.0h-1.0zm81.5,43.9h0.8v0.8h-0.8zm-27.4,91.2h1.0v1.0h-1.0zm-90.6,15.2h1.0v1.0h-1.0zm121.5,-94.6h1.5v1.5h-1.5zm0.5,14.1h0.8v0.8h-0.8zm-86.8,-68.3h1.0v1.0h-1.0zm85.5,85.4h0.8v0.8h-0.8zm-83.3,71.1h1.2v1.2h-1.2zm-21.1,0.3h0.8v0.8h-0.8zm-45.2,-39.6h1.2v1.2h-1.2zm155.0,-29.2h1.2v1.2h-1.2zm-0.1,-17.8h0.8v0.8h-0.8zm-6.4,29.4h1.2v1.2h-1.2zm-53.4,55.7h0.8v0.8h-0.8zm-36.0,5.3h1.2v1.2h-1.2zm66.3,-20.0h1.0v1.0h-1.0zm-29.5,-141.5h1.2v1.2h-1.2zm-24.5,0.7h1.0v1.0h-1.0zm-3.7,161.8h0.8v0.8h-0.8zm23.1,-6.7h1.5v1.5h-1.5zm52.6,-110.3h1.0v1.0h-1.0zm-11.0,87.5h1.0v1.0h-1.0zm16.3,-76.0h0.8v0.8h-0.8zm-29.9,89.2h1.5v1.5h-1.5zm15.4,-19.7h0.8v0.8h-0.8zm6.7,-5.1h1.0v1.0h-1.0zm12.1,-34.6h1.5v1.5h-1.5zm-93.7,73.9h1.0v1.0h-1.0zm86.2,-116.5h1.0v1.0h-1.0zm-35.6,108.7h1.0v1.0h-1.0zm22.8,-17.6h1.5v1.5h-1.5zm20.1,-65.9h1.5v1.5h-1.5zm-26.8,71.1h1.0v1.0h-1.0zm-3.6,-126.0h1.2v1.2h-1.2zm-3.2,132.2h0.8v0.8h-0.8zm32.0,-86.9h1.5v1.5h-1.5zm-0.1,24.6h1.0v1.0h-1.0zm-19.8,-62.5h1.5v1.5h-1.5zm21.4,77.4h1.5v1.5h-1.5zm-51.6,57.0h0.8v0.8h-0.8zm-103.4,-42.5h1.0v1.0h-1.0zm137.3,5.2h1.5v1.5h-1.5zm-2.0,15.7h1.2v1.2h-1.2zm-19.0,11.7h1.5v1.5h-1.5zm-105.3,-17.7h1.0v1.0h-1.0zm128.8,-2.6h1.2v1.2h-1.2zm-2.3,-4.3h1.5v1.5h-1.5zm13.1,-26.1h1.0v1.0h-1.0zm-9.1,29.6h0.8v0.8h-0.8zm-6.3,9.7h0.8v0.8h-0.8zm-89.2,22.2h1.2v1.2h-1.2zm80.9,-19.0h1.0v1.0h-1.0zm-96.8,10.6h1.0v1.0h-1.0zm86.5,1.2h0.8v0.8h-0.8zm-37.6,-149.4h1.5v1.5h-1.5zm73.2,64.1h1.2v1.2h-1.2zm-0.5,30.7h0.8v0.8h-0.8zm5.7,-14.2h0.8v0.8h-0.8zm-8.6,-37.8h1.5v1.5h-1.5zm-17.9,93.4h1.5v1.5h-1.5zm-25.3,19.2h1.5v1.5h-1.5zm41.2,-103.8h1.0v1.0h-1.0zm8.5,6.9h1.5v1.5h-1.5zm-22.5,70.5h1.0v1.0h-1.0zm-112.1,10.9h0.8v0.8h-0.8zm102.0,-5.0h1.5v1.5h-1.5zm-22.1,21.0h1.2v1.2h-1.2zm7.9,-2.3h0.8v0.8h-0.8zm34.1,-29.5h1.0v1.0h-1.0zm-12.3,11.0h1.2v1.2h-1.2zm7.8,-108.3h1.5v1.5h-1.5zm12.9,68.1h1.5v1.5h-1.5zm-116.6,52.3h0.8v0.8h-0.8zm93.0,-8.0h1.2v1.2h-1.2zm-104.1,3.1h1.0v1.0h-1.0zm26.3,11.9h1.0v1.0h-1.0zm38.3,6.0h1.0v1.0h-1.0zm-8.5,-161.4h0.8v0.8h-0.8zm52.9,27.1h0.8v0.8h-0.8zm17.3,17.9h0.8v0.8h-0.8zm5.9,20.1h1.0v1.0h-1.0zm-26.8,72.8h1.5v1.5h-1.5zm-103.8,8.0h1.0v1.0h-1.0zm131.3,-78.9h1.5v1.5h-1.5zm-85.9,93.0h1.0v1.0h-1.0zm-75.8,-63.1h1.5v1.5h-1.5zm140.0,29.1h1.5v1.5h-1.5zm15.8,-30.5h1.5v1.5h-1.5zm-65.9,-94.7h0.8v0.8h-0.8zm72.4,67.9h1.2v1.2h-1.2zm-146.3,60.2h1.2v1.2h-1.2zm98.2,17.7h0.8v0.8h-0.8zm31.5,-17.6h1.0v1.0h-1.0zm-75.4,33.8h1.5v1.5h-1.5zm84.5,-115.4h1.0v1.0h-1.0zm5.5,27.0h1.0v1.0h-1.0zm-129.7,70.3h1.5v1.5h-1.5zm117.8,-20.4h1.2v1.2h-1.2zm-1.1,-86.6h1.0v1.0h-1.0zm-40.2,118.7h1.0v1.0h-1.0zm54.1,-78.5h0.8v0.8h-0.8zm-4.7,-26.0h1.2v1.2h-1.2zm-73.5,108.8h1.5v1.5h-1.5zm62.5,-130.7h0.8v0.8h-0.8zm-38.5,126.2h1.5v1.5h-1.5zm42.0,-35.7h1.2v1.2h-1.2zm-4.6,5.8h1.5v1.5h-1.5zm4.5,-13.7h1.2v1.2h-1.2zm-95.4,44.6h1.5v1.5h-1.5zm72.0,-14.6h0.8v0.8h-0.8zm-0.6,-5.8h0.8v0.8h-0.8zm20.2,-7.2h0.8v0.8h-0.8zm-143.4,-26.5h1.5v1.5h-1.5zm74.9,57.8h1.0v1.0h-1.0zm54.4,-144.1h1.2v1.2h-1.2zm-26.5,142.1h1.5v1.5h-1.5zm-18.6,-158.0h1.5v1.5h-1.5zm27.1,155.2h1.2v1.2h-1.2zm47.5,-55.2h1.5v1.5h-1.5zm-76.1,57.9h1.0v1.0h-1.0zm36.9,-7.6h1.2v1.2h-1.2zm33.0,-107.8h1.0v1.0h-1.0zm-116.1,107.9h1.5v1.5h-1.5zm33.6,-149.7h1.2v1.2h-1.2zm15.8,157.3h1.2v1.2h-1.2zm-1.1,2.8h1.0v1.0h-1.0zm73.6,-94.9h1.2v1.2h-1.2zm-93.8,-67.2h1.5v1.5h-1.5zm27.6,-0.1h1.0v1.0h-1.0zm-56.8,147.8h1.0v1.0h-1.0zm114.9,-34.2h1.5v1.5h-1.5zm-35.7,32.6h1.2v1.2h-1.2zm40.8,-70.9h0.8v0.8h-0.8zm-100.4,83.0h1.0v1.0h-1.0zm85.0,-26.5h0.8v0.8h-0.8zm-26.8,23.6h0.8v0.8h-0.8zm41.5,-102.8h1.2v1.2h-1.2zm2.0,43.6h1.2v1.2h-1.2zm-3.1,14.8h1.5v1.5h-1.5zm-13.2,16.6h1.5v1.5h-1.5zm-54.4,-128.0h1.2v1.2h-1.2zm38.9,141.4h0.8v0.8h-0.8zm0.9,-1.6h1.5v1.5h-1.5zm-117.5,-18.2h1.5v1.5h-1.5zm134.0,-92.3h1.5v1.5h-1.5zm5.6,17.0h1.5v1.5h-1.5zm9.3,30.1h1.2v1.2h-1.2zm-115.8,76.2h1.0v1.0h-1.0zm117.2,-92.0h1.5v1.5h-1.5zm-38.5,89.9h1.5v1.5h-1.5zm-109.7,-23.4h1.2v1.2h-1.2zm136.3,-4.1h1.0v1.0h-1.0zm-51.3,37.9h1.0v1.0h-1.0zm44.7,-28.4h0.8v0.8h-0.8zm20.9,-51.5h1.2v1.2h-1.2zm-23.6,-54.2h1.0v1.0h-1.0zm5.4,105.3h0.8v0.8h-0.8zm-17.9,-118.3h1.5v1.5h-1.5zm-37.7,-13.4h1.0v1.0h-1.0zm54.9,122.2h1.5v1.5h-1.5zm8.9,-14.8h1.5v1.5h-1.5zm-14.0,15.0h1.5v1.5h-1.5zm2.9,-96.0h1.2v1.2h-1.2zm-10.1,-10.1h1.5v1.5h-1.5zm27.0,64.6h0.8v0.8h-0.8zm-21.5,-55.7h1.0v1.0h-1.0zm-43.2,137.2h0.8v0.8h-0.8zm28.4,-18.4h0.8v0.8h-0.8zm-111.1,-21.4h1.0v1.0h-1.0zm145.8,-58.3h1.0v1.0h-1.0zm-50.9,90.6h1.2v1.2h-1.2zm51.8,-101.2h0.8v0.8h-0.8zm-69.2,106.9h1.2v1.2h-1.2zm34.8,-17.4h1.5v1.5h-1.5zm24.3,-105.6h1.0v1.0h-1.0zm-21.9,111.0h1.0v1.0h-1.0zm7.7,-130.6h1.2v1.2h-1.2zm-42.1,145.1h1.0v1.0h-1.0zm70.2,-69.6h1.0v1.0h-1.0zm-30.8,51.4h1.2v1.2h-1.2zm17.7,-107.5h1.2v1.2h-1.2zm1.5,8.7h1.2v1.2h-1.2zm-7.9,-17.9h1.0v1.0h-1.0zm3.1,100.4h1.2v1.2h-1.2zm4.5,-80.9h0.8v0.8h-0.8zm11.4,26.4h1.2v1.2h-1.2zm-47.2,81.8h1.5v1.5h-1.5zm-18.2,0.6h1.0v1.0h-1.0zm-34.7,4.9h1.2v1.2h-1.2zm74.2,-26.9h1.5v1.5h-1.5zm-74.6,22.2h1.0v1.0h-1.0zm19.9,5.1h0.8v0.8h-0.8zm82.2,-76.2h1.2v1.2h-1.2zm-24.5,46.1h0.8v0.8h-0.8zm-8.1,-113.0h1.0v1.0h-1.0zm3.0,124.2h1.0v1.0h-1.0zm1.1,-123.2h0.8v0.8h-0.8zm-21.8,134.1h1.5v1.5h-1.5zm39.9,-113.2h0.8v0.8h-0.8zm-19.7,90.6h1.2v1.2h-1.2zm16.7,-23.1h1.5v1.5h-1.5zm-26.6,40.2h1.2v1.2h-1.2zm-104.5,-15.4h1.0v1.0h-1.0zm68.8,27.4h1.5v1.5h-1.5zm-69.5,-27.8h1.0v1.0h-1.0zm143.1,-34.3h1.2v1.2h-1.2zm-7.8,17.2h1.0v1.0h-1.0zm-48.8,42.3h1.0v1.0h-1.0zm41.0,-123.3h1.0v1.0h-1.0zm2.9,90.7h0.8v0.8h-0.8zm-57.4,36.8h0.8v0.8h-0.8zm65.5,-109.7h1.0v1.0h-1.0zm-65.2,105.0h1.5v1.5h-1.5zm-11.3,1.7h1.2v1.2h-1.2zm74.1,-49.0h0.8v0.8h-0.8zm-8.1,12.3h0.8v0.8h-0.8zm-108.5,29.0h1.5v1.5h-1.5zm117.1,-99.7h1.5v1.5h-1.5zm-129.5,90.2h1.0v1.0h-1.0zm106.3,-10.2h1.5v1.5h-1.5zm-106.8,8.4h1.2v1.2h-1.2zm42.4,22.8h1.2v1.2h-1.2zm51.7,-14.0h1.0v1.0h-1.0zm-62.1,8.3h1.0v1.0h-1.0zm10.3,4.9h0.8v0.8h-0.8zm95.4,-97.4h1.0v1.0h-1.0zm-84.0,98.8h0.8v0.8h-0.8zm55.5,-142.5h1.0v1.0h-1.0zm16.6,103.6h1.5v1.5h-1.5zm-63.3,-122.9h1.2v1.2h-1.2zm5.7,159.9h0.8v0.8h-0.8zm52.5,-41.4h1.5v1.5h-1.5zm-9.0,9.0h1.2v1.2h-1.2zm-89.2,27.1h1.0v1.0h-1.0zm106.4,-36.9h1.5v1.5h-1.5zm4.4,-65.1h1.0v1.0h-1.0zm-99.7,-52.3h1.0v1.0h-1.0zm102.9,67.4h1.2v1.2h-1.2zm-7.6,44.8h1.0v1.0h-1.0zm-28.2,35.6h1.0v1.0h-1.0zm30.9,-58.3h1.5v1.5h-1.5zm-36.2,60.0h0.8v0.8h-0.8zm37.4,-59.5h1.5v1.5h-1.5zm-5.7,29.7h1.5v1.5h-1.5zm-44.3,33.8h1.0v1.0h-1.0zm38.2,-124.3h1.2v1.2h-1.2zm-23.5,116.0h1.5v1.5h-1.5zm-3.5,5.4h0.8v0.8h-0.8zm-33.0,10.3h1.5v1.5h-1.5zm23.6,-159.9h1.0v1.0h-1.0zm53.6,85.9h1.2v1.2h-1.2zm-147.4,41.5h1.2v1.2h-1.2zm3.8,4.6h1.2v1.2h-1.2zm64.5,27.3h0.8v0.8h-0.8zm46.6,-21.5h1.0v1.0h-1.0zm-40.8,19.9h1.2v1.2h-1.2zm49.2,-132.5h1.2v1.2h-1.2zm-47.2,134.7h0.8v0.8h-0.8zm21.3,-8.5h1.0v1.0h-1.0zm29.5,-128.3h1.0v1.0h-1.0zm-113.4,118.3h0.8v0.8h-0.8zm74.4,11.8h1.5v1.5h-1.5zm-74.2,-12.3h1.2v1.2h-1.2zm92.4,3.5h1.5v1.5h-1.5zm20.3,-116.2h0.8v0.8h-0.8zm-5.8,-9.1h1.2v1.2h-1.2zm-130.5,88.2h1.2v1.2h-1.2zm80.6,53.3h0.8v0.8h-0.8zm50.3,-24.8h1.5v1.5h-1.5zm-51.9,-139.1h1.2v1.2h-1.2zm-10.1,0.4h0.8v0.8h-0.8zm79.6,118.7h1.0v1.0h-1.0zm-127.9,23.4h1.0v1.0h-1.0zm106.4,-8.1h0.8v0.8h-0.8zm-62.8,28.5h1.5v1.5h-1.5zm34.7,-7.8h1.5v1.5h-1.5zm-91.7,-27.6h1.0v1.0h-1.0zm127.1,10.7h1.2v1.2h-1.2zm-78.8,23.7h0.8v0.8h-0.8zm64.1,-149.3h1.0v1.0h-1.0zm-33.0,146.2h0.8v0.8h-0.8zm-5.3,5.4h0.8v0.8h-0.8zm27.6,-7.7h1.5v1.5h-1.5zm45.3,-50.1h1.5v1.5h-1.5zm-4.4,-8.8h0.8v0.8h-0.8zm-3.5,-57.0h0.8v0.8h-0.8zm-49.4,116.6h1.2v1.2h-1.2zm27.7,-14.7h1.2v1.2h-1.2zm-32.4,16.2h1.5v1.5h-1.5zm24.3,-148.7h1.0v1.0h-1.0zm10.2,131.6h1.0v1.0h-1.0zm-71.5,19.4h1.0v1.0h-1.0zm17.8,-160.8h1.5v1.5h-1.5zm80.2,106.2h0.8v0.8h-0.8zm-12.0,21.9h1.2v1.2h-1.2zm11.8,-51.1h1.0v1.0h-1.0zm-53.0,82.5h1.5v1.5h-1.5zm-65.5,-7.5h1.2v1.2h-1.2zm120.8,-52.1h1.0v1.0h-1.0zm2.0,-31.9h0.8v0.8h-0.8zm-29.4,62.1h1.5v1.5h-1.5zm-4.2,-115.0h1.5v1.5h-1.5zm-54.4,143.5h1.2v1.2h-1.2zm39.7,-4.5h1.2v1.2h-1.2zm-15.2,8.0h1.2v1.2h-1.2zm-34.1,-3.7h1.0v1.0h-1.0zm16.1,5.1h1.0v1.0h-1.0zm-14.5,-163.3h0.8v0.8h-0.8zm18.0,163.4h1.0v1.0h-1.0zm59.5,-44.9h0.8v0.8h-0.8zm-10.4,13.0h1.2v1.2h-1.2zm-8.4,5.7h1.5v1.5h-1.5zm9.1,-5.6h1.2v1.2h-1.2z" fill="#000" stroke="none" stroke-width="1" /><g fill="none" stroke="#a8a8a8" stroke-opacity="0.45" stroke-width="0.7"><circle cx="245.7" cy="279.4" r="7.9"/><circle cx="245.7" cy="279.4" r="15.8"/><circle cx="245.7" cy="279.4" r="23.7"/><circle cx="245.7" cy="279.4" r="31.6"/><circle cx="245.7" cy="279.4" r="39.5"/><circle cx="245.7" cy="279.4" r="47.4"/><circle cx="245.7" cy="279.4" r="55.3"/><circle cx="245.7" cy="279.4" r="63.2"/><circle cx="245.7" cy="279.4" r="71.1"/><circle cx="245.7" cy="279.4" r="79"/><line x1="161.7" y1="279.4" x2="329.7" y2="279.4"/><line x1="164.56" y1="257.66" x2="326.84" y2="301.14"/><line x1="172.95" y1="237.4" x2="318.45" y2="321.4"/><line x1="186.3" y1="220" x2="305.1" y2="338.8"/><line x1="203.7" y1="206.65" x2="287.7" y2="352.15"/><line x1="223.96" y1="198.26" x2="267.44" y2="360.54"/><line x1="245.7" y1="195.4" x2="245.7" y2="363.4"/><line x1="267.44" y1="198.26" x2="223.96" y2="360.54"/><line x1="287.7" y1="206.65" x2="203.7" y2="352.15"/><line x1="305.1" y1="220" x2="186.3" y2="338.8"/><line x1="318.45" y1="237.4" x2="172.95" y2="321.4"/><line x1="326.84" y1="257.66" x2="164.56" y2="301.14"/></g><rect x="241.6" y="275.1" width="9.2" height="9.4" fill="#000" stroke="#ff30ff" stroke-width="0.8" /><circle cx="245.7" cy="279.4" r="85.8" fill="none" stroke="#000" stroke-width="3"/><text x="339.8" y="282" font-size="7.4" text-anchor="middle" fill="#262626" >0</text><text x="329.4" y="233" font-size="7.4" text-anchor="middle" fill="#262626" >30</text><text x="296.2" y="199.8" font-size="7.4" text-anchor="middle" fill="#262626" >60</text><text x="245.7" y="187.6" font-size="7.4" text-anchor="middle" fill="#262626" >90</text><text x="193.8" y="199.8" font-size="7.4" text-anchor="middle" fill="#262626" >120</text><text x="160.3" y="233" font-size="7.4" text-anchor="middle" fill="#262626" >150</text><text x="148" y="282" font-size="7.4" text-anchor="middle" fill="#262626" >180</text><text x="160.1" y="330.8" font-size="7.4" text-anchor="middle" fill="#262626" >210</text><text x="193.5" y="364" font-size="7.4" text-anchor="middle" fill="#262626" >240</text><text x="245.7" y="375.7" font-size="7.4" text-anchor="middle" fill="#262626" >270</text><text x="297.5" y="363.8" font-size="7.4" text-anchor="middle" fill="#262626" >300</text><text x="330.9" y="330.7" font-size="7.4" text-anchor="middle" fill="#262626" >330</text><text x="327.1" y="201.5" font-size="14" textLength="71" lengthAdjust="spacingAndGlyphs">BRDF[1/sr]</text><rect x="355.1" y="205.5" width="11.8" height="159.5" fill="url(#cbar)" stroke="none" stroke-width="1" /><line x1="366.9" y1="207.2" x2="369.1" y2="207.2" stroke="#888" stroke-width="0.6" /><text x="370.9" y="209" font-size="5.2" text-anchor="start" fill="#333" >0.6000</text><line x1="366.9" y1="222.83" x2="369.1" y2="222.83" stroke="#888" stroke-width="0.6" /><text x="370.9" y="224.63" font-size="5.2" text-anchor="start" fill="#333" >0.5400</text><line x1="366.9" y1="238.46" x2="369.1" y2="238.46" stroke="#888" stroke-width="0.6" /><text x="370.9" y="240.26" font-size="5.2" text-anchor="start" fill="#333" >0.4800</text><line x1="366.9" y1="254.09" x2="369.1" y2="254.09" stroke="#888" stroke-width="0.6" /><text x="370.9" y="255.89" font-size="5.2" text-anchor="start" fill="#333" >0.4200</text><line x1="366.9" y1="269.72" x2="369.1" y2="269.72" stroke="#888" stroke-width="0.6" /><text x="370.9" y="271.52" font-size="5.2" text-anchor="start" fill="#333" >0.3600</text><line x1="366.9" y1="285.35" x2="369.1" y2="285.35" stroke="#888" stroke-width="0.6" /><text x="370.9" y="287.15" font-size="5.2" text-anchor="start" fill="#333" >0.3000</text><line x1="366.9" y1="300.98" x2="369.1" y2="300.98" stroke="#888" stroke-width="0.6" /><text x="370.9" y="302.78" font-size="5.2" text-anchor="start" fill="#333" >0.2400</text><line x1="366.9" y1="316.61" x2="369.1" y2="316.61" stroke="#888" stroke-width="0.6" /><text x="370.9" y="318.41" font-size="5.2" text-anchor="start" fill="#333" >0.1800</text><line x1="366.9" y1="332.24" x2="369.1" y2="332.24" stroke="#888" stroke-width="0.6" /><text x="370.9" y="334.04" font-size="5.2" text-anchor="start" fill="#333" >0.1200</text><line x1="366.9" y1="347.87" x2="369.1" y2="347.87" stroke="#888" stroke-width="0.6" /><text x="370.9" y="349.67" font-size="5.2" text-anchor="start" fill="#333" >0.06000</text><line x1="366.9" y1="363.5" x2="369.1" y2="363.5" stroke="#888" stroke-width="0.6" /><text x="370.9" y="365.3" font-size="5.2" text-anchor="start" fill="#333" >0.000</text></g><rect x="139.4" y="421" width="377.2" height="168.6" fill="#fff" stroke="#000" stroke-width="2.8" rx="1.2"/><g clip-path="url(#cliplback)"><line x1="198.2" y1="447.1" x2="198.2" y2="578.1" stroke="#888" stroke-width="0.9" /><line x1="193.7" y1="578.1" x2="198.2" y2="578.1" stroke="#888" stroke-width="0.8" /><line x1="195.7" y1="567.23" x2="198.2" y2="567.23" stroke="#888" stroke-width="0.8" /><line x1="193.7" y1="556.35" x2="198.2" y2="556.35" stroke="#888" stroke-width="0.8" /><line x1="195.7" y1="545.48" x2="198.2" y2="545.48" stroke="#888" stroke-width="0.8" /><line x1="193.7" y1="534.6" x2="198.2" y2="534.6" stroke="#888" stroke-width="0.8" /><line x1="195.7" y1="523.73" x2="198.2" y2="523.73" stroke="#888" stroke-width="0.8" /><line x1="193.7" y1="512.85" x2="198.2" y2="512.85" stroke="#888" stroke-width="0.8" /><line x1="195.7" y1="501.98" x2="198.2" y2="501.98" stroke="#888" stroke-width="0.8" /><line x1="193.7" y1="491.1" x2="198.2" y2="491.1" stroke="#888" stroke-width="0.8" /><line x1="195.7" y1="480.23" x2="198.2" y2="480.23" stroke="#888" stroke-width="0.8" /><line x1="193.7" y1="469.35" x2="198.2" y2="469.35" stroke="#888" stroke-width="0.8" /><line x1="195.7" y1="458.48" x2="198.2" y2="458.48" stroke="#888" stroke-width="0.8" /><line x1="193.7" y1="447.6" x2="198.2" y2="447.6" stroke="#888" stroke-width="0.8" /><text x="189.6" y="583.5" font-size="16.8" text-anchor="end" fill="#000" class="b">0.0</text><text x="189.6" y="561.75" font-size="16.8" text-anchor="end" fill="#000" class="b">0.1</text><text x="189.6" y="540" font-size="16.8" text-anchor="end" fill="#000" class="b">0.2</text><text x="189.6" y="518.25" font-size="16.8" text-anchor="end" fill="#000" class="b">0.3</text><text x="189.6" y="496.5" font-size="16.8" text-anchor="end" fill="#000" class="b">0.4</text><text x="189.6" y="474.75" font-size="16.8" text-anchor="end" fill="#000" class="b">0.5</text><text x="189.6" y="453" font-size="16.8" text-anchor="end" fill="#000" class="b">0.6</text><text x="156.4" y="509.6" font-size="16.5" class="b" text-anchor="middle" transform="rotate(-90 156.4 509.6)">BRDF[1/sr]</text><path d="M341.73,578.1A10.88,10.88 0 0 1 363.48,578.1M319.98,578.1A32.62,32.62 0 0 1 385.23,578.1M298.23,578.1A54.38,54.38 0 0 1 406.98,578.1M276.48,578.1A76.12,76.12 0 0 1 428.73,578.1M254.73,578.1A97.88,97.88 0 0 1 450.48,578.1M232.98,578.1A119.62,119.62 0 0 1 472.23,578.1M352.6,578.1L478.65,544.32M352.6,578.1L444.88,485.82M352.6,578.1L386.38,452.05M352.6,578.1L318.82,452.05M352.6,578.1L260.32,485.82M352.6,578.1L226.55,544.32" fill="none" stroke="#c8c8c8" stroke-width="0.7" stroke-dasharray="1.2 1.6"/><path d="M330.85,578.1A21.75,21.75 0 0 1 374.35,578.1M309.1,578.1A43.5,43.5 0 0 1 396.1,578.1M287.35,578.1A65.25,65.25 0 0 1 417.85,578.1M265.6,578.1A87,87 0 0 1 439.6,578.1M243.85,578.1A108.75,108.75 0 0 1 461.35,578.1M352.6,578.1L465.62,512.85M352.6,578.1L417.85,465.08M352.6,578.1L352.6,447.6M352.6,578.1L287.35,465.08M352.6,578.1L239.58,512.85" fill="none" stroke="#8a8a8a" stroke-width="0.75" /><path d="M483.1,578.1L479.1,578.1M481.12,555.44L478.66,555.87M475.23,533.47L472.88,534.32M465.62,512.85L462.15,514.85M452.57,494.22L450.65,495.82M436.48,478.13L434.88,480.05M417.85,465.08L415.85,468.55M397.23,455.47L396.38,457.82M375.26,449.58L374.83,452.04M352.6,447.6L352.6,451.6M329.94,449.58L330.37,452.04M307.97,455.47L308.82,457.82M287.35,465.08L289.35,468.55M268.72,478.13L270.32,480.05M252.63,494.22L254.55,495.82M239.58,512.85L243.05,514.85M229.97,533.47L232.32,534.32M224.08,555.44L226.54,555.87M222.1,578.1L226.1,578.1" fill="none" stroke="#777" stroke-width="0.7" /><path d="M222.1,578.1A130.5,130.5 0 0 1 483.1,578.1" fill="none" stroke="#444" stroke-width="0.9" /><line x1="222.1" y1="578.1" x2="483.1" y2="578.1" stroke="#999" stroke-width="0.9" /><text x="352.6" y="439.3" font-size="16.8" text-anchor="middle" fill="#000" class="b">0</text><text x="276.1" y="456.7" font-size="16.8" text-anchor="middle" fill="#000" class="b">30</text><text x="431.9" y="457.5" font-size="16.8" text-anchor="middle" fill="#000" class="b">-30</text><text x="226.5" y="506.7" font-size="16.8" text-anchor="middle" fill="#000" class="b">60</text><text x="481.6" y="506.7" font-size="16.8" text-anchor="middle" fill="#000" class="b">-60</text><text x="208.7" y="584.1" font-size="16.8" text-anchor="middle" fill="#000" class="b">90</text><text x="501" y="584.1" font-size="16.8" text-anchor="middle" fill="#000" class="b">-90</text></g><rect x="98.7" y="458.4" width="379.2" height="166.5" fill="#fff" stroke="#000" stroke-width="2.8" rx="1.2"/><g clip-path="url(#cliplmid)"><line x1="158.2" y1="483.2" x2="158.2" y2="614.2" stroke="#888" stroke-width="0.9" /><line x1="153.7" y1="614.2" x2="158.2" y2="614.2" stroke="#888" stroke-width="0.8" /><line x1="155.7" y1="603.33" x2="158.2" y2="603.33" stroke="#888" stroke-width="0.8" /><line x1="153.7" y1="592.45" x2="158.2" y2="592.45" stroke="#888" stroke-width="0.8" /><line x1="155.7" y1="581.58" x2="158.2" y2="581.58" stroke="#888" stroke-width="0.8" /><line x1="153.7" y1="570.7" x2="158.2" y2="570.7" stroke="#888" stroke-width="0.8" /><line x1="155.7" y1="559.83" x2="158.2" y2="559.83" stroke="#888" stroke-width="0.8" /><line x1="153.7" y1="548.95" x2="158.2" y2="548.95" stroke="#888" stroke-width="0.8" /><line x1="155.7" y1="538.08" x2="158.2" y2="538.08" stroke="#888" stroke-width="0.8" /><line x1="153.7" y1="527.2" x2="158.2" y2="527.2" stroke="#888" stroke-width="0.8" /><line x1="155.7" y1="516.33" x2="158.2" y2="516.33" stroke="#888" stroke-width="0.8" /><line x1="153.7" y1="505.45" x2="158.2" y2="505.45" stroke="#888" stroke-width="0.8" /><line x1="155.7" y1="494.58" x2="158.2" y2="494.58" stroke="#888" stroke-width="0.8" /><line x1="153.7" y1="483.7" x2="158.2" y2="483.7" stroke="#888" stroke-width="0.8" /><text x="149.6" y="619.6" font-size="16.8" text-anchor="end" fill="#000" class="b">0.0</text><text x="149.6" y="597.85" font-size="16.8" text-anchor="end" fill="#000" class="b">0.1</text><text x="149.6" y="576.1" font-size="16.8" text-anchor="end" fill="#000" class="b">0.2</text><text x="149.6" y="554.35" font-size="16.8" text-anchor="end" fill="#000" class="b">0.3</text><text x="149.6" y="532.6" font-size="16.8" text-anchor="end" fill="#000" class="b">0.4</text><text x="149.6" y="510.85" font-size="16.8" text-anchor="end" fill="#000" class="b">0.5</text><text x="149.6" y="489.1" font-size="16.8" text-anchor="end" fill="#000" class="b">0.6</text><text x="117.3" y="545.7" font-size="16.5" class="b" text-anchor="middle" transform="rotate(-90 117.3 545.7)">BRDF[1/sr]</text><path d="M302.62,614.2A10.88,10.88 0 0 1 324.38,614.2M280.88,614.2A32.62,32.62 0 0 1 346.12,614.2M259.12,614.2A54.38,54.38 0 0 1 367.88,614.2M237.38,614.2A76.12,76.12 0 0 1 389.62,614.2M215.62,614.2A97.88,97.88 0 0 1 411.38,614.2M193.88,614.2A119.62,119.62 0 0 1 433.12,614.2M313.5,614.2L439.55,580.42M313.5,614.2L405.78,521.92M313.5,614.2L347.28,488.15M313.5,614.2L279.72,488.15M313.5,614.2L221.22,521.92M313.5,614.2L187.45,580.42" fill="none" stroke="#c8c8c8" stroke-width="0.7" stroke-dasharray="1.2 1.6"/><path d="M291.75,614.2A21.75,21.75 0 0 1 335.25,614.2M270,614.2A43.5,43.5 0 0 1 357,614.2M248.25,614.2A65.25,65.25 0 0 1 378.75,614.2M226.5,614.2A87,87 0 0 1 400.5,614.2M204.75,614.2A108.75,108.75 0 0 1 422.25,614.2M313.5,614.2L426.52,548.95M313.5,614.2L378.75,501.18M313.5,614.2L313.5,483.7M313.5,614.2L248.25,501.18M313.5,614.2L200.48,548.95" fill="none" stroke="#8a8a8a" stroke-width="0.75" /><path d="M444,614.2L440,614.2M442.02,591.54L439.56,591.97M436.13,569.57L433.78,570.42M426.52,548.95L423.05,550.95M413.47,530.32L411.55,531.92M397.38,514.23L395.78,516.15M378.75,501.18L376.75,504.65M358.13,491.57L357.28,493.92M336.16,485.68L335.73,488.14M313.5,483.7L313.5,487.7M290.84,485.68L291.27,488.14M268.87,491.57L269.72,493.92M248.25,501.18L250.25,504.65M229.62,514.23L231.22,516.15M213.53,530.32L215.45,531.92M200.48,548.95L203.95,550.95M190.87,569.57L193.22,570.42M184.98,591.54L187.44,591.97M183,614.2L187,614.2" fill="none" stroke="#777" stroke-width="0.7" /><path d="M183,614.2A130.5,130.5 0 0 1 444,614.2" fill="none" stroke="#444" stroke-width="0.9" /><line x1="183" y1="614.2" x2="444" y2="614.2" stroke="#999" stroke-width="0.9" /><text x="313.5" y="475.4" font-size="16.8" text-anchor="middle" fill="#000" class="b">0</text><text x="236.5" y="492.8" font-size="16.8" text-anchor="middle" fill="#000" class="b">30</text><text x="392.8" y="493.6" font-size="16.8" text-anchor="middle" fill="#000" class="b">-30</text><text x="186.9" y="542.8" font-size="16.8" text-anchor="middle" fill="#000" class="b">60</text><text x="442.5" y="542.8" font-size="16.8" text-anchor="middle" fill="#000" class="b">-60</text><text x="169.1" y="620.2" font-size="16.8" text-anchor="middle" fill="#000" class="b">90</text><text x="461.9" y="620.2" font-size="16.8" text-anchor="middle" fill="#000" class="b">-90</text></g><rect x="62" y="495.7" width="383.8" height="175.6" fill="#fff" stroke="#000" stroke-width="2.8" rx="1.2"/><g clip-path="url(#cliplfront)"><line x1="123" y1="524.3" x2="123" y2="655.3" stroke="#888" stroke-width="0.9" /><line x1="118.5" y1="655.3" x2="123" y2="655.3" stroke="#888" stroke-width="0.8" /><line x1="120.5" y1="644.42" x2="123" y2="644.42" stroke="#888" stroke-width="0.8" /><line x1="118.5" y1="633.55" x2="123" y2="633.55" stroke="#888" stroke-width="0.8" /><line x1="120.5" y1="622.67" x2="123" y2="622.67" stroke="#888" stroke-width="0.8" /><line x1="118.5" y1="611.8" x2="123" y2="611.8" stroke="#888" stroke-width="0.8" /><line x1="120.5" y1="600.92" x2="123" y2="600.92" stroke="#888" stroke-width="0.8" /><line x1="118.5" y1="590.05" x2="123" y2="590.05" stroke="#888" stroke-width="0.8" /><line x1="120.5" y1="579.17" x2="123" y2="579.17" stroke="#888" stroke-width="0.8" /><line x1="118.5" y1="568.3" x2="123" y2="568.3" stroke="#888" stroke-width="0.8" /><line x1="120.5" y1="557.42" x2="123" y2="557.42" stroke="#888" stroke-width="0.8" /><line x1="118.5" y1="546.55" x2="123" y2="546.55" stroke="#888" stroke-width="0.8" /><line x1="120.5" y1="535.67" x2="123" y2="535.67" stroke="#888" stroke-width="0.8" /><line x1="118.5" y1="524.8" x2="123" y2="524.8" stroke="#888" stroke-width="0.8" /><text x="114.4" y="660.7" font-size="16.8" text-anchor="end" fill="#000" class="b">0.0</text><text x="114.4" y="638.95" font-size="16.8" text-anchor="end" fill="#000" class="b">0.1</text><text x="114.4" y="617.2" font-size="16.8" text-anchor="end" fill="#000" class="b">0.2</text><text x="114.4" y="595.45" font-size="16.8" text-anchor="end" fill="#000" class="b">0.3</text><text x="114.4" y="573.7" font-size="16.8" text-anchor="end" fill="#000" class="b">0.4</text><text x="114.4" y="551.95" font-size="16.8" text-anchor="end" fill="#000" class="b">0.5</text><text x="114.4" y="530.2" font-size="16.8" text-anchor="end" fill="#000" class="b">0.6</text><text x="83.4" y="586.8" font-size="16.5" class="b" text-anchor="middle" transform="rotate(-90 83.4 586.8)">BRDF[1/sr]</text><path d="M268.73,655.3A10.88,10.88 0 0 1 290.48,655.3M246.98,655.3A32.62,32.62 0 0 1 312.23,655.3M225.23,655.3A54.38,54.38 0 0 1 333.98,655.3M203.48,655.3A76.12,76.12 0 0 1 355.73,655.3M181.73,655.3A97.88,97.88 0 0 1 377.48,655.3M159.98,655.3A119.62,119.62 0 0 1 399.23,655.3M279.6,655.3L405.65,621.52M279.6,655.3L371.88,563.02M279.6,655.3L313.38,529.25M279.6,655.3L245.82,529.25M279.6,655.3L187.32,563.02M279.6,655.3L153.55,621.52" fill="none" stroke="#c8c8c8" stroke-width="0.7" stroke-dasharray="1.2 1.6"/><path d="M257.85,655.3A21.75,21.75 0 0 1 301.35,655.3M236.1,655.3A43.5,43.5 0 0 1 323.1,655.3M214.35,655.3A65.25,65.25 0 0 1 344.85,655.3M192.6,655.3A87,87 0 0 1 366.6,655.3M170.85,655.3A108.75,108.75 0 0 1 388.35,655.3M279.6,655.3L392.62,590.05M279.6,655.3L344.85,542.28M279.6,655.3L279.6,524.8M279.6,655.3L214.35,542.28M279.6,655.3L166.58,590.05" fill="none" stroke="#8a8a8a" stroke-width="0.75" /><path d="M410.1,655.3L406.1,655.3M408.12,632.64L405.66,633.07M402.23,610.67L399.88,611.52M392.62,590.05L389.15,592.05M379.57,571.42L377.65,573.02M363.48,555.33L361.88,557.25M344.85,542.28L342.85,545.75M324.23,532.67L323.38,535.02M302.26,526.78L301.83,529.24M279.6,524.8L279.6,528.8M256.94,526.78L257.37,529.24M234.97,532.67L235.82,535.02M214.35,542.28L216.35,545.75M195.72,555.33L197.32,557.25M179.63,571.42L181.55,573.02M166.58,590.05L170.05,592.05M156.97,610.67L159.32,611.52M151.08,632.64L153.54,633.07M149.1,655.3L153.1,655.3" fill="none" stroke="#777" stroke-width="0.7" /><path d="M149.1,655.3A130.5,130.5 0 0 1 410.1,655.3" fill="none" stroke="#444" stroke-width="0.9" /><line x1="149.1" y1="655.3" x2="410.1" y2="655.3" stroke="#999" stroke-width="0.9" /><text x="279.6" y="516.5" font-size="16.8" text-anchor="middle" fill="#000" class="b">0</text><text x="201.6" y="533.9" font-size="16.8" text-anchor="middle" fill="#000" class="b">30</text><text x="358.9" y="534.7" font-size="16.8" text-anchor="middle" fill="#000" class="b">-30</text><text x="152" y="583.9" font-size="16.8" text-anchor="middle" fill="#000" class="b">60</text><text x="408.6" y="583.9" font-size="16.8" text-anchor="middle" fill="#000" class="b">-60</text><text x="134.2" y="661.3" font-size="16.8" text-anchor="middle" fill="#000" class="b">90</text><text x="428" y="661.3" font-size="16.8" text-anchor="middle" fill="#000" class="b">-90</text><path d="M279.3,655.3L277.9,635.7L276.8,619.3L276.2,608.4L275.9,607.8L275.4,605.1L274.3,601L273.8,602L273.4,612.9L273.5,623.8L274.9,645.7L276.2,655.3L280.1,655.3L281.7,640.2L283.3,623.7L284.7,607.3L285.5,600.5L286,605.3L286.6,612.8L286.3,623.8L284.4,640.2L282.2,655.3Z" fill="none" stroke="#e8000b" stroke-width="1.55" stroke-linejoin="round"/></g><rect x="563.3" y="128.7" width="411.4" height="314.9" fill="#fff" stroke="#000" stroke-width="3" rx="1.2"/><g><line x1="622.3" y1="138.58" x2="622.3" y2="386.6" stroke="#333" stroke-width="1.1" /><line x1="622.3" y1="386.6" x2="929.34" y2="386.6" stroke="#333" stroke-width="1.1" /><line x1="617.8" y1="379.4" x2="622.3" y2="379.4" stroke="#333" stroke-width="1" /><line x1="619.8" y1="364.38" x2="622.3" y2="364.38" stroke="#333" stroke-width="1" /><line x1="617.8" y1="349.36" x2="622.3" y2="349.36" stroke="#333" stroke-width="1" /><line x1="619.8" y1="334.34" x2="622.3" y2="334.34" stroke="#333" stroke-width="1" /><line x1="617.8" y1="319.32" x2="622.3" y2="319.32" stroke="#333" stroke-width="1" /><line x1="619.8" y1="304.3" x2="622.3" y2="304.3" stroke="#333" stroke-width="1" /><line x1="617.8" y1="289.28" x2="622.3" y2="289.28" stroke="#333" stroke-width="1" /><line x1="619.8" y1="274.26" x2="622.3" y2="274.26" stroke="#333" stroke-width="1" /><line x1="617.8" y1="259.24" x2="622.3" y2="259.24" stroke="#333" stroke-width="1" /><line x1="619.8" y1="244.22" x2="622.3" y2="244.22" stroke="#333" stroke-width="1" /><line x1="617.8" y1="229.2" x2="622.3" y2="229.2" stroke="#333" stroke-width="1" /><line x1="619.8" y1="214.18" x2="622.3" y2="214.18" stroke="#333" stroke-width="1" /><line x1="617.8" y1="199.16" x2="622.3" y2="199.16" stroke="#333" stroke-width="1" /><line x1="619.8" y1="184.14" x2="622.3" y2="184.14" stroke="#333" stroke-width="1" /><line x1="617.8" y1="169.12" x2="622.3" y2="169.12" stroke="#333" stroke-width="1" /><line x1="619.8" y1="154.1" x2="622.3" y2="154.1" stroke="#333" stroke-width="1" /><line x1="617.8" y1="139.08" x2="622.3" y2="139.08" stroke="#333" stroke-width="1" /><text x="614.9" y="384.6" font-size="16" text-anchor="end" fill="#000" class="b">0.0</text><text x="614.9" y="354.56" font-size="16" text-anchor="end" fill="#000" class="b">0.2</text><text x="614.9" y="324.52" font-size="16" text-anchor="end" fill="#000" class="b">0.4</text><text x="614.9" y="294.48" font-size="16" text-anchor="end" fill="#000" class="b">0.6</text><text x="614.9" y="264.44" font-size="16" text-anchor="end" fill="#000" class="b">0.8</text><text x="614.9" y="234.4" font-size="16" text-anchor="end" fill="#000" class="b">1.0</text><text x="614.9" y="204.36" font-size="16" text-anchor="end" fill="#000" class="b">1.2</text><text x="614.9" y="174.32" font-size="16" text-anchor="end" fill="#000" class="b">1.4</text><text x="614.9" y="144.28" font-size="16" text-anchor="end" fill="#000" class="b">1.6</text><line x1="623.08" y1="386.6" x2="623.08" y2="391.1" stroke="#333" stroke-width="1" /><line x1="648.56" y1="386.6" x2="648.56" y2="389.1" stroke="#333" stroke-width="1" /><line x1="674.04" y1="386.6" x2="674.04" y2="389.1" stroke="#333" stroke-width="1" /><line x1="699.52" y1="386.6" x2="699.52" y2="391.1" stroke="#333" stroke-width="1" /><line x1="725" y1="386.6" x2="725" y2="389.1" stroke="#333" stroke-width="1" /><line x1="750.48" y1="386.6" x2="750.48" y2="389.1" stroke="#333" stroke-width="1" /><line x1="775.96" y1="386.6" x2="775.96" y2="391.1" stroke="#333" stroke-width="1" /><line x1="801.44" y1="386.6" x2="801.44" y2="389.1" stroke="#333" stroke-width="1" /><line x1="826.92" y1="386.6" x2="826.92" y2="389.1" stroke="#333" stroke-width="1" /><line x1="852.4" y1="386.6" x2="852.4" y2="391.1" stroke="#333" stroke-width="1" /><line x1="877.88" y1="386.6" x2="877.88" y2="389.1" stroke="#333" stroke-width="1" /><line x1="903.36" y1="386.6" x2="903.36" y2="389.1" stroke="#333" stroke-width="1" /><line x1="928.84" y1="386.6" x2="928.84" y2="391.1" stroke="#333" stroke-width="1" /><text x="623.08" y="409.8" font-size="16.3" text-anchor="middle" fill="#000" class="b">-90</text><text x="699.52" y="409.8" font-size="16.3" text-anchor="middle" fill="#000" class="b">-60</text><text x="775.96" y="409.8" font-size="16.3" text-anchor="middle" fill="#000" class="b">-30</text><text x="852.4" y="409.8" font-size="16.3" text-anchor="middle" fill="#000" class="b">0</text><text x="928.84" y="409.8" font-size="16.3" text-anchor="middle" fill="#000" class="b">30</text><text x="580.2" y="258" font-size="16.5" class="b" text-anchor="middle" transform="rotate(-90 580.2 258)">BRDF[1/sr]</text><text x="763" y="441.5" font-size="17" font-family="'Liberation Serif', serif">φ[<tspan font-size="11" dy="-6">o</tspan><tspan dy="6">]</tspan></text><g clip-path="url(#plotclip)"><path d="M0,0m641.7,359.7l3.6,3.6m0,-3.6l-3.6,3.6m1.4,-4.7l3.6,3.6m0,-3.6l-3.6,3.6m1.4,-4.7l3.6,3.6m0,-3.6l-3.6,3.6m1.4,-4.6l3.6,3.6m0,-3.6l-3.6,3.6m1.4,-4.6l3.6,3.6m0,-3.6l-3.6,3.6m1.4,-5.1l3.6,3.6m0,-3.6l-3.6,3.6m1.4,-5.0l3.6,3.6m0,-3.6l-3.6,3.6m1.4,-4.8l3.6,3.6m0,-3.6l-3.6,3.6m1.4,-5.0l3.6,3.6m0,-3.6l-3.6,3.6m1.4,-5.0l3.6,3.6m0,-3.6l-3.6,3.6m1.4,-5.0l3.6,3.6m0,-3.6l-3.6,3.6m1.4,-5.5l3.6,3.6m0,-3.6l-3.6,3.6m1.4,-5.4l3.6,3.6m0,-3.6l-3.6,3.6m1.4,-5.0l3.6,3.6m0,-3.6l-3.6,3.6m1.4,-5.9l3.6,3.6m0,-3.6l-3.6,3.6m1.4,-4.9l3.6,3.6m0,-3.6l-3.6,3.6m1.4,-5.5l3.6,3.6m0,-3.6l-3.6,3.6m1.4,-5.2l3.6,3.6m0,-3.6l-3.6,3.6m1.4,-6.3l3.6,3.6m0,-3.6l-3.6,3.6m1.4,-5.3l3.6,3.6m0,-3.6l-3.6,3.6m1.4,-5.6l3.6,3.6m0,-3.6l-3.6,3.6m1.4,-5.3l3.6,3.6m0,-3.6l-3.6,3.6m1.4,-4.9l3.6,3.6m0,-3.6l-3.6,3.6m1.4,-5.9l3.6,3.6m0,-3.6l-3.6,3.6m1.4,-5.7l3.6,3.6m0,-3.6l-3.6,3.6m1.4,-5.2l3.6,3.6m0,-3.6l-3.6,3.6m1.4,-6.6l3.6,3.6m0,-3.6l-3.6,3.6m1.4,-5.0l3.6,3.6m0,-3.6l-3.6,3.6m1.4,-5.5l3.6,3.6m0,-3.6l-3.6,3.6m1.4,-6.8l3.6,3.6m0,-3.6l-3.6,3.6m1.4,-5.1l3.6,3.6m0,-3.6l-3.6,3.6m1.4,-7.3l3.6,3.6m0,-3.6l-3.6,3.6m1.4,-5.6l3.6,3.6m0,-3.6l-3.6,3.6m1.4,-6.8l3.6,3.6m0,-3.6l-3.6,3.6m1.4,-6.4l3.6,3.6m0,-3.6l-3.6,3.6m1.4,-7.4l3.6,3.6m0,-3.6l-3.6,3.6m1.5,-6.9l3.6,3.6m0,-3.6l-3.6,3.6m1.4,-7.5l3.6,3.6m0,-3.6l-3.6,3.6m1.4,-9.7l3.6,3.6m0,-3.6l-3.6,3.6m1.4,-7.4l3.6,3.6m0,-3.6l-3.6,3.6m1.4,-10.3l3.6,3.6m0,-3.6l-3.6,3.6m1.4,-8.3l3.6,3.6m0,-3.6l-3.6,3.6m1.4,-11.9l3.6,3.6m0,-3.6l-3.6,3.6m1.4,-10.6l3.6,3.6m0,-3.6l-3.6,3.6m1.4,-10.8l3.6,3.6m0,-3.6l-3.6,3.6m1.4,-11.7l3.6,3.6m0,-3.6l-3.6,3.6m1.4,-11.5l3.6,3.6m0,-3.6l-3.6,3.6m1.4,-12.8l3.6,3.6m0,-3.6l-3.6,3.6m1.4,-10.4l3.6,3.6m0,-3.6l-3.6,3.6m1.4,-13.5l3.6,3.6m0,-3.6l-3.6,3.6m1.4,-13.3l3.6,3.6m0,-3.6l-3.6,3.6m1.4,-9.0l3.6,3.6m0,-3.6l-3.6,3.6m1.4,-13.2l3.6,3.6m0,-3.6l-3.6,3.6m1.4,-9.1l3.6,3.6m0,-3.6l-3.6,3.6m1.4,-5.7l3.6,3.6m0,-3.6l-3.6,3.6m1.4,-5.7l3.6,3.6m0,-3.6l-3.6,3.6m1.4,-2.7l3.6,3.6m0,-3.6l-3.6,3.6m1.4,-1.9l3.6,3.6m0,-3.6l-3.6,3.6m1.4,-2.6l3.6,3.6m0,-3.6l-3.6,3.6m1.4,4.2l3.6,3.6m0,-3.6l-3.6,3.6m1.4,4.8l3.6,3.6m0,-3.6l-3.6,3.6m1.4,4.3l3.6,3.6m0,-3.6l-3.6,3.6m1.4,3.4l3.6,3.6m0,-3.6l-3.6,3.6m1.4,5.5l3.6,3.6m0,-3.6l-3.6,3.6m1.4,8.3l3.6,3.6m0,-3.6l-3.6,3.6m1.4,6.8l3.6,3.6m0,-3.6l-3.6,3.6m1.4,6.5l3.6,3.6m0,-3.6l-3.6,3.6m1.4,5.9l3.6,3.6m0,-3.6l-3.6,3.6m1.4,7.2l3.6,3.6m0,-3.6l-3.6,3.6m1.4,4.7l3.6,3.6m0,-3.6l-3.6,3.6m1.4,5.1l3.6,3.6m0,-3.6l-3.6,3.6m1.4,4.4l3.6,3.6m0,-3.6l-3.6,3.6m1.4,4.6l3.6,3.6m0,-3.6l-3.6,3.6m1.4,3.3l3.6,3.6m0,-3.6l-3.6,3.6m1.4,2.5l3.6,3.6m0,-3.6l-3.6,3.6m1.4,1.6l3.6,3.6m0,-3.6l-3.6,3.6m1.4,2.5l3.6,3.6m0,-3.6l-3.6,3.6m1.4,1.2l3.6,3.6m0,-3.6l-3.6,3.6m1.4,1.2l3.6,3.6m0,-3.6l-3.6,3.6m1.4,0.8l3.6,3.6m0,-3.6l-3.6,3.6m1.4,0.2l3.6,3.6m0,-3.6l-3.6,3.6m1.4,-0.7l3.6,3.6m0,-3.6l-3.6,3.6m1.4,-0.4l3.6,3.6m0,-3.6l-3.6,3.6m1.4,-0.4l3.6,3.6m0,-3.6l-3.6,3.6m1.4,-1.1l3.6,3.6m0,-3.6l-3.6,3.6m1.4,-1.1l3.6,3.6m0,-3.6l-3.6,3.6m1.4,-1.5l3.6,3.6m0,-3.6l-3.6,3.6m1.4,-1.6l3.6,3.6m0,-3.6l-3.6,3.6m1.4,-1.5l3.6,3.6m0,-3.6l-3.6,3.6m1.4,-2.1l3.6,3.6m0,-3.6l-3.6,3.6m1.4,-2.0l3.6,3.6m0,-3.6l-3.6,3.6m1.4,-2.1l3.6,3.6m0,-3.6l-3.6,3.6m1.4,-2.4l3.6,3.6m0,-3.6l-3.6,3.6m1.4,-2.3l3.6,3.6m0,-3.6l-3.6,3.6m1.4,-2.5l3.6,3.6m0,-3.6l-3.6,3.6m1.4,-2.6l3.6,3.6m0,-3.6l-3.6,3.6m1.4,-2.9l3.6,3.6m0,-3.6l-3.6,3.6m1.4,-2.6l3.6,3.6m0,-3.6l-3.6,3.6m1.4,-2.9l3.6,3.6m0,-3.6l-3.6,3.6m1.4,-3.0l3.6,3.6m0,-3.6l-3.6,3.6m1.4,-3.0l3.6,3.6m0,-3.6l-3.6,3.6m1.4,-3.0l3.6,3.6m0,-3.6l-3.6,3.6m1.4,-3.1l3.6,3.6m0,-3.6l-3.6,3.6m1.4,-3.1l3.6,3.6m0,-3.6l-3.6,3.6m1.4,-3.2l3.6,3.6m0,-3.6l-3.6,3.6m1.4,-3.2l3.6,3.6m0,-3.6l-3.6,3.6m1.4,-3.3l3.6,3.6m0,-3.6l-3.6,3.6m1.4,-3.3l3.6,3.6m0,-3.6l-3.6,3.6m1.5,-3.3l3.6,3.6m0,-3.6l-3.6,3.6m1.4,-3.3l3.6,3.6m0,-3.6l-3.6,3.6m1.4,-3.4l3.6,3.6m0,-3.6l-3.6,3.6m1.4,-3.4l3.6,3.6m0,-3.6l-3.6,3.6m1.4,-3.4l3.6,3.6m0,-3.6l-3.6,3.6m1.4,-3.5l3.6,3.6m0,-3.6l-3.6,3.6m1.4,-3.4l3.6,3.6m0,-3.6l-3.6,3.6m1.4,-3.5l3.6,3.6m0,-3.6l-3.6,3.6m1.4,-3.4l3.6,3.6m0,-3.6l-3.6,3.6m1.4,-3.5l3.6,3.6m0,-3.6l-3.6,3.6m1.4,-3.5l3.6,3.6m0,-3.6l-3.6,3.6m1.4,-3.5l3.6,3.6m0,-3.6l-3.6,3.6m1.4,-3.6l3.6,3.6m0,-3.6l-3.6,3.6m1.4,-3.5l3.6,3.6m0,-3.6l-3.6,3.6m1.4,-3.5l3.6,3.6m0,-3.6l-3.6,3.6m1.4,-3.6l3.6,3.6m0,-3.6l-3.6,3.6m1.4,-3.5l3.6,3.6m0,-3.6l-3.6,3.6m-173.8,-11.4l3.6,3.6m0,-3.6l-3.6,3.6m1.4,-3.9l3.6,3.6m0,-3.6l-3.6,3.6m1.4,-3.9l3.6,3.6m0,-3.6l-3.6,3.6m1.4,-4.0l3.6,3.6m0,-3.6l-3.6,3.6m1.4,-4.0l3.6,3.6m0,-3.6l-3.6,3.6m1.4,-4.2l3.6,3.6m0,-3.6l-3.6,3.6m1.4,-3.9l3.6,3.6m0,-3.6l-3.6,3.6m1.4,-4.3l3.6,3.6m0,-3.6l-3.6,3.6m1.4,-4.3l3.6,3.6m0,-3.6l-3.6,3.6m1.4,-3.9l3.6,3.6m0,-3.6l-3.6,3.6m1.4,-4.5l3.6,3.6m0,-3.6l-3.6,3.6m1.4,-4.3l3.6,3.6m0,-3.6l-3.6,3.6m1.4,-4.5l3.6,3.6m0,-3.6l-3.6,3.6m1.4,-4.3l3.6,3.6m0,-3.6l-3.6,3.6m1.4,-4.4l3.6,3.6m0,-3.6l-3.6,3.6m1.4,-4.6l3.6,3.6m0,-3.6l-3.6,3.6m1.4,-4.8l3.6,3.6m0,-3.6l-3.6,3.6m1.4,-4.6l3.6,3.6m0,-3.6l-3.6,3.6m1.4,-4.4l3.6,3.6m0,-3.6l-3.6,3.6m1.4,-4.7l3.6,3.6m0,-3.6l-3.6,3.6m1.4,-4.8l3.6,3.6m0,-3.6l-3.6,3.6m1.4,-4.8l3.6,3.6m0,-3.6l-3.6,3.6m1.4,-5.0l3.6,3.6m0,-3.6l-3.6,3.6m1.4,-4.7l3.6,3.6m0,-3.6l-3.6,3.6m1.4,-5.3l3.6,3.6m0,-3.6l-3.6,3.6m1.4,-4.9l3.6,3.6m0,-3.6l-3.6,3.6m1.4,-4.6l3.6,3.6m0,-3.6l-3.6,3.6m1.4,-5.2l3.6,3.6m0,-3.6l-3.6,3.6m1.4,-4.8l3.6,3.6m0,-3.6l-3.6,3.6m1.4,-5.1l3.6,3.6m0,-3.6l-3.6,3.6m1.4,-4.8l3.6,3.6m0,-3.6l-3.6,3.6m1.4,-5.0l3.6,3.6m0,-3.6l-3.6,3.6m1.4,-5.0l3.6,3.6m0,-3.6l-3.6,3.6m1.4,-5.1l3.6,3.6m0,-3.6l-3.6,3.6m1.4,-5.4l3.6,3.6m0,-3.6l-3.6,3.6m1.4,-4.9l3.6,3.6m0,-3.6l-3.6,3.6m1.5,-4.7l3.6,3.6m0,-3.6l-3.6,3.6m1.4,-5.8l3.6,3.6m0,-3.6l-3.6,3.6m1.4,-5.4l3.6,3.6m0,-3.6l-3.6,3.6m1.4,-5.2l3.6,3.6m0,-3.6l-3.6,3.6m1.4,-5.5l3.6,3.6m0,-3.6l-3.6,3.6m1.4,-4.7l3.6,3.6m0,-3.6l-3.6,3.6m1.4,-6.2l3.6,3.6m0,-3.6l-3.6,3.6m1.4,-5.5l3.6,3.6m0,-3.6l-3.6,3.6m1.4,-6.9l3.6,3.6m0,-3.6l-3.6,3.6m1.4,-5.6l3.6,3.6m0,-3.6l-3.6,3.6m1.4,-7.3l3.6,3.6m0,-3.6l-3.6,3.6m1.4,-6.2l3.6,3.6m0,-3.6l-3.6,3.6m1.4,-7.8l3.6,3.6m0,-3.6l-3.6,3.6m1.4,-7.0l3.6,3.6m0,-3.6l-3.6,3.6m1.4,-7.4l3.6,3.6m0,-3.6l-3.6,3.6m1.4,-8.8l3.6,3.6m0,-3.6l-3.6,3.6m1.4,-8.5l3.6,3.6m0,-3.6l-3.6,3.6m1.4,-10.1l3.6,3.6m0,-3.6l-3.6,3.6m1.4,-8.2l3.6,3.6m0,-3.6l-3.6,3.6m1.4,-10.0l3.6,3.6m0,-3.6l-3.6,3.6m1.4,-10.0l3.6,3.6m0,-3.6l-3.6,3.6m1.4,-11.0l3.6,3.6m0,-3.6l-3.6,3.6m1.4,-7.9l3.6,3.6m0,-3.6l-3.6,3.6m1.4,-11.1l3.6,3.6m0,-3.6l-3.6,3.6m1.4,-9.1l3.6,3.6m0,-3.6l-3.6,3.6m1.4,-9.5l3.6,3.6m0,-3.6l-3.6,3.6m1.4,-8.6l3.6,3.6m0,-3.6l-3.6,3.6m1.4,-4.9l3.6,3.6m0,-3.6l-3.6,3.6m1.4,-6.9l3.6,3.6m0,-3.6l-3.6,3.6m1.4,-3.7l3.6,3.6m0,-3.6l-3.6,3.6m1.4,-1.8l3.6,3.6m0,-3.6l-3.6,3.6m1.4,0.1l3.6,3.6m0,-3.6l-3.6,3.6m1.4,-2.3l3.6,3.6m0,-3.6l-3.6,3.6m1.4,0.8l3.6,3.6m0,-3.6l-3.6,3.6m1.4,3.9l3.6,3.6m0,-3.6l-3.6,3.6m1.4,3.1l3.6,3.6m0,-3.6l-3.6,3.6m1.4,1.8l3.6,3.6m0,-3.6l-3.6,3.6m1.4,6.0l3.6,3.6m0,-3.6l-3.6,3.6m1.4,3.9l3.6,3.6m0,-3.6l-3.6,3.6m1.4,3.9l3.6,3.6m0,-3.6l-3.6,3.6m1.4,2.3l3.6,3.6m0,-3.6l-3.6,3.6m1.4,3.6l3.6,3.6m0,-3.6l-3.6,3.6m1.4,3.7l3.6,3.6m0,-3.6l-3.6,3.6m1.4,2.5l3.6,3.6m0,-3.6l-3.6,3.6m1.4,3.2l3.6,3.6m0,-3.6l-3.6,3.6m1.4,1.1l3.6,3.6m0,-3.6l-3.6,3.6m1.4,1.8l3.6,3.6m0,-3.6l-3.6,3.6m1.4,1.1l3.6,3.6m0,-3.6l-3.6,3.6m1.4,1.0l3.6,3.6m0,-3.6l-3.6,3.6m1.4,0.4l3.6,3.6m0,-3.6l-3.6,3.6m1.4,0.2l3.6,3.6m0,-3.6l-3.6,3.6m1.4,-0.0l3.6,3.6m0,-3.6l-3.6,3.6m1.4,-0.8l3.6,3.6m0,-3.6l-3.6,3.6m1.4,-0.6l3.6,3.6m0,-3.6l-3.6,3.6m1.4,-1.3l3.6,3.6m0,-3.6l-3.6,3.6m1.4,-1.3l3.6,3.6m0,-3.6l-3.6,3.6m1.4,-1.3l3.6,3.6m0,-3.6l-3.6,3.6m1.4,-1.5l3.6,3.6m0,-3.6l-3.6,3.6m1.4,-1.7l3.6,3.6m0,-3.6l-3.6,3.6m1.4,-2.0l3.6,3.6m0,-3.6l-3.6,3.6m1.4,-2.1l3.6,3.6m0,-3.6l-3.6,3.6m1.4,-2.3l3.6,3.6m0,-3.6l-3.6,3.6m1.4,-2.4l3.6,3.6m0,-3.6l-3.6,3.6m1.4,-2.2l3.6,3.6m0,-3.6l-3.6,3.6m1.4,-2.7l3.6,3.6m0,-3.6l-3.6,3.6m1.4,-2.6l3.6,3.6m0,-3.6l-3.6,3.6m1.4,-2.8l3.6,3.6m0,-3.6l-3.6,3.6m1.4,-2.8l3.6,3.6m0,-3.6l-3.6,3.6m1.4,-2.8l3.6,3.6m0,-3.6l-3.6,3.6m1.4,-2.9l3.6,3.6m0,-3.6l-3.6,3.6m1.4,-3.1l3.6,3.6m0,-3.6l-3.6,3.6m1.4,-3.0l3.6,3.6m0,-3.6l-3.6,3.6m1.5,-3.1l3.6,3.6m0,-3.6l-3.6,3.6m1.4,-3.1l3.6,3.6m0,-3.6l-3.6,3.6m1.4,-3.2l3.6,3.6m0,-3.6l-3.6,3.6m1.4,-3.2l3.6,3.6m0,-3.6l-3.6,3.6m1.4,-3.3l3.6,3.6m0,-3.6l-3.6,3.6m1.4,-3.3l3.6,3.6m0,-3.6l-3.6,3.6m1.4,-3.3l3.6,3.6m0,-3.6l-3.6,3.6m1.4,-3.3l3.6,3.6m0,-3.6l-3.6,3.6m1.4,-3.4l3.6,3.6m0,-3.6l-3.6,3.6m1.4,-3.4l3.6,3.6m0,-3.6l-3.6,3.6m1.4,-3.4l3.6,3.6m0,-3.6l-3.6,3.6m1.4,-3.4l3.6,3.6m0,-3.6l-3.6,3.6m1.4,-3.5l3.6,3.6m0,-3.6l-3.6,3.6m1.4,-3.4l3.6,3.6m0,-3.6l-3.6,3.6m1.4,-3.5l3.6,3.6m0,-3.6l-3.6,3.6m1.4,-3.5l3.6,3.6m0,-3.6l-3.6,3.6m1.4,-3.5l3.6,3.6m0,-3.6l-3.6,3.6m1.4,-3.5l3.6,3.6m0,-3.6l-3.6,3.6m1.4,-3.5l3.6,3.6m0,-3.6l-3.6,3.6m1.4,-3.5l3.6,3.6m0,-3.6l-3.6,3.6m1.4,-3.6l3.6,3.6m0,-3.6l-3.6,3.6m1.4,-3.5l3.6,3.6m0,-3.6l-3.6,3.6m1.4,-3.6l3.6,3.6m0,-3.6l-3.6,3.6m1.4,-3.5l3.6,3.6m0,-3.6l-3.6,3.6m1.4,-3.5l3.6,3.6m0,-3.6l-3.6,3.6m1.4,-3.6l3.6,3.6m0,-3.6l-3.6,3.6m1.4,-3.6l3.6,3.6m0,-3.6l-3.6,3.6m1.4,-3.5l3.6,3.6m0,-3.6l-3.6,3.6m1.4,-3.6l3.6,3.6m0,-3.6l-3.6,3.6m1.4,-3.6l3.6,3.6m0,-3.6l-3.6,3.6m-192.0,-8.2l3.6,3.6m0,-3.6l-3.6,3.6m1.4,-3.7l3.6,3.6m0,-3.6l-3.6,3.6m1.4,-3.8l3.6,3.6m0,-3.6l-3.6,3.6m1.4,-3.7l3.6,3.6m0,-3.6l-3.6,3.6m1.4,-3.8l3.6,3.6m0,-3.6l-3.6,3.6m1.4,-3.7l3.6,3.6m0,-3.6l-3.6,3.6m1.4,-3.9l3.6,3.6m0,-3.6l-3.6,3.6m1.4,-3.7l3.6,3.6m0,-3.6l-3.6,3.6m1.4,-3.9l3.6,3.6m0,-3.6l-3.6,3.6m1.4,-3.9l3.6,3.6m0,-3.6l-3.6,3.6m1.4,-3.8l3.6,3.6m0,-3.6l-3.6,3.6m1.4,-3.9l3.6,3.6m0,-3.6l-3.6,3.6m1.4,-3.9l3.6,3.6m0,-3.6l-3.6,3.6m1.4,-3.9l3.6,3.6m0,-3.6l-3.6,3.6m1.4,-3.9l3.6,3.6m0,-3.6l-3.6,3.6m1.4,-4.0l3.6,3.6m0,-3.6l-3.6,3.6m1.4,-4.0l3.6,3.6m0,-3.6l-3.6,3.6m1.4,-4.1l3.6,3.6m0,-3.6l-3.6,3.6m1.4,-4.2l3.6,3.6m0,-3.6l-3.6,3.6m1.4,-4.0l3.6,3.6m0,-3.6l-3.6,3.6m1.4,-4.3l3.6,3.6m0,-3.6l-3.6,3.6m1.4,-4.2l3.6,3.6m0,-3.6l-3.6,3.6m1.4,-4.2l3.6,3.6m0,-3.6l-3.6,3.6m1.4,-4.2l3.6,3.6m0,-3.6l-3.6,3.6m1.4,-4.4l3.6,3.6m0,-3.6l-3.6,3.6m1.4,-4.3l3.6,3.6m0,-3.6l-3.6,3.6m1.4,-4.5l3.6,3.6m0,-3.6l-3.6,3.6m1.4,-4.5l3.6,3.6m0,-3.6l-3.6,3.6m1.4,-4.4l3.6,3.6m0,-3.6l-3.6,3.6m1.4,-4.4l3.6,3.6m0,-3.6l-3.6,3.6m1.4,-4.7l3.6,3.6m0,-3.6l-3.6,3.6m1.4,-4.4l3.6,3.6m0,-3.6l-3.6,3.6m1.4,-4.7l3.6,3.6m0,-3.6l-3.6,3.6m1.4,-4.7l3.6,3.6m0,-3.6l-3.6,3.6m1.4,-4.9l3.6,3.6m0,-3.6l-3.6,3.6m1.4,-4.4l3.6,3.6m0,-3.6l-3.6,3.6m1.5,-4.5l3.6,3.6m0,-3.6l-3.6,3.6m1.4,-5.0l3.6,3.6m0,-3.6l-3.6,3.6m1.4,-4.7l3.6,3.6m0,-3.6l-3.6,3.6m1.4,-4.5l3.6,3.6m0,-3.6l-3.6,3.6m1.4,-4.5l3.6,3.6m0,-3.6l-3.6,3.6m1.4,-4.7l3.6,3.6m0,-3.6l-3.6,3.6m1.4,-4.9l3.6,3.6m0,-3.6l-3.6,3.6m1.4,-4.8l3.6,3.6m0,-3.6l-3.6,3.6m1.4,-4.6l3.6,3.6m0,-3.6l-3.6,3.6m1.4,-5.2l3.6,3.6m0,-3.6l-3.6,3.6m1.4,-4.8l3.6,3.6m0,-3.6l-3.6,3.6m1.4,-5.0l3.6,3.6m0,-3.6l-3.6,3.6m1.4,-4.9l3.6,3.6m0,-3.6l-3.6,3.6m1.4,-4.3l3.6,3.6m0,-3.6l-3.6,3.6m1.4,-5.6l3.6,3.6m0,-3.6l-3.6,3.6m1.4,-4.9l3.6,3.6m0,-3.6l-3.6,3.6m1.4,-6.1l3.6,3.6m0,-3.6l-3.6,3.6m1.4,-5.4l3.6,3.6m0,-3.6l-3.6,3.6m1.4,-5.7l3.6,3.6m0,-3.6l-3.6,3.6m1.4,-5.4l3.6,3.6m0,-3.6l-3.6,3.6m1.4,-5.9l3.6,3.6m0,-3.6l-3.6,3.6m1.4,-7.3l3.6,3.6m0,-3.6l-3.6,3.6m1.4,-6.4l3.6,3.6m0,-3.6l-3.6,3.6m1.4,-7.0l3.6,3.6m0,-3.6l-3.6,3.6m1.4,-7.0l3.6,3.6m0,-3.6l-3.6,3.6m1.4,-8.0l3.6,3.6m0,-3.6l-3.6,3.6m1.4,-7.1l3.6,3.6m0,-3.6l-3.6,3.6m1.4,-8.0l3.6,3.6m0,-3.6l-3.6,3.6m1.4,-8.4l3.6,3.6m0,-3.6l-3.6,3.6m1.4,-8.4l3.6,3.6m0,-3.6l-3.6,3.6m1.4,-9.2l3.6,3.6m0,-3.6l-3.6,3.6m1.4,-9.2l3.6,3.6m0,-3.6l-3.6,3.6m1.4,-6.8l3.6,3.6m0,-3.6l-3.6,3.6m1.4,-8.1l3.6,3.6m0,-3.6l-3.6,3.6m1.4,-8.7l3.6,3.6m0,-3.6l-3.6,3.6m1.4,-7.5l3.6,3.6m0,-3.6l-3.6,3.6m1.4,-5.1l3.6,3.6m0,-3.6l-3.6,3.6m1.4,-5.5l3.6,3.6m0,-3.6l-3.6,3.6m1.4,-3.7l3.6,3.6m0,-3.6l-3.6,3.6m1.4,-2.0l3.6,3.6m0,-3.6l-3.6,3.6m1.4,-3.2l3.6,3.6m0,-3.6l-3.6,3.6m1.4,-1.3l3.6,3.6m0,-3.6l-3.6,3.6m1.4,0.1l3.6,3.6m0,-3.6l-3.6,3.6m1.4,2.0l3.6,3.6m0,-3.6l-3.6,3.6m1.4,1.6l3.6,3.6m0,-3.6l-3.6,3.6m1.4,0.3l3.6,3.6m0,-3.6l-3.6,3.6m1.4,3.0l3.6,3.6m0,-3.6l-3.6,3.6m1.4,2.5l3.6,3.6m0,-3.6l-3.6,3.6m1.4,1.9l3.6,3.6m0,-3.6l-3.6,3.6m1.4,2.1l3.6,3.6m0,-3.6l-3.6,3.6m1.4,2.3l3.6,3.6m0,-3.6l-3.6,3.6m1.4,2.3l3.6,3.6m0,-3.6l-3.6,3.6m1.4,0.5l3.6,3.6m0,-3.6l-3.6,3.6m1.4,1.8l3.6,3.6m0,-3.6l-3.6,3.6m1.4,0.9l3.6,3.6m0,-3.6l-3.6,3.6m1.4,0.2l3.6,3.6m0,-3.6l-3.6,3.6m1.4,0.0l3.6,3.6m0,-3.6l-3.6,3.6m1.4,-0.2l3.6,3.6m0,-3.6l-3.6,3.6m1.4,-0.1l3.6,3.6m0,-3.6l-3.6,3.6m1.4,-1.0l3.6,3.6m0,-3.6l-3.6,3.6m1.4,-0.7l3.6,3.6m0,-3.6l-3.6,3.6m1.4,-1.0l3.6,3.6m0,-3.6l-3.6,3.6m1.4,-1.7l3.6,3.6m0,-3.6l-3.6,3.6m1.4,-1.5l3.6,3.6m0,-3.6l-3.6,3.6m1.4,-1.7l3.6,3.6m0,-3.6l-3.6,3.6m1.4,-1.8l3.6,3.6m0,-3.6l-3.6,3.6m1.4,-1.9l3.6,3.6m0,-3.6l-3.6,3.6m1.4,-2.3l3.6,3.6m0,-3.6l-3.6,3.6m1.4,-2.3l3.6,3.6m0,-3.6l-3.6,3.6m1.4,-2.3l3.6,3.6m0,-3.6l-3.6,3.6m1.4,-2.6l3.6,3.6m0,-3.6l-3.6,3.6m1.4,-2.6l3.6,3.6m0,-3.6l-3.6,3.6m1.5,-2.6l3.6,3.6m0,-3.6l-3.6,3.6m1.4,-2.9l3.6,3.6m0,-3.6l-3.6,3.6m1.4,-2.8l3.6,3.6m0,-3.6l-3.6,3.6m1.4,-2.9l3.6,3.6m0,-3.6l-3.6,3.6m1.4,-2.8l3.6,3.6m0,-3.6l-3.6,3.6m1.4,-3.1l3.6,3.6m0,-3.6l-3.6,3.6m1.4,-3.1l3.6,3.6m0,-3.6l-3.6,3.6m1.4,-3.1l3.6,3.6m0,-3.6l-3.6,3.6m1.4,-3.2l3.6,3.6m0,-3.6l-3.6,3.6m1.4,-3.2l3.6,3.6m0,-3.6l-3.6,3.6m1.4,-3.2l3.6,3.6m0,-3.6l-3.6,3.6m1.4,-3.3l3.6,3.6m0,-3.6l-3.6,3.6m1.4,-3.3l3.6,3.6m0,-3.6l-3.6,3.6m1.4,-3.3l3.6,3.6m0,-3.6l-3.6,3.6m1.4,-3.4l3.6,3.6m0,-3.6l-3.6,3.6m1.4,-3.4l3.6,3.6m0,-3.6l-3.6,3.6m1.4,-3.3l3.6,3.6m0,-3.6l-3.6,3.6m1.4,-3.5l3.6,3.6m0,-3.6l-3.6,3.6m1.4,-3.4l3.6,3.6m0,-3.6l-3.6,3.6m1.4,-3.5l3.6,3.6m0,-3.6l-3.6,3.6m1.4,-3.4l3.6,3.6m0,-3.6l-3.6,3.6m1.4,-3.5l3.6,3.6m0,-3.6l-3.6,3.6m1.4,-3.5l3.6,3.6m0,-3.6l-3.6,3.6m1.4,-3.5l3.6,3.6m0,-3.6l-3.6,3.6m1.4,-3.5l3.6,3.6m0,-3.6l-3.6,3.6m1.4,-3.5l3.6,3.6m0,-3.6l-3.6,3.6m1.4,-3.5l3.6,3.6m0,-3.6l-3.6,3.6m1.4,-3.5l3.6,3.6m0,-3.6l-3.6,3.6m1.4,-3.6l3.6,3.6m0,-3.6l-3.6,3.6m1.4,-3.5l3.6,3.6m0,-3.6l-3.6,3.6m-192.0,-6.3l3.6,3.6m0,-3.6l-3.6,3.6m1.4,-3.7l3.6,3.6m0,-3.6l-3.6,3.6m1.4,-3.7l3.6,3.6m0,-3.6l-3.6,3.6m1.4,-3.6l3.6,3.6m0,-3.6l-3.6,3.6m1.4,-3.7l3.6,3.6m0,-3.6l-3.6,3.6m1.4,-3.7l3.6,3.6m0,-3.6l-3.6,3.6m1.4,-3.7l3.6,3.6m0,-3.6l-3.6,3.6m1.4,-3.7l3.6,3.6m0,-3.6l-3.6,3.6m1.4,-3.7l3.6,3.6m0,-3.6l-3.6,3.6m1.4,-3.6l3.6,3.6m0,-3.6l-3.6,3.6m1.4,-3.7l3.6,3.6m0,-3.6l-3.6,3.6m1.4,-3.8l3.6,3.6m0,-3.6l-3.6,3.6m1.4,-3.7l3.6,3.6m0,-3.6l-3.6,3.6m1.4,-3.7l3.6,3.6m0,-3.6l-3.6,3.6m1.4,-3.8l3.6,3.6m0,-3.6l-3.6,3.6m1.4,-3.7l3.6,3.6m0,-3.6l-3.6,3.6m1.4,-3.7l3.6,3.6m0,-3.6l-3.6,3.6m1.4,-3.8l3.6,3.6m0,-3.6l-3.6,3.6m1.4,-3.8l3.6,3.6m0,-3.6l-3.6,3.6m1.4,-3.8l3.6,3.6m0,-3.6l-3.6,3.6m1.4,-3.7l3.6,3.6m0,-3.6l-3.6,3.6m1.4,-3.9l3.6,3.6m0,-3.6l-3.6,3.6m1.4,-3.8l3.6,3.6m0,-3.6l-3.6,3.6m1.4,-3.8l3.6,3.6m0,-3.6l-3.6,3.6m1.4,-4.0l3.6,3.6m0,-3.6l-3.6,3.6m1.4,-3.9l3.6,3.6m0,-3.6l-3.6,3.6m1.4,-4.0l3.6,3.6m0,-3.6l-3.6,3.6m1.4,-3.9l3.6,3.6m0,-3.6l-3.6,3.6m1.4,-4.0l3.6,3.6m0,-3.6l-3.6,3.6m1.4,-4.1l3.6,3.6m0,-3.6l-3.6,3.6m1.4,-3.9l3.6,3.6m0,-3.6l-3.6,3.6m1.4,-4.1l3.6,3.6m0,-3.6l-3.6,3.6m1.4,-4.1l3.6,3.6m0,-3.6l-3.6,3.6m1.4,-4.3l3.6,3.6m0,-3.6l-3.6,3.6m1.4,-4.1l3.6,3.6m0,-3.6l-3.6,3.6m1.4,-4.3l3.6,3.6m0,-3.6l-3.6,3.6m1.5,-4.3l3.6,3.6m0,-3.6l-3.6,3.6m1.4,-4.1l3.6,3.6m0,-3.6l-3.6,3.6m1.4,-4.3l3.6,3.6m0,-3.6l-3.6,3.6m1.4,-4.5l3.6,3.6m0,-3.6l-3.6,3.6m1.4,-4.4l3.6,3.6m0,-3.6l-3.6,3.6m1.4,-4.3l3.6,3.6m0,-3.6l-3.6,3.6m1.4,-4.3l3.6,3.6m0,-3.6l-3.6,3.6m1.4,-4.5l3.6,3.6m0,-3.6l-3.6,3.6m1.4,-4.6l3.6,3.6m0,-3.6l-3.6,3.6m1.4,-4.4l3.6,3.6m0,-3.6l-3.6,3.6m1.4,-4.4l3.6,3.6m0,-3.6l-3.6,3.6m1.4,-4.5l3.6,3.6m0,-3.6l-3.6,3.6m1.4,-4.6l3.6,3.6m0,-3.6l-3.6,3.6m1.4,-4.4l3.6,3.6m0,-3.6l-3.6,3.6m1.4,-4.6l3.6,3.6m0,-3.6l-3.6,3.6m1.4,-4.6l3.6,3.6m0,-3.6l-3.6,3.6m1.4,-4.4l3.6,3.6m0,-3.6l-3.6,3.6m1.4,-4.4l3.6,3.6m0,-3.6l-3.6,3.6m1.4,-4.4l3.6,3.6m0,-3.6l-3.6,3.6m1.4,-4.9l3.6,3.6m0,-3.6l-3.6,3.6m1.4,-4.6l3.6,3.6m0,-3.6l-3.6,3.6m1.4,-4.8l3.6,3.6m0,-3.6l-3.6,3.6m1.4,-4.2l3.6,3.6m0,-3.6l-3.6,3.6m1.4,-5.2l3.6,3.6m0,-3.6l-3.6,3.6m1.4,-4.8l3.6,3.6m0,-3.6l-3.6,3.6m1.4,-4.4l3.6,3.6m0,-3.6l-3.6,3.6m1.4,-5.1l3.6,3.6m0,-3.6l-3.6,3.6m1.4,-5.4l3.6,3.6m0,-3.6l-3.6,3.6m1.4,-4.9l3.6,3.6m0,-3.6l-3.6,3.6m1.4,-6.0l3.6,3.6m0,-3.6l-3.6,3.6m1.4,-5.1l3.6,3.6m0,-3.6l-3.6,3.6m1.4,-6.2l3.6,3.6m0,-3.6l-3.6,3.6m1.4,-5.7l3.6,3.6m0,-3.6l-3.6,3.6m1.4,-6.1l3.6,3.6m0,-3.6l-3.6,3.6m1.4,-6.5l3.6,3.6m0,-3.6l-3.6,3.6m1.4,-7.0l3.6,3.6m0,-3.6l-3.6,3.6m1.4,-7.3l3.6,3.6m0,-3.6l-3.6,3.6m1.4,-6.6l3.6,3.6m0,-3.6l-3.6,3.6m1.4,-8.0l3.6,3.6m0,-3.6l-3.6,3.6m1.4,-7.1l3.6,3.6m0,-3.6l-3.6,3.6m1.4,-8.1l3.6,3.6m0,-3.6l-3.6,3.6m1.4,-7.3l3.6,3.6m0,-3.6l-3.6,3.6m1.4,-7.4l3.6,3.6m0,-3.6l-3.6,3.6m1.4,-7.3l3.6,3.6m0,-3.6l-3.6,3.6m1.4,-7.0l3.6,3.6m0,-3.6l-3.6,3.6m1.4,-7.8l3.6,3.6m0,-3.6l-3.6,3.6m1.4,-5.5l3.6,3.6m0,-3.6l-3.6,3.6m1.4,-4.7l3.6,3.6m0,-3.6l-3.6,3.6m1.4,-6.0l3.6,3.6m0,-3.6l-3.6,3.6m1.4,-2.1l3.6,3.6m0,-3.6l-3.6,3.6m1.4,-1.4l3.6,3.6m0,-3.6l-3.6,3.6m1.4,-3.1l3.6,3.6m0,-3.6l-3.6,3.6m1.4,-0.6l3.6,3.6m0,-3.6l-3.6,3.6m1.4,0.1l3.6,3.6m0,-3.6l-3.6,3.6m1.4,0.3l3.6,3.6m0,-3.6l-3.6,3.6m1.4,0.1l3.6,3.6m0,-3.6l-3.6,3.6m1.4,2.1l3.6,3.6m0,-3.6l-3.6,3.6m1.4,0.8l3.6,3.6m0,-3.6l-3.6,3.6m1.4,1.3l3.6,3.6m0,-3.6l-3.6,3.6m1.4,1.5l3.6,3.6m0,-3.6l-3.6,3.6m1.4,1.0l3.6,3.6m0,-3.6l-3.6,3.6m1.4,0.4l3.6,3.6m0,-3.6l-3.6,3.6m1.4,0.8l3.6,3.6m0,-3.6l-3.6,3.6m1.4,0.5l3.6,3.6m0,-3.6l-3.6,3.6m1.4,0.1l3.6,3.6m0,-3.6l-3.6,3.6m1.4,0.0l3.6,3.6m0,-3.6l-3.6,3.6m1.4,-0.8l3.6,3.6m0,-3.6l-3.6,3.6m1.4,-0.2l3.6,3.6m0,-3.6l-3.6,3.6m1.4,-1.2l3.6,3.6m0,-3.6l-3.6,3.6m1.4,-1.0l3.6,3.6m0,-3.6l-3.6,3.6m1.4,-1.2l3.6,3.6m0,-3.6l-3.6,3.6m1.4,-1.7l3.6,3.6m0,-3.6l-3.6,3.6m1.5,-1.7l3.6,3.6m0,-3.6l-3.6,3.6m1.4,-1.7l3.6,3.6m0,-3.6l-3.6,3.6m1.4,-2.1l3.6,3.6m0,-3.6l-3.6,3.6m1.4,-2.1l3.6,3.6m0,-3.6l-3.6,3.6m1.4,-2.4l3.6,3.6m0,-3.6l-3.6,3.6m1.4,-2.3l3.6,3.6m0,-3.6l-3.6,3.6m1.4,-2.5l3.6,3.6m0,-3.6l-3.6,3.6m1.4,-2.5l3.6,3.6m0,-3.6l-3.6,3.6m1.4,-2.7l3.6,3.6m0,-3.6l-3.6,3.6m1.4,-2.7l3.6,3.6m0,-3.6l-3.6,3.6m1.4,-2.9l3.6,3.6m0,-3.6l-3.6,3.6m1.4,-2.9l3.6,3.6m0,-3.6l-3.6,3.6m1.4,-3.0l3.6,3.6m0,-3.6l-3.6,3.6m1.4,-3.0l3.6,3.6m0,-3.6l-3.6,3.6m1.4,-3.0l3.6,3.6m0,-3.6l-3.6,3.6m1.4,-3.2l3.6,3.6m0,-3.6l-3.6,3.6m1.4,-3.1l3.6,3.6m0,-3.6l-3.6,3.6m1.4,-3.2l3.6,3.6m0,-3.6l-3.6,3.6m1.4,-3.3l3.6,3.6m0,-3.6l-3.6,3.6m1.4,-3.2l3.6,3.6m0,-3.6l-3.6,3.6m1.4,-3.3l3.6,3.6m0,-3.6l-3.6,3.6m1.4,-3.3l3.6,3.6m0,-3.6l-3.6,3.6m1.4,-3.3l3.6,3.6m0,-3.6l-3.6,3.6m1.4,-3.4l3.6,3.6m0,-3.6l-3.6,3.6m1.4,-3.4l3.6,3.6m0,-3.6l-3.6,3.6m1.4,-3.4l3.6,3.6m0,-3.6l-3.6,3.6m1.4,-3.5l3.6,3.6m0,-3.6l-3.6,3.6m1.4,-3.4l3.6,3.6m0,-3.6l-3.6,3.6m1.4,-3.5l3.6,3.6m0,-3.6l-3.6,3.6m1.4,-3.4l3.6,3.6m0,-3.6l-3.6,3.6m1.4,-3.5l3.6,3.6m0,-3.6l-3.6,3.6m1.4,-3.5l3.6,3.6m0,-3.6l-3.6,3.6m1.4,-3.5l3.6,3.6m0,-3.6l-3.6,3.6m1.4,-3.5l3.6,3.6m0,-3.6l-3.6,3.6m1.4,-3.6l3.6,3.6m0,-3.6l-3.6,3.6m1.4,-3.5l3.6,3.6m0,-3.6l-3.6,3.6m1.4,-3.5l3.6,3.6m0,-3.6l-3.6,3.6m1.4,-3.6l3.6,3.6m0,-3.6l-3.6,3.6m1.4,-3.5l3.6,3.6m0,-3.6l-3.6,3.6m1.4,-3.6l3.6,3.6m0,-3.6l-3.6,3.6m1.4,-3.5l3.6,3.6m0,-3.6l-3.6,3.6m1.4,-3.6l3.6,3.6m0,-3.6l-3.6,3.6m1.4,-3.6l3.6,3.6m0,-3.6l-3.6,3.6m1.4,-3.5l3.6,3.6m0,-3.6l-3.6,3.6m1.4,-3.6l3.6,3.6m0,-3.6l-3.6,3.6m1.4,-3.6l3.6,3.6m0,-3.6l-3.6,3.6m1.4,-3.6l3.6,3.6m0,-3.6l-3.6,3.6m1.4,-3.5l3.6,3.6m0,-3.6l-3.6,3.6m1.4,-3.6l3.6,3.6m0,-3.6l-3.6,3.6m1.4,-3.6l3.6,3.6m0,-3.6l-3.6,3.6m1.4,-3.6l3.6,3.6m0,-3.6l-3.6,3.6m1.4,-3.6l3.6,3.6m0,-3.6l-3.6,3.6m1.4,-3.6l3.6,3.6m0,-3.6l-3.6,3.6m1.4,-3.6l3.6,3.6m0,-3.6l-3.6,3.6m1.4,-3.6l3.6,3.6m0,-3.6l-3.6,3.6m-227.0,-5.7l3.6,3.6m0,-3.6l-3.6,3.6m1.4,-3.7l3.6,3.6m0,-3.6l-3.6,3.6m1.4,-3.6l3.6,3.6m0,-3.6l-3.6,3.6m1.4,-3.7l3.6,3.6m0,-3.6l-3.6,3.6m1.4,-3.6l3.6,3.6m0,-3.6l-3.6,3.6m1.4,-3.7l3.6,3.6m0,-3.6l-3.6,3.6m1.4,-3.6l3.6,3.6m0,-3.6l-3.6,3.6m1.4,-3.6l3.6,3.6m0,-3.6l-3.6,3.6m1.4,-3.7l3.6,3.6m0,-3.6l-3.6,3.6m1.4,-3.7l3.6,3.6m0,-3.6l-3.6,3.6m1.4,-3.6l3.6,3.6m0,-3.6l-3.6,3.6m1.4,-3.7l3.6,3.6m0,-3.6l-3.6,3.6m1.4,-3.6l3.6,3.6m0,-3.6l-3.6,3.6m1.4,-3.7l3.6,3.6m0,-3.6l-3.6,3.6m1.4,-3.7l3.6,3.6m0,-3.6l-3.6,3.6m1.4,-3.6l3.6,3.6m0,-3.6l-3.6,3.6m1.4,-3.7l3.6,3.6m0,-3.6l-3.6,3.6m1.4,-3.7l3.6,3.6m0,-3.6l-3.6,3.6m1.4,-3.7l3.6,3.6m0,-3.6l-3.6,3.6m1.4,-3.6l3.6,3.6m0,-3.6l-3.6,3.6m1.4,-3.7l3.6,3.6m0,-3.6l-3.6,3.6m1.4,-3.7l3.6,3.6m0,-3.6l-3.6,3.6m1.4,-3.7l3.6,3.6m0,-3.6l-3.6,3.6m1.4,-3.7l3.6,3.6m0,-3.6l-3.6,3.6m1.4,-3.7l3.6,3.6m0,-3.6l-3.6,3.6m1.4,-3.8l3.6,3.6m0,-3.6l-3.6,3.6m1.4,-3.7l3.6,3.6m0,-3.6l-3.6,3.6m1.4,-3.7l3.6,3.6m0,-3.6l-3.6,3.6m1.4,-3.7l3.6,3.6m0,-3.6l-3.6,3.6m1.4,-3.8l3.6,3.6m0,-3.6l-3.6,3.6m1.4,-3.9l3.6,3.6m0,-3.6l-3.6,3.6m1.4,-3.7l3.6,3.6m0,-3.6l-3.6,3.6m1.4,-3.9l3.6,3.6m0,-3.6l-3.6,3.6m1.4,-3.8l3.6,3.6m0,-3.6l-3.6,3.6m1.4,-3.9l3.6,3.6m0,-3.6l-3.6,3.6m1.4,-3.8l3.6,3.6m0,-3.6l-3.6,3.6m1.5,-3.9l3.6,3.6m0,-3.6l-3.6,3.6m1.4,-3.9l3.6,3.6m0,-3.6l-3.6,3.6m1.4,-3.9l3.6,3.6m0,-3.6l-3.6,3.6m1.4,-4.0l3.6,3.6m0,-3.6l-3.6,3.6m1.4,-4.1l3.6,3.6m0,-3.6l-3.6,3.6m1.4,-4.0l3.6,3.6m0,-3.6l-3.6,3.6m1.4,-4.1l3.6,3.6m0,-3.6l-3.6,3.6m1.4,-4.0l3.6,3.6m0,-3.6l-3.6,3.6m1.4,-4.1l3.6,3.6m0,-3.6l-3.6,3.6m1.4,-4.2l3.6,3.6m0,-3.6l-3.6,3.6m1.4,-4.2l3.6,3.6m0,-3.6l-3.6,3.6m1.4,-4.0l3.6,3.6m0,-3.6l-3.6,3.6m1.4,-4.4l3.6,3.6m0,-3.6l-3.6,3.6m1.4,-4.2l3.6,3.6m0,-3.6l-3.6,3.6m1.4,-4.3l3.6,3.6m0,-3.6l-3.6,3.6m1.4,-4.3l3.6,3.6m0,-3.6l-3.6,3.6m1.4,-4.3l3.6,3.6m0,-3.6l-3.6,3.6m1.4,-4.1l3.6,3.6m0,-3.6l-3.6,3.6m1.4,-4.6l3.6,3.6m0,-3.6l-3.6,3.6m1.4,-4.1l3.6,3.6m0,-3.6l-3.6,3.6m1.4,-4.4l3.6,3.6m0,-3.6l-3.6,3.6m1.4,-4.5l3.6,3.6m0,-3.6l-3.6,3.6m1.4,-4.1l3.6,3.6m0,-3.6l-3.6,3.6m1.4,-4.4l3.6,3.6m0,-3.6l-3.6,3.6m1.4,-4.5l3.6,3.6m0,-3.6l-3.6,3.6m1.4,-4.2l3.6,3.6m0,-3.6l-3.6,3.6m1.4,-4.3l3.6,3.6m0,-3.6l-3.6,3.6m1.4,-4.7l3.6,3.6m0,-3.6l-3.6,3.6m1.4,-4.3l3.6,3.6m0,-3.6l-3.6,3.6m1.4,-4.5l3.6,3.6m0,-3.6l-3.6,3.6m1.4,-4.5l3.6,3.6m0,-3.6l-3.6,3.6m1.4,-4.5l3.6,3.6m0,-3.6l-3.6,3.6m1.4,-4.6l3.6,3.6m0,-3.6l-3.6,3.6m1.4,-4.5l3.6,3.6m0,-3.6l-3.6,3.6m1.4,-4.8l3.6,3.6m0,-3.6l-3.6,3.6m1.4,-4.5l3.6,3.6m0,-3.6l-3.6,3.6m1.4,-5.0l3.6,3.6m0,-3.6l-3.6,3.6m1.4,-4.8l3.6,3.6m0,-3.6l-3.6,3.6m1.4,-5.4l3.6,3.6m0,-3.6l-3.6,3.6m1.4,-5.0l3.6,3.6m0,-3.6l-3.6,3.6m1.4,-5.2l3.6,3.6m0,-3.6l-3.6,3.6m1.4,-5.8l3.6,3.6m0,-3.6l-3.6,3.6m1.4,-5.4l3.6,3.6m0,-3.6l-3.6,3.6m1.4,-5.8l3.6,3.6m0,-3.6l-3.6,3.6m1.4,-6.3l3.6,3.6m0,-3.6l-3.6,3.6m1.4,-6.1l3.6,3.6m0,-3.6l-3.6,3.6m1.4,-6.4l3.6,3.6m0,-3.6l-3.6,3.6m1.4,-6.8l3.6,3.6m0,-3.6l-3.6,3.6m1.4,-7.3l3.6,3.6m0,-3.6l-3.6,3.6m1.4,-7.4l3.6,3.6m0,-3.6l-3.6,3.6m1.4,-6.1l3.6,3.6m0,-3.6l-3.6,3.6m1.4,-7.9l3.6,3.6m0,-3.6l-3.6,3.6m1.4,-6.1l3.6,3.6m0,-3.6l-3.6,3.6m1.4,-7.3l3.6,3.6m0,-3.6l-3.6,3.6m1.4,-6.1l3.6,3.6m0,-3.6l-3.6,3.6m1.4,-6.1l3.6,3.6m0,-3.6l-3.6,3.6m1.4,-5.8l3.6,3.6m0,-3.6l-3.6,3.6m1.4,-4.1l3.6,3.6m0,-3.6l-3.6,3.6m1.4,-3.9l3.6,3.6m0,-3.6l-3.6,3.6m1.4,-2.9l3.6,3.6m0,-3.6l-3.6,3.6m1.4,-1.3l3.6,3.6m0,-3.6l-3.6,3.6m1.4,-2.0l3.6,3.6m0,-3.6l-3.6,3.6m1.4,-1.5l3.6,3.6m0,-3.6l-3.6,3.6m1.4,-0.6l3.6,3.6m0,-3.6l-3.6,3.6m1.4,-0.2l3.6,3.6m0,-3.6l-3.6,3.6m1.4,1.2l3.6,3.6m0,-3.6l-3.6,3.6m1.4,-0.0l3.6,3.6m0,-3.6l-3.6,3.6m1.4,0.9l3.6,3.6m0,-3.6l-3.6,3.6m1.4,-0.0l3.6,3.6m0,-3.6l-3.6,3.6m1.4,0.2l3.6,3.6m0,-3.6l-3.6,3.6m1.4,0.9l3.6,3.6m0,-3.6l-3.6,3.6m1.4,-0.2l3.6,3.6m0,-3.6l-3.6,3.6m1.5,-0.6l3.6,3.6m0,-3.6l-3.6,3.6m1.4,0.1l3.6,3.6m0,-3.6l-3.6,3.6m1.4,-0.8l3.6,3.6m0,-3.6l-3.6,3.6m1.4,-1.0l3.6,3.6m0,-3.6l-3.6,3.6m1.4,-0.7l3.6,3.6m0,-3.6l-3.6,3.6m1.4,-1.5l3.6,3.6m0,-3.6l-3.6,3.6m1.4,-1.0l3.6,3.6m0,-3.6l-3.6,3.6m1.4,-1.8l3.6,3.6m0,-3.6l-3.6,3.6m1.4,-1.7l3.6,3.6m0,-3.6l-3.6,3.6m1.4,-2.0l3.6,3.6m0,-3.6l-3.6,3.6m1.4,-2.0l3.6,3.6m0,-3.6l-3.6,3.6m1.4,-2.2l3.6,3.6m0,-3.6l-3.6,3.6m1.4,-2.5l3.6,3.6m0,-3.6l-3.6,3.6m1.4,-2.3l3.6,3.6m0,-3.6l-3.6,3.6m1.4,-2.6l3.6,3.6m0,-3.6l-3.6,3.6m1.4,-2.6l3.6,3.6m0,-3.6l-3.6,3.6m1.4,-2.8l3.6,3.6m0,-3.6l-3.6,3.6m1.4,-2.8l3.6,3.6m0,-3.6l-3.6,3.6m1.4,-2.8l3.6,3.6m0,-3.6l-3.6,3.6m1.4,-2.8l3.6,3.6m0,-3.6l-3.6,3.6m1.4,-3.1l3.6,3.6m0,-3.6l-3.6,3.6m1.4,-3.0l3.6,3.6m0,-3.6l-3.6,3.6m1.4,-3.1l3.6,3.6m0,-3.6l-3.6,3.6m1.4,-3.1l3.6,3.6m0,-3.6l-3.6,3.6m1.4,-3.2l3.6,3.6m0,-3.6l-3.6,3.6m1.4,-3.2l3.6,3.6m0,-3.6l-3.6,3.6m1.4,-3.2l3.6,3.6m0,-3.6l-3.6,3.6m1.4,-3.3l3.6,3.6m0,-3.6l-3.6,3.6m1.4,-3.4l3.6,3.6m0,-3.6l-3.6,3.6m1.4,-3.3l3.6,3.6m0,-3.6l-3.6,3.6m1.4,-3.3l3.6,3.6m0,-3.6l-3.6,3.6m1.4,-3.4l3.6,3.6m0,-3.6l-3.6,3.6m1.4,-3.4l3.6,3.6m0,-3.6l-3.6,3.6m1.4,-3.4l3.6,3.6m0,-3.6l-3.6,3.6m1.4,-3.4l3.6,3.6m0,-3.6l-3.6,3.6m1.4,-3.5l3.6,3.6m0,-3.6l-3.6,3.6m1.4,-3.5l3.6,3.6m0,-3.6l-3.6,3.6m1.4,-3.4l3.6,3.6m0,-3.6l-3.6,3.6m1.4,-3.5l3.6,3.6m0,-3.6l-3.6,3.6m1.4,-3.5l3.6,3.6m0,-3.6l-3.6,3.6m1.4,-3.5l3.6,3.6m0,-3.6l-3.6,3.6m1.4,-3.5l3.6,3.6m0,-3.6l-3.6,3.6m1.4,-3.6l3.6,3.6m0,-3.6l-3.6,3.6m1.4,-3.5l3.6,3.6m0,-3.6l-3.6,3.6m1.4,-3.5l3.6,3.6m0,-3.6l-3.6,3.6m1.4,-3.6l3.6,3.6m0,-3.6l-3.6,3.6m1.4,-3.5l3.6,3.6m0,-3.6l-3.6,3.6m1.4,-3.6l3.6,3.6m0,-3.6l-3.6,3.6m1.4,-3.5l3.6,3.6m0,-3.6l-3.6,3.6m1.4,-3.6l3.6,3.6m0,-3.6l-3.6,3.6m1.4,-3.6l3.6,3.6m0,-3.6l-3.6,3.6m1.4,-3.5l3.6,3.6m0,-3.6l-3.6,3.6m1.4,-3.6l3.6,3.6m0,-3.6l-3.6,3.6m1.4,-3.6l3.6,3.6m0,-3.6l-3.6,3.6m1.4,-3.6l3.6,3.6m0,-3.6l-3.6,3.6m-227.0,-5.2l3.6,3.6m0,-3.6l-3.6,3.6m1.4,-3.6l3.6,3.6m0,-3.6l-3.6,3.6m1.4,-3.6l3.6,3.6m0,-3.6l-3.6,3.6m1.4,-3.6l3.6,3.6m0,-3.6l-3.6,3.6m1.4,-3.6l3.6,3.6m0,-3.6l-3.6,3.6m1.4,-3.7l3.6,3.6m0,-3.6l-3.6,3.6m1.4,-3.6l3.6,3.6m0,-3.6l-3.6,3.6m1.4,-3.6l3.6,3.6m0,-3.6l-3.6,3.6m1.4,-3.7l3.6,3.6m0,-3.6l-3.6,3.6m1.4,-3.7l3.6,3.6m0,-3.6l-3.6,3.6m1.4,-3.6l3.6,3.6m0,-3.6l-3.6,3.6m1.4,-3.6l3.6,3.6m0,-3.6l-3.6,3.6m1.4,-3.6l3.6,3.6m0,-3.6l-3.6,3.6m1.4,-3.7l3.6,3.6m0,-3.6l-3.6,3.6m1.4,-3.6l3.6,3.6m0,-3.6l-3.6,3.6m1.4,-3.7l3.6,3.6m0,-3.6l-3.6,3.6m1.4,-3.6l3.6,3.6m0,-3.6l-3.6,3.6m1.4,-3.6l3.6,3.6m0,-3.6l-3.6,3.6m1.4,-3.7l3.6,3.6m0,-3.6l-3.6,3.6m1.4,-3.7l3.6,3.6m0,-3.6l-3.6,3.6m1.4,-3.6l3.6,3.6m0,-3.6l-3.6,3.6m1.4,-3.6l3.6,3.6m0,-3.6l-3.6,3.6m1.4,-3.7l3.6,3.6m0,-3.6l-3.6,3.6m1.4,-3.7l3.6,3.6m0,-3.6l-3.6,3.6m1.4,-3.6l3.6,3.6m0,-3.6l-3.6,3.6m1.4,-3.7l3.6,3.6m0,-3.6l-3.6,3.6m1.4,-3.6l3.6,3.6m0,-3.6l-3.6,3.6m1.4,-3.7l3.6,3.6m0,-3.6l-3.6,3.6m1.4,-3.7l3.6,3.6m0,-3.6l-3.6,3.6m1.4,-3.7l3.6,3.6m0,-3.6l-3.6,3.6m1.4,-3.7l3.6,3.6m0,-3.6l-3.6,3.6m1.4,-3.6l3.6,3.6m0,-3.6l-3.6,3.6m1.4,-3.7l3.6,3.6m0,-3.6l-3.6,3.6m1.4,-3.7l3.6,3.6m0,-3.6l-3.6,3.6m1.4,-3.7l3.6,3.6m0,-3.6l-3.6,3.6m1.4,-3.8l3.6,3.6m0,-3.6l-3.6,3.6m1.5,-3.7l3.6,3.6m0,-3.6l-3.6,3.6m1.4,-3.8l3.6,3.6m0,-3.6l-3.6,3.6m1.4,-3.7l3.6,3.6m0,-3.6l-3.6,3.6m1.4,-3.8l3.6,3.6m0,-3.6l-3.6,3.6m1.4,-3.8l3.6,3.6m0,-3.6l-3.6,3.6m1.4,-3.7l3.6,3.6m0,-3.6l-3.6,3.6m1.4,-3.8l3.6,3.6m0,-3.6l-3.6,3.6m1.4,-3.9l3.6,3.6m0,-3.6l-3.6,3.6m1.4,-3.8l3.6,3.6m0,-3.6l-3.6,3.6m1.4,-3.9l3.6,3.6m0,-3.6l-3.6,3.6m1.4,-3.9l3.6,3.6m0,-3.6l-3.6,3.6m1.4,-3.9l3.6,3.6m0,-3.6l-3.6,3.6m1.4,-3.9l3.6,3.6m0,-3.6l-3.6,3.6m1.4,-3.9l3.6,3.6m0,-3.6l-3.6,3.6m1.4,-4.0l3.6,3.6m0,-3.6l-3.6,3.6m1.4,-4.1l3.6,3.6m0,-3.6l-3.6,3.6m1.4,-3.9l3.6,3.6m0,-3.6l-3.6,3.6m1.4,-4.2l3.6,3.6m0,-3.6l-3.6,3.6m1.4,-3.9l3.6,3.6m0,-3.6l-3.6,3.6m1.4,-4.2l3.6,3.6m0,-3.6l-3.6,3.6m1.4,-4.0l3.6,3.6m0,-3.6l-3.6,3.6m1.4,-4.3l3.6,3.6m0,-3.6l-3.6,3.6m1.4,-4.1l3.6,3.6m0,-3.6l-3.6,3.6m1.4,-4.2l3.6,3.6m0,-3.6l-3.6,3.6m1.4,-4.1l3.6,3.6m0,-3.6l-3.6,3.6m1.4,-4.3l3.6,3.6m0,-3.6l-3.6,3.6m1.4,-4.4l3.6,3.6m0,-3.6l-3.6,3.6m1.4,-4.1l3.6,3.6m0,-3.6l-3.6,3.6m1.4,-4.3l3.6,3.6m0,-3.6l-3.6,3.6m1.4,-4.1l3.6,3.6m0,-3.6l-3.6,3.6m1.4,-4.3l3.6,3.6m0,-3.6l-3.6,3.6m1.4,-4.5l3.6,3.6m0,-3.6l-3.6,3.6m1.4,-4.0l3.6,3.6m0,-3.6l-3.6,3.6m1.4,-4.4l3.6,3.6m0,-3.6l-3.6,3.6m1.4,-4.3l3.6,3.6m0,-3.6l-3.6,3.6m1.4,-4.3l3.6,3.6m0,-3.6l-3.6,3.6m1.4,-4.3l3.6,3.6m0,-3.6l-3.6,3.6m1.4,-4.5l3.6,3.6m0,-3.6l-3.6,3.6m1.4,-4.2l3.6,3.6m0,-3.6l-3.6,3.6m1.4,-4.2l3.6,3.6m0,-3.6l-3.6,3.6m1.4,-4.4l3.6,3.6m0,-3.6l-3.6,3.6m1.4,-4.5l3.6,3.6m0,-3.6l-3.6,3.6m1.4,-4.6l3.6,3.6m0,-3.6l-3.6,3.6m1.4,-4.5l3.6,3.6m0,-3.6l-3.6,3.6m1.4,-4.4l3.6,3.6m0,-3.6l-3.6,3.6m1.4,-5.0l3.6,3.6m0,-3.6l-3.6,3.6m1.4,-4.6l3.6,3.6m0,-3.6l-3.6,3.6m1.4,-4.7l3.6,3.6m0,-3.6l-3.6,3.6m1.4,-5.2l3.6,3.6m0,-3.6l-3.6,3.6m1.4,-5.2l3.6,3.6m0,-3.6l-3.6,3.6m1.4,-5.2l3.6,3.6m0,-3.6l-3.6,3.6m1.4,-5.9l3.6,3.6m0,-3.6l-3.6,3.6m1.4,-5.9l3.6,3.6m0,-3.6l-3.6,3.6m1.4,-5.8l3.6,3.6m0,-3.6l-3.6,3.6m1.4,-5.8l3.6,3.6m0,-3.6l-3.6,3.6m1.4,-6.5l3.6,3.6m0,-3.6l-3.6,3.6m1.4,-6.0l3.6,3.6m0,-3.6l-3.6,3.6m1.4,-6.6l3.6,3.6m0,-3.6l-3.6,3.6m1.4,-7.0l3.6,3.6m0,-3.6l-3.6,3.6m1.4,-5.7l3.6,3.6m0,-3.6l-3.6,3.6m1.4,-7.1l3.6,3.6m0,-3.6l-3.6,3.6m1.4,-6.6l3.6,3.6m0,-3.6l-3.6,3.6m1.4,-6.3l3.6,3.6m0,-3.6l-3.6,3.6m1.4,-6.2l3.6,3.6m0,-3.6l-3.6,3.6m1.4,-5.2l3.6,3.6m0,-3.6l-3.6,3.6m1.4,-6.1l3.6,3.6m0,-3.6l-3.6,3.6m1.4,-5.0l3.6,3.6m0,-3.6l-3.6,3.6m1.4,-2.8l3.6,3.6m0,-3.6l-3.6,3.6m1.4,-2.5l3.6,3.6m0,-3.6l-3.6,3.6m1.4,-2.8l3.6,3.6m0,-3.6l-3.6,3.6m1.4,-2.5l3.6,3.6m0,-3.6l-3.6,3.6m1.4,-0.5l3.6,3.6m0,-3.6l-3.6,3.6m1.5,-1.5l3.6,3.6m0,-3.6l-3.6,3.6m1.4,0.3l3.6,3.6m0,-3.6l-3.6,3.6m1.4,-0.7l3.6,3.6m0,-3.6l-3.6,3.6m1.4,-0.1l3.6,3.6m0,-3.6l-3.6,3.6m1.4,0.1l3.6,3.6m0,-3.6l-3.6,3.6m1.4,0.6l3.6,3.6m0,-3.6l-3.6,3.6m1.4,-0.8l3.6,3.6m0,-3.6l-3.6,3.6m1.4,-0.1l3.6,3.6m0,-3.6l-3.6,3.6m1.4,-0.0l3.6,3.6m0,-3.6l-3.6,3.6m1.4,-0.8l3.6,3.6m0,-3.6l-3.6,3.6m1.4,-0.5l3.6,3.6m0,-3.6l-3.6,3.6m1.4,-0.7l3.6,3.6m0,-3.6l-3.6,3.6m1.4,-1.2l3.6,3.6m0,-3.6l-3.6,3.6m1.4,-1.5l3.6,3.6m0,-3.6l-3.6,3.6m1.4,-1.3l3.6,3.6m0,-3.6l-3.6,3.6m1.4,-1.5l3.6,3.6m0,-3.6l-3.6,3.6m1.4,-1.9l3.6,3.6m0,-3.6l-3.6,3.6m1.4,-1.9l3.6,3.6m0,-3.6l-3.6,3.6m1.4,-2.3l3.6,3.6m0,-3.6l-3.6,3.6m1.4,-2.2l3.6,3.6m0,-3.6l-3.6,3.6m1.4,-2.3l3.6,3.6m0,-3.6l-3.6,3.6m1.4,-2.4l3.6,3.6m0,-3.6l-3.6,3.6m1.4,-2.7l3.6,3.6m0,-3.6l-3.6,3.6m1.4,-2.5l3.6,3.6m0,-3.6l-3.6,3.6m1.4,-2.8l3.6,3.6m0,-3.6l-3.6,3.6m1.4,-2.7l3.6,3.6m0,-3.6l-3.6,3.6m1.4,-2.9l3.6,3.6m0,-3.6l-3.6,3.6m1.4,-2.9l3.6,3.6m0,-3.6l-3.6,3.6m1.4,-3.0l3.6,3.6m0,-3.6l-3.6,3.6m1.4,-3.0l3.6,3.6m0,-3.6l-3.6,3.6m1.4,-3.1l3.6,3.6m0,-3.6l-3.6,3.6m1.4,-3.2l3.6,3.6m0,-3.6l-3.6,3.6m1.4,-3.2l3.6,3.6m0,-3.6l-3.6,3.6m1.4,-3.2l3.6,3.6m0,-3.6l-3.6,3.6m1.4,-3.3l3.6,3.6m0,-3.6l-3.6,3.6m1.4,-3.2l3.6,3.6m0,-3.6l-3.6,3.6m1.4,-3.3l3.6,3.6m0,-3.6l-3.6,3.6m1.4,-3.4l3.6,3.6m0,-3.6l-3.6,3.6m1.4,-3.3l3.6,3.6m0,-3.6l-3.6,3.6m1.4,-3.4l3.6,3.6m0,-3.6l-3.6,3.6m1.4,-3.4l3.6,3.6m0,-3.6l-3.6,3.6m1.4,-3.4l3.6,3.6m0,-3.6l-3.6,3.6m1.4,-3.4l3.6,3.6m0,-3.6l-3.6,3.6m1.4,-3.5l3.6,3.6m0,-3.6l-3.6,3.6m1.4,-3.4l3.6,3.6m0,-3.6l-3.6,3.6m1.4,-3.5l3.6,3.6m0,-3.6l-3.6,3.6m1.4,-3.5l3.6,3.6m0,-3.6l-3.6,3.6m1.4,-3.5l3.6,3.6m0,-3.6l-3.6,3.6m1.4,-3.5l3.6,3.6m0,-3.6l-3.6,3.6m1.4,-3.5l3.6,3.6m0,-3.6l-3.6,3.6m1.4,-3.6l3.6,3.6m0,-3.6l-3.6,3.6m1.4,-3.5l3.6,3.6m0,-3.6l-3.6,3.6m1.4,-3.5l3.6,3.6m0,-3.6l-3.6,3.6m1.4,-3.6l3.6,3.6m0,-3.6l-3.6,3.6m1.4,-3.5l3.6,3.6m0,-3.6l-3.6,3.6m1.4,-3.6l3.6,3.6m0,-3.6l-3.6,3.6m1.4,-3.5l3.6,3.6m0,-3.6l-3.6,3.6m1.4,-3.6l3.6,3.6m0,-3.6l-3.6,3.6m1.4,-3.6l3.6,3.6m0,-3.6l-3.6,3.6m1.4,-3.5l3.6,3.6m0,-3.6l-3.6,3.6m1.4,-3.6l3.6,3.6m0,-3.6l-3.6,3.6m1.4,-3.6l3.6,3.6m0,-3.6l-3.6,3.6m1.4,-3.6l3.6,3.6m0,-3.6l-3.6,3.6m1.4,-3.6l3.6,3.6m0,-3.6l-3.6,3.6m1.4,-3.5l3.6,3.6m0,-3.6l-3.6,3.6m1.4,-3.6l3.6,3.6m0,-3.6l-3.6,3.6m1.4,-3.6l3.6,3.6m0,-3.6l-3.6,3.6m1.4,-3.6l3.6,3.6m0,-3.6l-3.6,3.6m1.4,-3.6l3.6,3.6m0,-3.6l-3.6,3.6m1.4,-3.6l3.6,3.6m0,-3.6l-3.6,3.6m-248.0,-4.9l3.6,3.6m0,-3.6l-3.6,3.6m1.4,-3.6l3.6,3.6m0,-3.6l-3.6,3.6m1.4,-3.7l3.6,3.6m0,-3.6l-3.6,3.6m1.4,-3.6l3.6,3.6m0,-3.6l-3.6,3.6m1.4,-3.6l3.6,3.6m0,-3.6l-3.6,3.6m1.4,-3.6l3.6,3.6m0,-3.6l-3.6,3.6m1.4,-3.7l3.6,3.6m0,-3.6l-3.6,3.6m1.4,-3.5l3.6,3.6m0,-3.6l-3.6,3.6m1.4,-3.7l3.6,3.6m0,-3.6l-3.6,3.6m1.4,-3.6l3.6,3.6m0,-3.6l-3.6,3.6m1.4,-3.6l3.6,3.6m0,-3.6l-3.6,3.6m1.4,-3.7l3.6,3.6m0,-3.6l-3.6,3.6m1.4,-3.6l3.6,3.6m0,-3.6l-3.6,3.6m1.4,-3.6l3.6,3.6m0,-3.6l-3.6,3.6m1.4,-3.7l3.6,3.6m0,-3.6l-3.6,3.6m1.4,-3.6l3.6,3.6m0,-3.6l-3.6,3.6m1.4,-3.6l3.6,3.6m0,-3.6l-3.6,3.6m1.4,-3.6l3.6,3.6m0,-3.6l-3.6,3.6m1.4,-3.7l3.6,3.6m0,-3.6l-3.6,3.6m1.4,-3.6l3.6,3.6m0,-3.6l-3.6,3.6m1.4,-3.6l3.6,3.6m0,-3.6l-3.6,3.6m1.4,-3.7l3.6,3.6m0,-3.6l-3.6,3.6m1.4,-3.6l3.6,3.6m0,-3.6l-3.6,3.6m1.4,-3.6l3.6,3.6m0,-3.6l-3.6,3.6m1.4,-3.7l3.6,3.6m0,-3.6l-3.6,3.6m1.4,-3.6l3.6,3.6m0,-3.6l-3.6,3.6m1.4,-3.7l3.6,3.6m0,-3.6l-3.6,3.6m1.4,-3.6l3.6,3.6m0,-3.6l-3.6,3.6m1.4,-3.7l3.6,3.6m0,-3.6l-3.6,3.6m1.4,-3.6l3.6,3.6m0,-3.6l-3.6,3.6m1.4,-3.6l3.6,3.6m0,-3.6l-3.6,3.6m1.4,-3.7l3.6,3.6m0,-3.6l-3.6,3.6m1.4,-3.6l3.6,3.6m0,-3.6l-3.6,3.6m1.4,-3.7l3.6,3.6m0,-3.6l-3.6,3.6m1.4,-3.7l3.6,3.6m0,-3.6l-3.6,3.6m1.4,-3.6l3.6,3.6m0,-3.6l-3.6,3.6m1.5,-3.7l3.6,3.6m0,-3.6l-3.6,3.6m1.4,-3.6l3.6,3.6m0,-3.6l-3.6,3.6m1.4,-3.7l3.6,3.6m0,-3.6l-3.6,3.6m1.4,-3.7l3.6,3.6m0,-3.6l-3.6,3.6m1.4,-3.6l3.6,3.6m0,-3.6l-3.6,3.6m1.4,-3.8l3.6,3.6m0,-3.6l-3.6,3.6m1.4,-3.6l3.6,3.6m0,-3.6l-3.6,3.6m1.4,-3.7l3.6,3.6m0,-3.6l-3.6,3.6m1.4,-3.7l3.6,3.6m0,-3.6l-3.6,3.6m1.4,-3.8l3.6,3.6m0,-3.6l-3.6,3.6m1.4,-3.7l3.6,3.6m0,-3.6l-3.6,3.6m1.4,-3.7l3.6,3.6m0,-3.6l-3.6,3.6m1.4,-3.7l3.6,3.6m0,-3.6l-3.6,3.6m1.4,-3.8l3.6,3.6m0,-3.6l-3.6,3.6m1.4,-3.8l3.6,3.6m0,-3.6l-3.6,3.6m1.4,-3.7l3.6,3.6m0,-3.6l-3.6,3.6m1.4,-3.9l3.6,3.6m0,-3.6l-3.6,3.6m1.4,-3.8l3.6,3.6m0,-3.6l-3.6,3.6m1.4,-3.8l3.6,3.6m0,-3.6l-3.6,3.6m1.4,-3.9l3.6,3.6m0,-3.6l-3.6,3.6m1.4,-3.8l3.6,3.6m0,-3.6l-3.6,3.6m1.4,-3.9l3.6,3.6m0,-3.6l-3.6,3.6m1.4,-3.9l3.6,3.6m0,-3.6l-3.6,3.6m1.4,-4.0l3.6,3.6m0,-3.6l-3.6,3.6m1.4,-3.9l3.6,3.6m0,-3.6l-3.6,3.6m1.4,-4.0l3.6,3.6m0,-3.6l-3.6,3.6m1.4,-4.1l3.6,3.6m0,-3.6l-3.6,3.6m1.4,-3.9l3.6,3.6m0,-3.6l-3.6,3.6m1.4,-4.1l3.6,3.6m0,-3.6l-3.6,3.6m1.4,-4.0l3.6,3.6m0,-3.6l-3.6,3.6m1.4,-4.3l3.6,3.6m0,-3.6l-3.6,3.6m1.4,-4.0l3.6,3.6m0,-3.6l-3.6,3.6m1.4,-4.1l3.6,3.6m0,-3.6l-3.6,3.6m1.4,-4.1l3.6,3.6m0,-3.6l-3.6,3.6m1.4,-4.3l3.6,3.6m0,-3.6l-3.6,3.6m1.4,-4.1l3.6,3.6m0,-3.6l-3.6,3.6m1.4,-4.3l3.6,3.6m0,-3.6l-3.6,3.6m1.4,-4.1l3.6,3.6m0,-3.6l-3.6,3.6m1.4,-4.1l3.6,3.6m0,-3.6l-3.6,3.6m1.4,-4.3l3.6,3.6m0,-3.6l-3.6,3.6m1.4,-4.0l3.6,3.6m0,-3.6l-3.6,3.6m1.4,-4.4l3.6,3.6m0,-3.6l-3.6,3.6m1.4,-4.1l3.6,3.6m0,-3.6l-3.6,3.6m1.4,-4.3l3.6,3.6m0,-3.6l-3.6,3.6m1.4,-4.1l3.6,3.6m0,-3.6l-3.6,3.6m1.4,-4.4l3.6,3.6m0,-3.6l-3.6,3.6m1.4,-4.0l3.6,3.6m0,-3.6l-3.6,3.6m1.4,-4.2l3.6,3.6m0,-3.6l-3.6,3.6m1.4,-4.4l3.6,3.6m0,-3.6l-3.6,3.6m1.4,-4.6l3.6,3.6m0,-3.6l-3.6,3.6m1.4,-4.1l3.6,3.6m0,-3.6l-3.6,3.6m1.4,-4.5l3.6,3.6m0,-3.6l-3.6,3.6m1.4,-4.6l3.6,3.6m0,-3.6l-3.6,3.6m1.4,-4.6l3.6,3.6m0,-3.6l-3.6,3.6m1.4,-4.2l3.6,3.6m0,-3.6l-3.6,3.6m1.4,-4.9l3.6,3.6m0,-3.6l-3.6,3.6m1.4,-4.8l3.6,3.6m0,-3.6l-3.6,3.6m1.4,-4.9l3.6,3.6m0,-3.6l-3.6,3.6m1.4,-4.8l3.6,3.6m0,-3.6l-3.6,3.6m1.4,-5.2l3.6,3.6m0,-3.6l-3.6,3.6m1.4,-5.5l3.6,3.6m0,-3.6l-3.6,3.6m1.4,-5.1l3.6,3.6m0,-3.6l-3.6,3.6m1.4,-5.8l3.6,3.6m0,-3.6l-3.6,3.6m1.4,-5.9l3.6,3.6m0,-3.6l-3.6,3.6m1.4,-6.1l3.6,3.6m0,-3.6l-3.6,3.6m1.4,-5.6l3.6,3.6m0,-3.6l-3.6,3.6m1.4,-6.6l3.6,3.6m0,-3.6l-3.6,3.6m1.4,-5.8l3.6,3.6m0,-3.6l-3.6,3.6m1.4,-6.4l3.6,3.6m0,-3.6l-3.6,3.6m1.4,-6.7l3.6,3.6m0,-3.6l-3.6,3.6m1.4,-6.5l3.6,3.6m0,-3.6l-3.6,3.6m1.4,-6.1l3.6,3.6m0,-3.6l-3.6,3.6m1.5,-6.3l3.6,3.6m0,-3.6l-3.6,3.6m1.4,-4.5l3.6,3.6m0,-3.6l-3.6,3.6m1.4,-5.6l3.6,3.6m0,-3.6l-3.6,3.6m1.4,-4.5l3.6,3.6m0,-3.6l-3.6,3.6m1.4,-3.6l3.6,3.6m0,-3.6l-3.6,3.6m1.4,-3.5l3.6,3.6m0,-3.6l-3.6,3.6m1.4,-1.7l3.6,3.6m0,-3.6l-3.6,3.6m1.4,-2.3l3.6,3.6m0,-3.6l-3.6,3.6m1.4,-1.3l3.6,3.6m0,-3.6l-3.6,3.6m1.4,-1.8l3.6,3.6m0,-3.6l-3.6,3.6m1.4,-0.8l3.6,3.6m0,-3.6l-3.6,3.6m1.4,-0.0l3.6,3.6m0,-3.6l-3.6,3.6m1.4,-1.2l3.6,3.6m0,-3.6l-3.6,3.6m1.4,0.0l3.6,3.6m0,-3.6l-3.6,3.6m1.4,0.1l3.6,3.6m0,-3.6l-3.6,3.6m1.4,-1.0l3.6,3.6m0,-3.6l-3.6,3.6m1.4,-0.4l3.6,3.6m0,-3.6l-3.6,3.6m1.4,-0.3l3.6,3.6m0,-3.6l-3.6,3.6m1.4,-1.2l3.6,3.6m0,-3.6l-3.6,3.6m1.4,-0.5l3.6,3.6m0,-3.6l-3.6,3.6m1.4,-1.3l3.6,3.6m0,-3.6l-3.6,3.6m1.4,-1.4l3.6,3.6m0,-3.6l-3.6,3.6m1.4,-1.7l3.6,3.6m0,-3.6l-3.6,3.6m1.4,-1.4l3.6,3.6m0,-3.6l-3.6,3.6m1.4,-1.9l3.6,3.6m0,-3.6l-3.6,3.6m1.4,-1.9l3.6,3.6m0,-3.6l-3.6,3.6m1.4,-2.3l3.6,3.6m0,-3.6l-3.6,3.6m1.4,-2.0l3.6,3.6m0,-3.6l-3.6,3.6m1.4,-2.5l3.6,3.6m0,-3.6l-3.6,3.6m1.4,-2.4l3.6,3.6m0,-3.6l-3.6,3.6m1.4,-2.6l3.6,3.6m0,-3.6l-3.6,3.6m1.4,-2.7l3.6,3.6m0,-3.6l-3.6,3.6m1.4,-2.6l3.6,3.6m0,-3.6l-3.6,3.6m1.4,-2.8l3.6,3.6m0,-3.6l-3.6,3.6m1.4,-2.9l3.6,3.6m0,-3.6l-3.6,3.6m1.4,-2.9l3.6,3.6m0,-3.6l-3.6,3.6m1.4,-3.0l3.6,3.6m0,-3.6l-3.6,3.6m1.4,-3.1l3.6,3.6m0,-3.6l-3.6,3.6m1.4,-3.0l3.6,3.6m0,-3.6l-3.6,3.6m1.4,-3.2l3.6,3.6m0,-3.6l-3.6,3.6m1.4,-3.1l3.6,3.6m0,-3.6l-3.6,3.6m1.4,-3.3l3.6,3.6m0,-3.6l-3.6,3.6m1.4,-3.2l3.6,3.6m0,-3.6l-3.6,3.6m1.4,-3.3l3.6,3.6m0,-3.6l-3.6,3.6m1.4,-3.3l3.6,3.6m0,-3.6l-3.6,3.6m1.4,-3.4l3.6,3.6m0,-3.6l-3.6,3.6m1.4,-3.3l3.6,3.6m0,-3.6l-3.6,3.6m1.4,-3.4l3.6,3.6m0,-3.6l-3.6,3.6m1.4,-3.4l3.6,3.6m0,-3.6l-3.6,3.6m1.4,-3.4l3.6,3.6m0,-3.6l-3.6,3.6m1.4,-3.4l3.6,3.6m0,-3.6l-3.6,3.6m1.4,-3.5l3.6,3.6m0,-3.6l-3.6,3.6m1.4,-3.4l3.6,3.6m0,-3.6l-3.6,3.6m1.4,-3.6l3.6,3.6m0,-3.6l-3.6,3.6m1.4,-3.4l3.6,3.6m0,-3.6l-3.6,3.6m1.4,-3.5l3.6,3.6m0,-3.6l-3.6,3.6m1.4,-3.5l3.6,3.6m0,-3.6l-3.6,3.6m1.4,-3.6l3.6,3.6m0,-3.6l-3.6,3.6m1.4,-3.5l3.6,3.6m0,-3.6l-3.6,3.6m1.4,-3.5l3.6,3.6m0,-3.6l-3.6,3.6m1.4,-3.5l3.6,3.6m0,-3.6l-3.6,3.6m1.4,-3.6l3.6,3.6m0,-3.6l-3.6,3.6m1.4,-3.5l3.6,3.6m0,-3.6l-3.6,3.6m1.4,-3.6l3.6,3.6m0,-3.6l-3.6,3.6m1.4,-3.5l3.6,3.6m0,-3.6l-3.6,3.6m1.4,-3.6l3.6,3.6m0,-3.6l-3.6,3.6m1.4,-3.6l3.6,3.6m0,-3.6l-3.6,3.6m1.4,-3.5l3.6,3.6m0,-3.6l-3.6,3.6m1.4,-3.6l3.6,3.6m0,-3.6l-3.6,3.6m1.4,-3.6l3.6,3.6m0,-3.6l-3.6,3.6m-248.0,-4.6l3.6,3.6m0,-3.6l-3.6,3.6m1.4,-3.6l3.6,3.6m0,-3.6l-3.6,3.6m1.4,-3.6l3.6,3.6m0,-3.6l-3.6,3.6m1.4,-3.6l3.6,3.6m0,-3.6l-3.6,3.6m1.4,-3.6l3.6,3.6m0,-3.6l-3.6,3.6m1.4,-3.7l3.6,3.6m0,-3.6l-3.6,3.6m1.4,-3.6l3.6,3.6m0,-3.6l-3.6,3.6m1.4,-3.6l3.6,3.6m0,-3.6l-3.6,3.6m1.4,-3.6l3.6,3.6m0,-3.6l-3.6,3.6m1.4,-3.6l3.6,3.6m0,-3.6l-3.6,3.6m1.4,-3.6l3.6,3.6m0,-3.6l-3.6,3.6m1.4,-3.7l3.6,3.6m0,-3.6l-3.6,3.6m1.4,-3.6l3.6,3.6m0,-3.6l-3.6,3.6m1.4,-3.6l3.6,3.6m0,-3.6l-3.6,3.6m1.4,-3.6l3.6,3.6m0,-3.6l-3.6,3.6m1.4,-3.7l3.6,3.6m0,-3.6l-3.6,3.6m1.4,-3.6l3.6,3.6m0,-3.6l-3.6,3.6m1.4,-3.6l3.6,3.6m0,-3.6l-3.6,3.6m1.4,-3.6l3.6,3.6m0,-3.6l-3.6,3.6m1.4,-3.6l3.6,3.6m0,-3.6l-3.6,3.6m1.4,-3.7l3.6,3.6m0,-3.6l-3.6,3.6m1.4,-3.6l3.6,3.6m0,-3.6l-3.6,3.6m1.4,-3.6l3.6,3.6m0,-3.6l-3.6,3.6m1.4,-3.6l3.6,3.6m0,-3.6l-3.6,3.6m1.4,-3.6l3.6,3.6m0,-3.6l-3.6,3.6m1.4,-3.7l3.6,3.6m0,-3.6l-3.6,3.6m1.4,-3.6l3.6,3.6m0,-3.6l-3.6,3.6m1.4,-3.6l3.6,3.6m0,-3.6l-3.6,3.6m1.4,-3.7l3.6,3.6m0,-3.6l-3.6,3.6m1.4,-3.6l3.6,3.6m0,-3.6l-3.6,3.6m1.4,-3.6l3.6,3.6m0,-3.6l-3.6,3.6m1.4,-3.7l3.6,3.6m0,-3.6l-3.6,3.6m1.4,-3.6l3.6,3.6m0,-3.6l-3.6,3.6m1.4,-3.6l3.6,3.6m0,-3.6l-3.6,3.6m1.4,-3.7l3.6,3.6m0,-3.6l-3.6,3.6m1.4,-3.6l3.6,3.6m0,-3.6l-3.6,3.6m1.5,-3.6l3.6,3.6m0,-3.6l-3.6,3.6m1.4,-3.7l3.6,3.6m0,-3.6l-3.6,3.6m1.4,-3.6l3.6,3.6m0,-3.6l-3.6,3.6m1.4,-3.6l3.6,3.6m0,-3.6l-3.6,3.6m1.4,-3.7l3.6,3.6m0,-3.6l-3.6,3.6m1.4,-3.6l3.6,3.6m0,-3.6l-3.6,3.6m1.4,-3.7l3.6,3.6m0,-3.6l-3.6,3.6m1.4,-3.7l3.6,3.6m0,-3.6l-3.6,3.6m1.4,-3.6l3.6,3.6m0,-3.6l-3.6,3.6m1.4,-3.6l3.6,3.6m0,-3.6l-3.6,3.6m1.4,-3.7l3.6,3.6m0,-3.6l-3.6,3.6m1.4,-3.7l3.6,3.6m0,-3.6l-3.6,3.6m1.4,-3.7l3.6,3.6m0,-3.6l-3.6,3.6m1.4,-3.6l3.6,3.6m0,-3.6l-3.6,3.6m1.4,-3.7l3.6,3.6m0,-3.6l-3.6,3.6m1.4,-3.7l3.6,3.6m0,-3.6l-3.6,3.6m1.4,-3.7l3.6,3.6m0,-3.6l-3.6,3.6m1.4,-3.7l3.6,3.6m0,-3.6l-3.6,3.6m1.4,-3.7l3.6,3.6m0,-3.6l-3.6,3.6m1.4,-3.7l3.6,3.6m0,-3.6l-3.6,3.6m1.4,-3.7l3.6,3.6m0,-3.6l-3.6,3.6m1.4,-3.8l3.6,3.6m0,-3.6l-3.6,3.6m1.4,-3.6l3.6,3.6m0,-3.6l-3.6,3.6m1.4,-3.9l3.6,3.6m0,-3.6l-3.6,3.6m1.4,-3.7l3.6,3.6m0,-3.6l-3.6,3.6m1.4,-3.8l3.6,3.6m0,-3.6l-3.6,3.6m1.4,-3.8l3.6,3.6m0,-3.6l-3.6,3.6m1.4,-3.8l3.6,3.6m0,-3.6l-3.6,3.6m1.4,-3.8l3.6,3.6m0,-3.6l-3.6,3.6m1.4,-3.9l3.6,3.6m0,-3.6l-3.6,3.6m1.4,-3.8l3.6,3.6m0,-3.6l-3.6,3.6m1.4,-3.9l3.6,3.6m0,-3.6l-3.6,3.6m1.4,-3.9l3.6,3.6m0,-3.6l-3.6,3.6m1.4,-4.0l3.6,3.6m0,-3.6l-3.6,3.6m1.4,-3.9l3.6,3.6m0,-3.6l-3.6,3.6m1.4,-3.9l3.6,3.6m0,-3.6l-3.6,3.6m1.4,-4.0l3.6,3.6m0,-3.6l-3.6,3.6m1.4,-4.0l3.6,3.6m0,-3.6l-3.6,3.6m1.4,-4.1l3.6,3.6m0,-3.6l-3.6,3.6m1.4,-4.1l3.6,3.6m0,-3.6l-3.6,3.6m1.4,-4.0l3.6,3.6m0,-3.6l-3.6,3.6m1.4,-4.1l3.6,3.6m0,-3.6l-3.6,3.6m1.4,-4.1l3.6,3.6m0,-3.6l-3.6,3.6m1.4,-4.1l3.6,3.6m0,-3.6l-3.6,3.6m1.4,-4.2l3.6,3.6m0,-3.6l-3.6,3.6m1.4,-4.0l3.6,3.6m0,-3.6l-3.6,3.6m1.4,-4.3l3.6,3.6m0,-3.6l-3.6,3.6m1.4,-3.9l3.6,3.6m0,-3.6l-3.6,3.6m1.4,-4.4l3.6,3.6m0,-3.6l-3.6,3.6m1.4,-4.1l3.6,3.6m0,-3.6l-3.6,3.6m1.4,-4.1l3.6,3.6m0,-3.6l-3.6,3.6m1.4,-4.0l3.6,3.6m0,-3.6l-3.6,3.6m1.4,-4.4l3.6,3.6m0,-3.6l-3.6,3.6m1.4,-4.2l3.6,3.6m0,-3.6l-3.6,3.6m1.4,-4.0l3.6,3.6m0,-3.6l-3.6,3.6m1.4,-4.4l3.6,3.6m0,-3.6l-3.6,3.6m1.4,-4.1l3.6,3.6m0,-3.6l-3.6,3.6m1.4,-4.1l3.6,3.6m0,-3.6l-3.6,3.6m1.4,-4.5l3.6,3.6m0,-3.6l-3.6,3.6m1.4,-4.1l3.6,3.6m0,-3.6l-3.6,3.6m1.4,-4.4l3.6,3.6m0,-3.6l-3.6,3.6m1.4,-4.5l3.6,3.6m0,-3.6l-3.6,3.6m1.4,-4.4l3.6,3.6m0,-3.6l-3.6,3.6m1.4,-4.5l3.6,3.6m0,-3.6l-3.6,3.6m1.4,-4.4l3.6,3.6m0,-3.6l-3.6,3.6m1.4,-4.9l3.6,3.6m0,-3.6l-3.6,3.6m1.4,-4.3l3.6,3.6m0,-3.6l-3.6,3.6m1.4,-5.1l3.6,3.6m0,-3.6l-3.6,3.6m1.4,-4.9l3.6,3.6m0,-3.6l-3.6,3.6m1.4,-5.4l3.6,3.6m0,-3.6l-3.6,3.6m1.4,-5.2l3.6,3.6m0,-3.6l-3.6,3.6m1.4,-5.3l3.6,3.6m0,-3.6l-3.6,3.6m1.5,-5.7l3.6,3.6m0,-3.6l-3.6,3.6m1.4,-5.4l3.6,3.6m0,-3.6l-3.6,3.6m1.4,-5.9l3.6,3.6m0,-3.6l-3.6,3.6m1.4,-5.7l3.6,3.6m0,-3.6l-3.6,3.6m1.4,-6.3l3.6,3.6m0,-3.6l-3.6,3.6m1.4,-6.0l3.6,3.6m0,-3.6l-3.6,3.6m1.4,-6.7l3.6,3.6m0,-3.6l-3.6,3.6m1.4,-5.6l3.6,3.6m0,-3.6l-3.6,3.6m1.4,-6.9l3.6,3.6m0,-3.6l-3.6,3.6m1.4,-5.5l3.6,3.6m0,-3.6l-3.6,3.6m1.4,-5.3l3.6,3.6m0,-3.6l-3.6,3.6m1.4,-4.8l3.6,3.6m0,-3.6l-3.6,3.6m1.4,-5.1l3.6,3.6m0,-3.6l-3.6,3.6m1.4,-4.3l3.6,3.6m0,-3.6l-3.6,3.6m1.4,-2.4l3.6,3.6m0,-3.6l-3.6,3.6m1.4,-4.1l3.6,3.6m0,-3.6l-3.6,3.6m1.4,-1.7l3.6,3.6m0,-3.6l-3.6,3.6m1.4,-2.1l3.6,3.6m0,-3.6l-3.6,3.6m1.4,-1.3l3.6,3.6m0,-3.6l-3.6,3.6m1.4,-1.2l3.6,3.6m0,-3.6l-3.6,3.6m1.4,-0.7l3.6,3.6m0,-3.6l-3.6,3.6m1.4,-1.2l3.6,3.6m0,-3.6l-3.6,3.6m1.4,0.2l3.6,3.6m0,-3.6l-3.6,3.6m1.4,-0.9l3.6,3.6m0,-3.6l-3.6,3.6m1.4,-0.7l3.6,3.6m0,-3.6l-3.6,3.6m1.4,-0.6l3.6,3.6m0,-3.6l-3.6,3.6m1.4,-0.7l3.6,3.6m0,-3.6l-3.6,3.6m1.4,-1.1l3.6,3.6m0,-3.6l-3.6,3.6m1.4,-0.8l3.6,3.6m0,-3.6l-3.6,3.6m1.4,-1.4l3.6,3.6m0,-3.6l-3.6,3.6m1.4,-1.5l3.6,3.6m0,-3.6l-3.6,3.6m1.4,-1.7l3.6,3.6m0,-3.6l-3.6,3.6m1.4,-1.6l3.6,3.6m0,-3.6l-3.6,3.6m1.4,-1.9l3.6,3.6m0,-3.6l-3.6,3.6m1.4,-2.1l3.6,3.6m0,-3.6l-3.6,3.6m1.4,-2.0l3.6,3.6m0,-3.6l-3.6,3.6m1.4,-2.4l3.6,3.6m0,-3.6l-3.6,3.6m1.4,-2.3l3.6,3.6m0,-3.6l-3.6,3.6m1.4,-2.6l3.6,3.6m0,-3.6l-3.6,3.6m1.4,-2.5l3.6,3.6m0,-3.6l-3.6,3.6m1.4,-2.7l3.6,3.6m0,-3.6l-3.6,3.6m1.4,-2.8l3.6,3.6m0,-3.6l-3.6,3.6m1.4,-2.8l3.6,3.6m0,-3.6l-3.6,3.6m1.4,-3.0l3.6,3.6m0,-3.6l-3.6,3.6m1.4,-2.8l3.6,3.6m0,-3.6l-3.6,3.6m1.4,-3.1l3.6,3.6m0,-3.6l-3.6,3.6m1.4,-3.0l3.6,3.6m0,-3.6l-3.6,3.6m1.4,-3.1l3.6,3.6m0,-3.6l-3.6,3.6m1.4,-3.2l3.6,3.6m0,-3.6l-3.6,3.6m1.4,-3.2l3.6,3.6m0,-3.6l-3.6,3.6m1.4,-3.2l3.6,3.6m0,-3.6l-3.6,3.6m1.4,-3.3l3.6,3.6m0,-3.6l-3.6,3.6m1.4,-3.2l3.6,3.6m0,-3.6l-3.6,3.6m1.4,-3.3l3.6,3.6m0,-3.6l-3.6,3.6m1.4,-3.4l3.6,3.6m0,-3.6l-3.6,3.6m1.4,-3.4l3.6,3.6m0,-3.6l-3.6,3.6m1.4,-3.4l3.6,3.6m0,-3.6l-3.6,3.6m1.4,-3.3l3.6,3.6m0,-3.6l-3.6,3.6m1.4,-3.4l3.6,3.6m0,-3.6l-3.6,3.6m1.4,-3.5l3.6,3.6m0,-3.6l-3.6,3.6m1.4,-3.5l3.6,3.6m0,-3.6l-3.6,3.6m1.4,-3.4l3.6,3.6m0,-3.6l-3.6,3.6m1.4,-3.5l3.6,3.6m0,-3.6l-3.6,3.6m1.4,-3.5l3.6,3.6m0,-3.6l-3.6,3.6m1.4,-3.5l3.6,3.6m0,-3.6l-3.6,3.6m1.4,-3.5l3.6,3.6m0,-3.6l-3.6,3.6m1.4,-3.5l3.6,3.6m0,-3.6l-3.6,3.6m1.4,-3.6l3.6,3.6m0,-3.6l-3.6,3.6m1.4,-3.5l3.6,3.6m0,-3.6l-3.6,3.6m1.4,-3.5l3.6,3.6m0,-3.6l-3.6,3.6" fill="none" stroke="#2a2a2a" stroke-width="0.75" /><path d="M642.7,379.4L642.7,366.0L644.0,365.6L645.2,365.2L646.5,364.7L647.8,364.2L649.1,363.7L650.3,363.2L651.6,362.7L652.9,362.1L654.2,361.5L655.4,360.8L656.7,360.1L658.0,359.4L659.3,358.7L660.5,357.9L661.8,357.1L663.1,356.2L664.4,355.2L665.6,354.2L666.9,353.2L668.2,352.1L669.5,350.9L670.7,349.6L672.0,348.3L673.3,346.9L674.5,345.4L675.8,343.7L677.1,342.0L678.4,340.2L679.6,338.2L680.9,336.1L682.2,333.8L683.5,331.4L684.7,328.7L686.0,325.9L687.3,322.9L688.6,319.7L689.8,316.2L691.1,312.4L692.4,308.4L693.7,304.0L694.9,299.3L696.2,294.3L697.5,288.9L698.8,283.1L700.0,276.9L701.3,270.2L702.6,263.2L703.9,255.8L705.1,248.0L706.4,239.9L707.7,231.6L708.9,223.1L710.2,214.6L711.5,206.2L712.8,198.1L714.0,190.6L715.3,183.9L716.6,178.2L717.9,173.7L719.1,170.7L720.4,169.3L721.7,169.4L723.0,171.2L724.2,174.5L725.5,179.3L726.8,185.2L728.1,192.1L729.3,199.7L730.6,207.8L731.9,216.3L733.2,224.8L734.4,233.3L735.7,241.6L737.0,249.6L738.2,257.3L739.5,264.7L740.8,271.6L742.1,278.1L743.3,284.3L744.6,290.0L745.9,295.3L747.2,300.3L748.4,304.9L749.7,309.2L751.0,313.2L752.3,316.9L753.5,320.3L754.8,323.5L756.1,326.5L757.4,329.3L758.6,331.9L759.9,334.3L761.2,336.5L762.5,338.6L763.7,340.5L765.0,342.4L766.3,344.1L767.6,345.7L768.8,347.2L770.1,348.6L771.4,349.9L772.6,351.1L773.9,352.3L775.2,353.4L776.5,354.4L777.7,355.4L779.0,356.3L780.3,357.2L781.6,358.1L782.8,358.8L784.1,359.6L785.4,360.3L786.7,361.0L787.9,361.6L789.2,362.2L790.5,362.8L791.8,363.3L793.0,363.8L794.3,364.3L795.6,364.8L796.9,365.3L798.1,365.7L799.4,366.1L800.7,366.5L801.9,366.9L803.2,367.2L804.5,367.6L805.8,367.9L807.0,368.2L808.3,368.6L809.6,368.8L810.9,369.1L812.1,369.4L812.7,379.4L928.8,379.4M642.7,379.4L642.7,372.1L644.0,371.9L645.2,371.7L646.5,371.5L647.8,371.3L649.1,371.0L650.3,370.8L651.6,370.5L652.9,370.3L654.2,370.0L655.4,369.7L656.7,369.4L658.0,369.1L659.3,368.8L660.5,368.4L661.8,368.1L663.1,367.7L664.4,367.3L665.6,366.9L666.9,366.4L668.2,366.0L669.5,365.5L670.7,365.0L672.0,364.4L673.3,363.8L674.5,363.2L675.8,362.6L677.1,361.9L678.4,361.2L679.6,360.5L680.9,359.7L682.2,358.8L683.5,357.9L684.7,356.9L686.0,355.9L687.3,354.8L688.6,353.7L689.8,352.4L691.1,351.1L692.4,349.7L693.7,348.1L694.9,346.5L696.2,344.8L697.5,342.9L698.8,340.9L700.0,338.7L701.3,336.4L702.6,333.9L703.9,331.2L705.1,328.2L706.4,325.1L707.7,321.8L708.9,318.1L710.2,314.2L711.5,310.1L712.8,305.6L714.0,300.9L715.3,295.8L716.6,290.5L717.9,284.8L719.1,279.0L720.4,272.9L721.7,266.7L723.0,260.5L724.2,254.4L725.5,248.5L726.8,242.9L728.1,237.9L729.3,233.6L730.6,230.1L731.9,227.7L733.2,226.4L734.4,226.3L735.7,227.4L737.0,229.6L738.2,232.8L739.5,237.0L740.8,241.9L742.1,247.3L743.3,253.2L744.6,259.3L745.9,265.5L747.2,271.7L748.4,277.8L749.7,283.7L751.0,289.4L752.3,294.8L753.5,299.9L754.8,304.7L756.1,309.2L757.4,313.4L758.6,317.4L759.9,321.1L761.2,324.5L762.5,327.6L763.7,330.6L765.0,333.3L766.3,335.9L767.6,338.2L768.8,340.4L770.1,342.5L771.4,344.4L772.6,346.2L773.9,347.8L775.2,349.4L776.5,350.8L777.7,352.2L779.0,353.4L780.3,354.6L781.6,355.7L782.8,356.7L784.1,357.7L785.4,358.6L786.7,359.5L787.9,360.3L789.2,361.1L790.5,361.8L791.8,362.5L793.0,363.1L794.3,363.7L795.6,364.3L796.9,364.9L798.1,365.4L799.4,365.9L800.7,366.3L801.9,366.8L803.2,367.2L804.5,367.6L805.8,368.0L807.0,368.4L808.3,368.7L809.6,369.0L810.9,369.4L812.1,369.7L813.4,369.9L814.7,370.2L816.0,370.5L817.2,370.7L818.5,371.0L819.8,371.2L821.1,371.5L822.3,371.7L823.6,371.9L824.9,372.1L826.2,372.3L827.4,372.5L828.7,372.6L830.0,372.8L831.3,379.4L928.8,379.4M642.7,379.4L642.7,375.0L644.0,374.8L645.2,374.7L646.5,374.6L647.8,374.5L649.1,374.4L650.3,374.2L651.6,374.1L652.9,374.0L654.2,373.8L655.4,373.7L656.7,373.5L658.0,373.4L659.3,373.2L660.5,373.0L661.8,372.8L663.1,372.7L664.4,372.5L665.6,372.2L666.9,372.0L668.2,371.8L669.5,371.6L670.7,371.3L672.0,371.1L673.3,370.8L674.5,370.5L675.8,370.2L677.1,369.9L678.4,369.6L679.6,369.2L680.9,368.9L682.2,368.5L683.5,368.1L684.7,367.7L686.0,367.2L687.3,366.7L688.6,366.2L689.8,365.7L691.1,365.1L692.4,364.5L693.7,363.9L694.9,363.2L696.2,362.5L697.5,361.8L698.8,361.0L700.0,360.1L701.3,359.2L702.6,358.2L703.9,357.2L705.1,356.1L706.4,354.9L707.7,353.6L708.9,352.2L710.2,350.8L711.5,349.2L712.8,347.5L714.0,345.6L715.3,343.7L716.6,341.6L717.9,339.3L719.1,336.8L720.4,334.2L721.7,331.3L723.0,328.3L724.2,325.0L725.5,321.5L726.8,317.8L728.1,313.8L729.3,309.6L730.6,305.2L731.9,300.6L733.2,295.9L734.4,291.0L735.7,286.2L737.0,281.4L738.2,276.7L739.5,272.4L740.8,268.4L742.1,265.0L743.3,262.3L744.6,260.4L745.9,259.4L747.2,259.3L748.4,260.2L749.7,261.9L751.0,264.4L752.3,267.7L753.5,271.5L754.8,275.8L756.1,280.4L757.4,285.2L758.6,290.1L759.9,294.9L761.2,299.7L762.5,304.3L763.7,308.8L765.0,313.0L766.3,317.0L767.6,320.8L768.8,324.3L770.1,327.7L771.4,330.8L772.6,333.6L773.9,336.3L775.2,338.8L776.5,341.1L777.7,343.3L779.0,345.3L780.3,347.1L781.6,348.8L782.8,350.5L784.1,351.9L785.4,353.3L786.7,354.6L787.9,355.8L789.2,357.0L790.5,358.0L791.8,359.0L793.0,359.9L794.3,360.8L795.6,361.6L796.9,362.4L798.1,363.1L799.4,363.8L800.7,364.4L801.9,365.0L803.2,365.6L804.5,366.1L805.8,366.6L807.0,367.1L808.3,367.6L809.6,368.0L810.9,368.4L812.1,368.8L813.4,369.2L814.7,369.5L816.0,369.8L817.2,370.1L818.5,370.4L819.8,370.7L821.1,371.0L822.3,371.3L823.6,371.5L824.9,371.8L826.2,372.0L827.4,372.2L828.7,372.4L830.0,372.6L831.3,379.4L928.8,379.4M642.7,379.4L642.7,376.6L644.0,376.5L645.2,376.4L646.5,376.4L647.8,376.3L649.1,376.2L650.3,376.2L651.6,376.1L652.9,376.0L654.2,376.0L655.4,375.9L656.7,375.8L658.0,375.7L659.3,375.6L660.5,375.5L661.8,375.4L663.1,375.3L664.4,375.2L665.6,375.1L666.9,375.0L668.2,374.9L669.5,374.8L670.7,374.6L672.0,374.5L673.3,374.4L674.5,374.2L675.8,374.1L677.1,373.9L678.4,373.8L679.6,373.6L680.9,373.4L682.2,373.2L683.5,373.1L684.7,372.9L686.0,372.7L687.3,372.4L688.6,372.2L689.8,372.0L691.1,371.7L692.4,371.4L693.7,371.2L694.9,370.9L696.2,370.6L697.5,370.2L698.8,369.9L700.0,369.5L701.3,369.2L702.6,368.8L703.9,368.3L705.1,367.9L706.4,367.4L707.7,366.9L708.9,366.4L710.2,365.8L711.5,365.2L712.8,364.6L714.0,363.9L715.3,363.1L716.6,362.4L717.9,361.5L719.1,360.6L720.4,359.7L721.7,358.7L723.0,357.6L724.2,356.4L725.5,355.1L726.8,353.8L728.1,352.3L729.3,350.8L730.6,349.1L731.9,347.3L733.2,345.3L734.4,343.2L735.7,340.9L737.0,338.5L738.2,335.9L739.5,333.1L740.8,330.1L742.1,327.0L743.3,323.6L744.6,320.0L745.9,316.3L747.2,312.5L748.4,308.5L749.7,304.6L751.0,300.6L752.3,296.7L753.5,293.0L754.8,289.6L756.1,286.7L757.4,284.2L758.6,282.4L759.9,281.3L761.2,280.9L762.5,281.3L763.7,282.4L765.0,284.2L766.3,286.7L767.6,289.6L768.8,293.0L770.1,296.7L771.4,300.6L772.6,304.6L773.9,308.5L775.2,312.5L776.5,316.3L777.7,320.0L779.0,323.6L780.3,327.0L781.6,330.1L782.8,333.1L784.1,335.9L785.4,338.5L786.7,340.9L787.9,343.2L789.2,345.3L790.5,347.3L791.8,349.1L793.0,350.8L794.3,352.3L795.6,353.8L796.9,355.1L798.1,356.4L799.4,357.6L800.7,358.7L801.9,359.7L803.2,360.6L804.5,361.5L805.8,362.4L807.0,363.1L808.3,363.9L809.6,364.6L810.9,365.2L812.1,365.8L813.4,366.4L814.7,366.9L816.0,367.4L817.2,367.9L818.5,368.3L819.8,368.8L821.1,369.2L822.3,369.5L823.6,369.9L824.9,370.2L826.2,370.6L827.4,370.9L828.7,371.2L830.0,371.4L831.3,371.7L832.5,372.0L833.8,372.2L835.1,372.4L836.3,372.7L837.6,372.9L838.9,373.1L840.2,373.2L841.4,373.4L842.7,373.6L844.0,373.8L845.3,373.9L846.5,374.1L847.8,374.2L849.1,374.4L850.4,374.5L851.6,374.6L852.9,374.8L854.2,374.9L855.5,375.0L856.7,375.1L858.0,375.2L859.3,375.3L860.6,375.4L861.8,375.5L863.1,375.6L864.4,375.7L865.6,375.8L865.9,379.4L928.8,379.4M642.7,379.4L642.7,377.5L644.0,377.4L645.2,377.4L646.5,377.3L647.8,377.3L649.1,377.3L650.3,377.2L651.6,377.2L652.9,377.1L654.2,377.1L655.4,377.0L656.7,377.0L658.0,376.9L659.3,376.9L660.5,376.8L661.8,376.8L663.1,376.7L664.4,376.7L665.6,376.6L666.9,376.5L668.2,376.5L669.5,376.4L670.7,376.3L672.0,376.2L673.3,376.2L674.5,376.1L675.8,376.0L677.1,375.9L678.4,375.8L679.6,375.7L680.9,375.6L682.2,375.5L683.5,375.4L684.7,375.3L686.0,375.2L687.3,375.1L688.6,375.0L689.8,374.9L691.1,374.7L692.4,374.6L693.7,374.4L694.9,374.3L696.2,374.1L697.5,374.0L698.8,373.8L700.0,373.6L701.3,373.4L702.6,373.2L703.9,373.0L705.1,372.8L706.4,372.6L707.7,372.3L708.9,372.1L710.2,371.8L711.5,371.5L712.8,371.2L714.0,370.9L715.3,370.6L716.6,370.2L717.9,369.9L719.1,369.5L720.4,369.1L721.7,368.6L723.0,368.2L724.2,367.7L725.5,367.1L726.8,366.6L728.1,366.0L729.3,365.3L730.6,364.7L731.9,363.9L733.2,363.1L734.4,362.3L735.7,361.4L737.0,360.5L738.2,359.4L739.5,358.3L740.8,357.1L742.1,355.8L743.3,354.5L744.6,353.0L745.9,351.4L747.2,349.7L748.4,347.8L749.7,345.8L751.0,343.7L752.3,341.4L753.5,339.0L754.8,336.4L756.1,333.6L757.4,330.7L758.6,327.6L759.9,324.4L761.2,321.1L762.5,317.8L763.7,314.4L765.0,311.1L766.3,307.9L767.6,305.0L768.8,302.3L770.1,300.1L771.4,298.3L772.6,297.1L773.9,296.5L775.2,296.6L776.5,297.3L777.7,298.6L779.0,300.5L780.3,302.8L781.6,305.5L782.8,308.5L784.1,311.8L785.4,315.1L786.7,318.4L787.9,321.8L789.2,325.1L790.5,328.2L791.8,331.3L793.0,334.2L794.3,336.9L795.6,339.5L796.9,341.9L798.1,344.1L799.4,346.2L800.7,348.2L801.9,350.0L803.2,351.7L804.5,353.3L805.8,354.8L807.0,356.1L808.3,357.4L809.6,358.5L810.9,359.6L812.1,360.7L813.4,361.6L814.7,362.5L816.0,363.3L817.2,364.1L818.5,364.8L819.8,365.5L821.1,366.1L822.3,366.7L823.6,367.2L824.9,367.8L826.2,368.3L827.4,368.7L828.7,369.2L830.0,369.6L831.3,369.9L832.5,370.3L833.8,370.7L835.1,371.0L836.3,371.3L837.6,371.6L838.9,371.9L840.2,372.1L841.4,372.4L842.7,372.6L844.0,372.8L845.3,373.1L846.5,373.3L847.8,373.5L849.1,373.6L850.4,373.8L851.6,374.0L852.9,374.2L854.2,374.3L855.5,374.5L856.7,374.6L858.0,374.7L859.3,374.9L860.6,375.0L861.8,375.1L863.1,375.2L864.4,375.3L865.6,375.5L865.9,379.4L928.8,379.4M642.7,379.4L642.7,378.0L644.0,377.9L645.2,377.9L646.5,377.9L647.8,377.8L649.1,377.8L650.3,377.8L651.6,377.8L652.9,377.7L654.2,377.7L655.4,377.7L656.7,377.6L658.0,377.6L659.3,377.6L660.5,377.5L661.8,377.5L663.1,377.5L664.4,377.4L665.6,377.4L666.9,377.3L668.2,377.3L669.5,377.2L670.7,377.2L672.0,377.2L673.3,377.1L674.5,377.1L675.8,377.0L677.1,376.9L678.4,376.9L679.6,376.8L680.9,376.8L682.2,376.7L683.5,376.6L684.7,376.6L686.0,376.5L687.3,376.4L688.6,376.4L689.8,376.3L691.1,376.2L692.4,376.1L693.7,376.0L694.9,376.0L696.2,375.9L697.5,375.8L698.8,375.7L700.0,375.6L701.3,375.4L702.6,375.3L703.9,375.2L705.1,375.1L706.4,375.0L707.7,374.8L708.9,374.7L710.2,374.5L711.5,374.4L712.8,374.2L714.0,374.1L715.3,373.9L716.6,373.7L717.9,373.5L719.1,373.3L720.4,373.1L721.7,372.9L723.0,372.6L724.2,372.4L725.5,372.1L726.8,371.8L728.1,371.5L729.3,371.2L730.6,370.9L731.9,370.5L733.2,370.2L734.4,369.8L735.7,369.4L737.0,368.9L738.2,368.4L739.5,367.9L740.8,367.4L742.1,366.8L743.3,366.2L744.6,365.6L745.9,364.9L747.2,364.1L748.4,363.3L749.7,362.5L751.0,361.6L752.3,360.6L753.5,359.5L754.8,358.4L756.1,357.1L757.4,355.8L758.6,354.4L759.9,352.8L761.2,351.2L762.5,349.4L763.7,347.5L765.0,345.5L766.3,343.3L767.6,341.0L768.8,338.5L770.1,335.9L771.4,333.1L772.6,330.3L773.9,327.3L775.2,324.4L776.5,321.4L777.7,318.4L779.0,315.6L780.3,312.9L781.6,310.6L782.8,308.6L784.1,307.0L785.4,305.9L786.7,305.4L787.9,305.5L789.2,306.1L790.5,307.3L791.8,308.9L793.0,311.0L794.3,313.4L795.6,316.1L796.9,319.0L798.1,321.9L799.4,325.0L800.7,327.9L801.9,330.9L803.2,333.7L804.5,336.4L805.8,339.0L807.0,341.4L808.3,343.7L809.6,345.9L810.9,347.9L812.1,349.8L813.4,351.5L814.7,353.2L816.0,354.7L817.2,356.1L818.5,357.4L819.8,358.6L821.1,359.7L822.3,360.8L823.6,361.7L824.9,362.7L826.2,363.5L827.4,364.3L828.7,365.0L830.0,365.7L831.3,366.4L832.5,367.0L833.8,367.5L835.1,368.0L836.3,368.5L837.6,369.0L838.9,369.4L840.2,369.9L841.4,370.2L842.7,370.6L844.0,371.0L845.3,371.3L846.5,371.6L847.8,371.9L849.1,372.2L850.4,372.4L851.6,372.7L852.9,372.9L854.2,373.1L855.5,373.3L856.7,373.5L858.0,373.7L859.3,373.9L860.6,374.1L861.8,374.3L863.1,374.4L864.4,374.6L865.6,374.7L866.9,374.9L868.2,375.0L869.5,375.1L870.7,375.2L872.0,375.4L873.3,375.5L874.6,375.6L875.8,375.7L877.1,375.8L878.4,375.9L879.7,376.0L880.9,376.1L882.2,376.1L883.5,376.2L884.8,376.3L886.0,376.4L887.1,379.4L928.8,379.4M642.7,379.4L642.7,378.3L644.0,378.3L645.2,378.3L646.5,378.2L647.8,378.2L649.1,378.2L650.3,378.2L651.6,378.2L652.9,378.1L654.2,378.1L655.4,378.1L656.7,378.1L658.0,378.1L659.3,378.0L660.5,378.0L661.8,378.0L663.1,378.0L664.4,377.9L665.6,377.9L666.9,377.9L668.2,377.8L669.5,377.8L670.7,377.8L672.0,377.7L673.3,377.7L674.5,377.7L675.8,377.6L677.1,377.6L678.4,377.6L679.6,377.5L680.9,377.5L682.2,377.5L683.5,377.4L684.7,377.4L686.0,377.3L687.3,377.3L688.6,377.2L689.8,377.2L691.1,377.1L692.4,377.1L693.7,377.0L694.9,377.0L696.2,376.9L697.5,376.9L698.8,376.8L700.0,376.7L701.3,376.7L702.6,376.6L703.9,376.5L705.1,376.5L706.4,376.4L707.7,376.3L708.9,376.2L710.2,376.1L711.5,376.0L712.8,375.9L714.0,375.8L715.3,375.7L716.6,375.6L717.9,375.5L719.1,375.4L720.4,375.3L721.7,375.2L723.0,375.0L724.2,374.9L725.5,374.7L726.8,374.6L728.1,374.4L729.3,374.3L730.6,374.1L731.9,373.9L733.2,373.7L734.4,373.5L735.7,373.3L737.0,373.1L738.2,372.8L739.5,372.6L740.8,372.3L742.1,372.0L743.3,371.7L744.6,371.4L745.9,371.1L747.2,370.7L748.4,370.4L749.7,370.0L751.0,369.5L752.3,369.1L753.5,368.6L754.8,368.1L756.1,367.5L757.4,367.0L758.6,366.3L759.9,365.7L761.2,364.9L762.5,364.2L763.7,363.3L765.0,362.4L766.3,361.5L767.6,360.5L768.8,359.3L770.1,358.2L771.4,356.9L772.6,355.5L773.9,354.0L775.2,352.4L776.5,350.7L777.7,348.8L779.0,346.9L780.3,344.8L781.6,342.6L782.8,340.2L784.1,337.7L785.4,335.2L786.7,332.5L787.9,329.8L789.2,327.1L790.5,324.5L791.8,321.9L793.0,319.5L794.3,317.4L795.6,315.6L796.9,314.2L798.1,313.2L799.4,312.8L800.7,312.8L801.9,313.4L803.2,314.4L804.5,315.9L805.8,317.8L807.0,320.0L808.3,322.4L809.6,325.0L810.9,327.7L812.1,330.4L813.4,333.1L814.7,335.7L816.0,338.2L817.2,340.7L818.5,343.0L819.8,345.2L821.1,347.3L822.3,349.2L823.6,351.0L824.9,352.7L826.2,354.3L827.4,355.8L828.7,357.1L830.0,358.4L831.3,359.6L832.5,360.7L833.8,361.7L835.1,362.6L836.3,363.5L837.6,364.3L838.9,365.1L840.2,365.8L841.4,366.5L842.7,367.1L844.0,367.7L845.3,368.2L846.5,368.7L847.8,369.2L849.1,369.6L850.4,370.0L851.6,370.4L852.9,370.8L854.2,371.2L855.5,371.5L856.7,371.8L858.0,372.1L859.3,372.4L860.6,372.6L861.8,372.9L863.1,373.1L864.4,373.3L865.6,373.6L866.9,373.8L868.2,373.9L869.5,374.1L870.7,374.3L872.0,374.5L873.3,374.6L874.6,374.8L875.8,374.9L877.1,375.1L878.4,375.2L879.7,375.3L880.9,375.4L882.2,375.5L883.5,375.7L884.8,375.8L886.0,375.9L887.1,379.4L928.8,379.4M642.7,379.4L642.7,378.5L644.0,378.5L645.2,378.5L646.5,378.5L647.8,378.5L649.1,378.5L650.3,378.4L651.6,378.4L652.9,378.4L654.2,378.4L655.4,378.4L656.7,378.4L658.0,378.3L659.3,378.3L660.5,378.3L661.8,378.3L663.1,378.3L664.4,378.3L665.6,378.2L666.9,378.2L668.2,378.2L669.5,378.2L670.7,378.2L672.0,378.1L673.3,378.1L674.5,378.1L675.8,378.1L677.1,378.0L678.4,378.0L679.6,378.0L680.9,378.0L682.2,377.9L683.5,377.9L684.7,377.9L686.0,377.8L687.3,377.8L688.6,377.8L689.8,377.8L691.1,377.7L692.4,377.7L693.7,377.6L694.9,377.6L696.2,377.6L697.5,377.5L698.8,377.5L700.0,377.4L701.3,377.4L702.6,377.4L703.9,377.3L705.1,377.3L706.4,377.2L707.7,377.2L708.9,377.1L710.2,377.1L711.5,377.0L712.8,376.9L714.0,376.9L715.3,376.8L716.6,376.8L717.9,376.7L719.1,376.6L720.4,376.5L721.7,376.5L723.0,376.4L724.2,376.3L725.5,376.2L726.8,376.1L728.1,376.0L729.3,375.9L730.6,375.8L731.9,375.7L733.2,375.6L734.4,375.5L735.7,375.4L737.0,375.3L738.2,375.1L739.5,375.0L740.8,374.8L742.1,374.7L743.3,374.5L744.6,374.4L745.9,374.2L747.2,374.0L748.4,373.8L749.7,373.6L751.0,373.4L752.3,373.1L753.5,372.9L754.8,372.7L756.1,372.4L757.4,372.1L758.6,371.8L759.9,371.5L761.2,371.1L762.5,370.8L763.7,370.4L765.0,370.0L766.3,369.5L767.6,369.1L768.8,368.6L770.1,368.0L771.4,367.5L772.6,366.9L773.9,366.2L775.2,365.5L776.5,364.8L777.7,364.0L779.0,363.1L780.3,362.2L781.6,361.2L782.8,360.1L784.1,358.9L785.4,357.7L786.7,356.3L787.9,354.9L789.2,353.3L790.5,351.7L791.8,349.9L793.0,348.0L794.3,346.0L795.6,343.8L796.9,341.6L798.1,339.2L799.4,336.8L800.7,334.3L801.9,331.8L803.2,329.3L804.5,326.9L805.8,324.6L807.0,322.5L808.3,320.7L809.6,319.2L810.9,318.1L812.1,317.5L813.4,317.4L814.7,317.7L816.0,318.5L817.2,319.8L818.5,321.4L819.8,323.3L821.1,325.5L822.3,327.8L823.6,330.3L824.9,332.8L826.2,335.3L827.4,337.8L828.7,340.2L830.0,342.5L831.3,344.7L832.5,346.8L833.8,348.8L835.1,350.6L836.3,352.4L837.6,354.0L838.9,355.5L840.2,356.9L841.4,358.2L842.7,359.4L844.0,360.5L845.3,361.6L846.5,362.5L847.8,363.5L849.1,364.3L850.4,365.1L851.6,365.8L852.9,366.5L854.2,367.1L855.5,367.7L856.7,368.3L858.0,368.8L859.3,369.3L860.6,369.7L861.8,370.1L863.1,370.5L864.4,370.9L865.6,371.3L866.9,371.6L868.2,371.9L869.5,372.2L870.7,372.5L872.0,372.8L873.3,373.0L874.6,373.2L875.8,373.5L877.1,373.7L878.4,373.9L879.7,374.1L880.9,374.3L882.2,374.4L883.5,374.6L884.8,374.7L886.0,374.9L887.1,379.4L928.8,379.4M887.1,377.0L928.8,377.6M887.1,378.2L928.8,378.5" fill="none" stroke="#3c3cf5" stroke-width="1.05" stroke-linejoin="round"/><path d="M623.1,378.8L624.4,378.8L625.6,378.8L626.9,378.8L628.2,378.8L629.4,378.8L630.7,378.8L632.0,378.8L633.3,378.8L634.5,378.8L635.8,378.8L637.1,378.8L638.4,378.8L639.6,378.7L640.9,378.7L642.2,378.7L643.5,378.7L644.7,378.7L646.0,378.7L647.3,378.7L648.6,378.7L649.8,378.7L651.1,378.7L652.4,378.7L653.7,378.7L654.9,378.6L656.2,378.6L657.5,378.6L658.8,378.6L660.0,378.6L661.3,378.6L662.6,378.6L663.8,378.6L665.1,378.6L666.4,378.6L667.7,378.5L668.9,378.5L670.2,378.5L671.5,378.5L672.8,378.5L674.0,378.5L675.3,378.5L676.6,378.5L677.9,378.4L679.1,378.4L680.4,378.4L681.7,378.4L683.0,378.4L684.2,378.4L685.5,378.3L686.8,378.3L688.1,378.3L689.3,378.3L690.6,378.3L691.9,378.3L693.1,378.2L694.4,378.2L695.7,378.2L697.0,378.2L698.2,378.2L699.5,378.2L700.8,378.1L702.1,378.1L703.3,378.1L704.6,378.1L705.9,378.0L707.2,378.0L708.4,378.0L709.7,378.0L711.0,377.9L712.3,377.9L713.5,377.9L714.8,377.9L716.1,377.8L717.4,377.8L718.6,377.8L719.9,377.7L721.2,377.7L722.5,377.7L723.7,377.7L725.0,377.6L726.3,377.6L727.5,377.5L728.8,377.5L730.1,377.5L731.4,377.4L732.6,377.4L733.9,377.3L735.2,377.3L736.5,377.3L737.7,377.2L739.0,377.2L740.3,377.1L741.6,377.1L742.8,377.0L744.1,377.0L745.4,376.9L746.7,376.8L747.9,376.8L749.2,376.7L750.5,376.7L751.8,376.6L753.0,376.5L754.3,376.5L755.6,376.4L756.9,376.3L758.1,376.2L759.4,376.1L760.7,376.1L761.9,376.0L763.2,375.9L764.5,375.8L765.8,375.7L767.0,375.6L768.3,375.5L769.6,375.3L770.9,375.2L772.1,375.1L773.4,375.0L774.7,374.8L776.0,374.7L777.2,374.5L778.5,374.4L779.8,374.2L781.1,374.1L782.3,373.9L783.6,373.7L784.9,373.5L786.2,373.3L787.4,373.1L788.7,372.8L790.0,372.6L791.2,372.3L792.5,372.1L793.8,371.8L795.1,371.5L796.3,371.2L797.6,370.8L798.9,370.5L800.2,370.1L801.4,369.7L802.7,369.3L804.0,368.9L805.3,368.4L806.5,367.9L807.8,367.3L809.1,366.8L810.4,366.1L811.6,365.5L812.9,364.8L814.2,364.1L815.5,363.3L816.7,362.4L818.0,361.5L819.3,360.5L820.5,359.5L821.8,358.4L823.1,357.2L824.4,355.9L825.6,354.5L826.9,353.0L828.2,351.5L829.5,349.8L830.7,348.0L832.0,346.1L833.3,344.2L834.6,342.1L835.8,339.9L837.1,337.7L838.4,335.4L839.7,333.0L840.9,330.7L842.2,328.4L843.5,326.2L844.8,324.1L846.0,322.2L847.3,320.6L848.6,319.2L849.9,318.2L851.1,317.6L852.4,317.4L853.7,317.5L854.9,318.0L856.2,318.8L857.5,319.9L858.8,321.3L860.0,322.9L861.3,324.6L862.6,326.5L863.9,328.5L865.1,330.6L866.4,332.7L867.7,334.8L869.0,336.9L870.2,338.9L871.5,340.9L872.8,342.8L874.1,344.6L875.3,346.4L876.6,348.1L877.9,349.6L879.2,351.2L880.4,352.6L881.7,353.9L883.0,355.2L884.2,356.4L885.5,357.5L886.8,358.6L888.1,359.6L889.3,360.5L890.6,361.4L891.9,362.2L893.2,363.0L894.4,363.7L895.7,364.4L897.0,365.1L898.3,365.7L899.5,366.2L900.8,366.8L902.1,367.3L903.4,367.8L904.6,368.2L905.9,368.7L907.2,369.1L908.5,369.5L909.7,369.8L911.0,370.2L912.3,370.5L913.6,370.8L914.8,371.1L916.1,371.4L917.4,371.7L918.6,372.0L919.9,372.2L921.2,372.4L922.5,372.7L923.7,372.9L925.0,373.1L926.3,373.3L927.6,373.5L928.8,373.6" fill="none" stroke="#000" stroke-width="1.4" /><path d="M623.1,379.4L623.1,378.9L624.4,378.8L625.6,378.8L626.9,378.8L628.2,378.8L629.4,378.8L630.7,378.8L632.0,378.8L633.3,378.8L634.5,378.8L635.8,378.8L637.1,378.8L638.4,378.8L639.6,378.8L640.9,378.8L642.2,378.8L643.5,378.7L644.7,378.7L646.0,378.7L647.3,378.7L648.6,378.7L649.8,378.7L651.1,378.7L652.4,378.7L653.7,378.7L654.9,378.7L656.2,378.7L657.5,378.6L658.8,378.6L660.0,378.6L661.3,378.6L662.6,378.6L663.8,378.6L665.1,378.6L666.4,378.6L667.7,378.6L668.9,378.6L670.2,378.5L671.5,378.5L672.8,378.5L674.0,378.5L675.3,378.5L676.6,378.5L677.9,378.5L679.1,378.5L680.4,378.4L681.7,378.4L683.0,378.4L684.2,378.4L685.5,378.4L686.8,378.4L688.1,378.3L689.3,378.3L690.6,378.3L691.9,378.3L693.1,378.3L694.4,378.3L695.7,378.2L697.0,378.2L698.2,378.2L699.5,378.2L700.8,378.2L702.1,378.1L703.3,378.1L704.6,378.1L705.9,378.1L707.2,378.1L708.4,378.0L709.7,378.0L711.0,378.0L712.3,378.0L713.5,377.9L714.8,377.9L716.1,377.9L717.4,377.9L718.6,377.8L719.9,377.8L721.2,377.8L722.5,377.7L723.7,377.7L725.0,377.7L726.3,377.6L727.5,377.6L728.8,377.6L730.1,377.5L731.4,377.5L732.6,377.5L733.9,377.4L735.2,377.4L736.5,377.3L737.7,377.3L739.0,377.2L740.3,377.2L741.6,377.1L742.8,377.1L744.1,377.0L745.4,377.0L746.7,376.9L747.9,376.9L749.2,376.8L750.5,376.7L751.8,376.7L753.0,376.6L754.3,376.5L755.6,376.5L756.9,376.4L758.1,376.3L759.4,376.2L760.7,376.2L761.9,376.1L763.2,376.0L764.5,375.9L765.8,375.8L767.0,375.7L768.3,375.6L769.6,375.5L770.9,375.3L772.1,375.2L773.4,375.1L774.7,375.0L776.0,374.8L777.2,374.7L778.5,374.5L779.8,374.4L781.1,374.2L782.3,374.0L783.6,373.9L784.9,373.7L786.2,373.5L787.4,373.3L788.7,373.0L790.0,372.8L791.2,372.6L792.5,372.3L793.8,372.0L795.1,371.7L796.3,371.4L797.6,371.1L798.9,370.8L800.2,370.4L801.4,370.0L802.7,369.6L804.0,369.2L805.3,368.7L806.5,368.2L807.8,367.7L809.1,367.1L810.4,366.5L811.6,365.9L812.9,365.2L814.2,364.5L815.5,363.7L816.7,362.9L818.0,362.0L819.3,361.1L820.5,360.1L821.8,359.0L823.1,357.8L824.4,356.6L825.6,355.2L826.9,353.8L828.2,352.3L829.5,350.7L830.7,349.0L832.0,347.1L833.3,345.2L834.6,343.2L835.8,341.1L837.1,341.8L838.6,349.4L841.4,379.4L860.3,379.4L862.6,347.9L864.1,346.7L865.1,353.1L866.8,341.8L867.7,341.9L869.0,343.7L870.2,345.4L871.5,347.0L872.8,348.6L874.1,350.2L875.3,351.7L876.6,353.1L877.9,354.4L879.2,355.7L880.4,356.9L881.7,358.0L883.0,359.1L884.2,360.1L885.5,361.0L886.8,361.9L888.1,362.7L889.3,363.5L890.6,364.3L891.9,365.0L893.2,365.6L894.4,366.2L895.7,366.8L897.0,367.3L898.3,367.9L899.5,368.3L900.8,368.8L902.1,369.2L903.4,369.6L904.6,370.0L905.9,370.4L907.2,370.7L908.5,371.1L909.7,371.4L911.0,371.7L912.3,371.9L913.6,372.2L914.8,372.5L916.1,372.7L917.4,372.9L918.6,373.1L919.9,373.4L921.2,373.6L922.5,373.7L923.7,373.9L925.0,374.1L926.3,374.3L927.6,374.4L928.8,374.6" fill="none" stroke="#f00000" stroke-width="1.6" stroke-linejoin="round"/></g><rect x="823.6" y="130.4" width="151" height="87.2" fill="#fff" stroke="#999" stroke-width="0.9" /><path d="M841.2,140.5l3.6,3.6m0,-3.6l-3.6,3.6" stroke="#777" stroke-width="0.8"/><line x1="825" y1="163.4" x2="861" y2="163.4" stroke="#5050ff" stroke-width="1.2" /><line x1="825" y1="184.8" x2="861" y2="184.8" stroke="#000" stroke-width="1.3" /><line x1="825" y1="205.6" x2="861" y2="205.6" stroke="#f00" stroke-width="1.5" /><text x="865.6" y="148.4" font-size="15.8" class="b" textLength="96.4" lengthAdjust="spacingAndGlyphs">Measurement</text><text x="865.6" y="169.4" font-size="15.8" text-anchor="start" fill="#000" class="b">Fitting</text><text x="865.6" y="190.6" font-size="15.8" class="b" textLength="104.9" lengthAdjust="spacingAndGlyphs">Reconstruction</text><text x="865.6" y="211.4" font-size="15.8" text-anchor="start" fill="#000" class="b">Original</text></g><rect x="563.3" y="128.7" width="411.4" height="314.9" fill="none" stroke="#000" stroke-width="3" rx="1.2"/><rect x="562.1" y="480.6" width="414.4" height="221.2" fill="#fff" stroke="#000" stroke-width="3" rx="1.2"/><line x1="626" y1="506.3" x2="626" y2="645.3" stroke="#555" stroke-width="0.8" /><line x1="620.5" y1="645.3" x2="626" y2="645.3" stroke="#555" stroke-width="0.8" /><line x1="623.2" y1="627.99" x2="626" y2="627.99" stroke="#555" stroke-width="0.8" /><line x1="620.5" y1="610.67" x2="626" y2="610.67" stroke="#555" stroke-width="0.8" /><line x1="623.2" y1="593.36" x2="626" y2="593.36" stroke="#555" stroke-width="0.8" /><line x1="620.5" y1="576.05" x2="626" y2="576.05" stroke="#555" stroke-width="0.8" /><line x1="623.2" y1="558.74" x2="626" y2="558.74" stroke="#555" stroke-width="0.8" /><line x1="620.5" y1="541.42" x2="626" y2="541.42" stroke="#555" stroke-width="0.8" /><line x1="623.2" y1="524.11" x2="626" y2="524.11" stroke="#555" stroke-width="0.8" /><line x1="620.5" y1="506.8" x2="626" y2="506.8" stroke="#555" stroke-width="0.8" /><text x="615.9" y="651.2" font-size="18.8" text-anchor="end" fill="#000" class="b">0.0</text><text x="615.9" y="616.57" font-size="18.8" text-anchor="end" fill="#000" class="b">0.3</text><text x="615.9" y="581.95" font-size="18.8" text-anchor="end" fill="#000" class="b">0.6</text><text x="615.9" y="547.32" font-size="18.8" text-anchor="end" fill="#000" class="b">0.9</text><text x="615.9" y="512.7" font-size="18.8" text-anchor="end" fill="#000" class="b">1.2</text><text x="582.4" y="572.5" font-size="18.4" class="b" text-anchor="middle" transform="rotate(-90 582.4 572.5)">BRDF[1/sr]</text><g transform="translate(796.5,645.3) scale(1.028,1) translate(-796.5,-645.3)"><path d="M779.19,645.3A17.31,17.31 0 0 1 813.81,645.3M744.56,645.3A51.94,51.94 0 0 1 848.44,645.3M709.94,645.3A86.56,86.56 0 0 1 883.06,645.3M675.31,645.3A121.19,121.19 0 0 1 917.69,645.3M796.5,645.3L930.28,609.45M796.5,645.3L894.43,547.37M796.5,645.3L832.35,511.52M796.5,645.3L760.65,511.52M796.5,645.3L698.57,547.37M796.5,645.3L662.72,609.45" fill="none" stroke="#c8c8c8" stroke-width="0.7" stroke-dasharray="1.2 1.6"/><path d="M761.88,645.3A34.62,34.62 0 0 1 831.12,645.3M727.25,645.3A69.25,69.25 0 0 1 865.75,645.3M692.62,645.3A103.88,103.88 0 0 1 900.38,645.3M796.5,645.3L916.44,576.05M796.5,645.3L865.75,525.36M796.5,645.3L796.5,506.8M796.5,645.3L727.25,525.36M796.5,645.3L676.56,576.05" fill="none" stroke="#8a8a8a" stroke-width="0.75" /><path d="M935,645.3L931,645.3M932.9,621.25L930.43,621.68M926.65,597.93L924.3,598.79M916.44,576.05L912.98,578.05M902.6,556.27L900.68,557.88M885.53,539.2L883.92,541.12M865.75,525.36L863.75,528.82M843.87,515.15L843.01,517.5M820.55,508.9L820.12,511.37M796.5,506.8L796.5,510.8M772.45,508.9L772.88,511.37M749.13,515.15L749.99,517.5M727.25,525.36L729.25,528.82M707.47,539.2L709.08,541.12M690.4,556.27L692.32,557.88M676.56,576.05L680.02,578.05M666.35,597.93L668.7,598.79M660.1,621.25L662.57,621.68M658,645.3L662,645.3" fill="none" stroke="#777" stroke-width="0.7" /><path d="M658,645.3A138.5,138.5 0 0 1 935,645.3" fill="none" stroke="#444" stroke-width="0.9" /><line x1="658" y1="645.3" x2="935" y2="645.3" stroke="#999" stroke-width="0.9" /></g><text x="796.8" y="496.7" font-size="18.8" text-anchor="middle" fill="#000" class="b">0</text><text x="711.7" y="516.8" font-size="18.8" text-anchor="middle" fill="#000" class="b">30</text><text x="884.8" y="516.7" font-size="18.8" text-anchor="middle" fill="#000" class="b">-30</text><text x="657.7" y="569.3" font-size="18.8" text-anchor="middle" fill="#000" class="b">60</text><text x="938.8" y="569.3" font-size="18.8" text-anchor="middle" fill="#000" class="b">-60</text><text x="637.6" y="652" font-size="18.8" text-anchor="middle" fill="#000" class="b">90</text><text x="958.8" y="652" font-size="18.8" text-anchor="middle" fill="#000" class="b">-90</text><path d="M796.5,645.3L796.5,645.2L796.5,645.2L796.5,645.1L796.4,645.0L796.4,644.8L796.3,644.5L796.3,644.0L796.2,643.4L796.0,642.4L795.8,641.1L795.6,639.4L795.3,637.0L795.0,634.0L794.6,630.2L794.2,625.5L793.8,619.9L793.4,613.3L793.0,605.8L792.7,597.4L792.5,588.5L792.5,579.3L792.6,570.1L792.8,561.3L793.3,553.4L793.9,546.7L794.7,541.6L795.6,538.5L796.5,537.4L797.4,538.5L798.3,541.6L799.1,546.7L799.7,553.4L800.2,561.3L800.4,570.1L800.5,579.3L800.5,588.5L800.3,597.4L800.0,605.8L799.6,613.3L799.2,619.9L798.8,625.5L798.4,630.2L798.0,634.0L797.7,637.0L797.4,639.4L797.2,641.1L797.0,642.4L796.8,643.4L796.7,644.0L796.7,644.5L796.6,644.8L796.6,645.0L796.5,645.1L796.5,645.2L796.5,645.2L796.5,645.3Z" fill="none" stroke="#000" stroke-width="1.5" /><path d="M796.5,645.3L791.1,529L802.3,529Z" fill="#f25c5c" stroke="none" stroke-width="1" fill-opacity="0.72"/><line x1="701.6" y1="664.4" x2="742.6" y2="664.4" stroke="#000" stroke-width="1.4" /><rect x="702.2" y="677.3" width="40.4" height="18.6" fill="#ff8080" stroke="none" stroke-width="1" /><text x="749" y="670.6" font-size="18" class="b" textLength="123.4" lengthAdjust="spacingAndGlyphs">Reconstruction</text><text x="749" y="692.8" font-size="18" class="b" textLength="141.9" lengthAdjust="spacingAndGlyphs">Acceptance cone</text><rect x="1008.7" y="185.8" width="321" height="452.7" fill="#fff" stroke="#000" stroke-width="3" rx="1.2"/><g><path d="M1018.7,416.6V318.4H1051.8V376.9H1096V318.4H1129V376.9H1205.7" fill="none" stroke="#575757" stroke-width="1.1" /><path d="M1018.7,416.6H1205.7" fill="none" stroke="#575757" stroke-width="1.1" /><path d="M1205.7,270.3H1283.2V551.5L1269.6,587.6H1221.6L1205.7,551.5Z" fill="none" stroke="#575757" stroke-width="1.1" /><path d="M1235.8,270.3V199.9H1255.6V270.3" fill="none" stroke="#575757" stroke-width="1.1" /><path d="M1172.9,629.8H1327" fill="none" stroke="#575757" stroke-width="1.4" /><path d="M1035.6,318.4L1040.9,351V392.2H1107.7V349.3L1112.8,318.4L1117.8,349.3V392.2H1252V551.5L1245.5,627.6L1239.4,551.5V403.6H1030.4V351Z" fill="#8064a2" stroke="none" stroke-width="1" fill-opacity="0.71"/><line x1="1245.5" y1="187" x2="1245.5" y2="551" stroke="#444" stroke-width="0.8" stroke-dasharray="5 1.6 1.2 1.6"/><line x1="1024.2" y1="398" x2="1283" y2="398" stroke="#444" stroke-width="0.8" stroke-dasharray="5 1.6 1.2 1.6"/><line x1="1035.8" y1="318.4" x2="1035.8" y2="407" stroke="#444" stroke-width="0.8" stroke-dasharray="5 1.6 1.2 1.6"/><line x1="1112.8" y1="318.4" x2="1112.8" y2="412" stroke="#444" stroke-width="0.8" stroke-dasharray="5 1.6 1.2 1.6"/><path d="M1030.4,356H1041.4L1035.8,364.9Z" fill="#ff0000" stroke="none" stroke-width="1" /><path d="M1107.7,368.5H1117.8L1112.8,360.2Z" fill="#31859c" stroke="none" stroke-width="1" /><path d="M1143,392.5V403.6L1151.8,398Z" fill="#ff0000" stroke="none" stroke-width="1" /><path d="M1190.9,392.5V403.6L1182,398Z" fill="#31859c" stroke="none" stroke-width="1" /><path d="M1239.5,435.4H1251.8L1245.5,425Z" fill="#31859c" stroke="none" stroke-width="1" /><path d="M1239.4,496.1H1252.3L1245.5,507Z" fill="#ff0000" stroke="none" stroke-width="1" /><text x="1035.4" y="314.8" font-size="12.8" text-anchor="middle" fill="#111" >(1)</text><text x="1112.3" y="314.8" font-size="12.8" text-anchor="middle" fill="#111" >(5)</text><text x="1079.3" y="390.5" font-size="12.8" text-anchor="middle" fill="#111" >(2)</text><text x="1258.7" y="375.4" font-size="12.8" text-anchor="middle" fill="#111" >(3)</text><text x="1264.9" y="238.8" font-size="12.8" text-anchor="middle" fill="#111" >(4)</text><text x="1256.6" y="609.4" font-size="12.8" text-anchor="middle" fill="#111" >(6)</text><text x="1083.5" y="457" font-size="12.8" text-anchor="middle" fill="#111" >(A)</text><text x="1185.5" y="457" font-size="12.8" text-anchor="middle" fill="#111" >(B)</text><text x="1138.7" y="554.9" font-size="12.8" text-anchor="middle" fill="#111" >(C)</text><ellipse cx="1048.1" cy="488.2" rx="37.4" ry="40.7" fill="none" stroke="#444" stroke-width="0.9" stroke-dasharray="5.5 3.2"/><ellipse cx="1146.2" cy="488.9" rx="37.9" ry="40.5" fill="none" stroke="#444" stroke-width="0.9" stroke-dasharray="5.5 3.2"/><ellipse cx="1096.6" cy="583.5" rx="37.8" ry="40.5" fill="none" stroke="#444" stroke-width="0.9" stroke-dasharray="5.5 3.2"/><ellipse cx="1246.6" cy="608" rx="27.4" ry="29.1" fill="none" stroke="#444" stroke-width="0.9" stroke-dasharray="5.5 3.2"/><line x1="1021.7" y1="459.7" x2="1073.5" y2="459.7" stroke="#575757" stroke-width="1.2" /><line x1="1023.4" y1="518.2" x2="1072.2" y2="518.2" stroke="#575757" stroke-width="1.2" /><path d="M1041.4,448H1052.1L1046.6,493Z" fill="#8064a2" stroke="none" stroke-width="1" fill-opacity="0.71"/><line x1="1041.6" y1="448.2" x2="1051.9" y2="448.2" stroke="#777" stroke-width="1" /><line x1="1046.6" y1="518.2" x2="1046.6" y2="492" stroke="#000" stroke-width="1.6" /><path d="M1043.2,494H1050L1046.6,487Z" fill="#000" stroke="none" stroke-width="1" /><line x1="1120.3" y1="460.4" x2="1172.9" y2="460.4" stroke="#575757" stroke-width="1.2" /><line x1="1121.6" y1="518.6" x2="1170.4" y2="518.6" stroke="#575757" stroke-width="1.2" /><path d="M1140,448.4H1150.4L1145.2,513Z" fill="#8064a2" stroke="none" stroke-width="1" fill-opacity="0.71"/><line x1="1140.2" y1="448.6" x2="1150.2" y2="448.6" stroke="#777" stroke-width="1" /><line x1="1145.2" y1="518.4" x2="1145.2" y2="495.5" stroke="#000" stroke-width="0.6" /><path d="M1145.2,492.9L1146.4,495.5L1144,495.5Z" fill="#000" stroke="none" stroke-width="1" /><line x1="1145.2" y1="518.4" x2="1140.03" y2="497.02" stroke="#000" stroke-width="0.6" /><path d="M1139.42,494.49L1141.19,496.73L1138.86,497.3Z" fill="#000" stroke="none" stroke-width="1" /><line x1="1145.2" y1="518.4" x2="1150.37" y2="497.02" stroke="#000" stroke-width="0.6" /><path d="M1150.98,494.49L1151.54,497.3L1149.21,496.73Z" fill="#000" stroke="none" stroke-width="1" /><line x1="1145.2" y1="518.4" x2="1135.82" y2="504.22" stroke="#000" stroke-width="0.6" /><path d="M1134.38,502.06L1136.82,503.56L1134.82,504.89Z" fill="#000" stroke="none" stroke-width="1" /><line x1="1145.2" y1="518.4" x2="1154.58" y2="504.22" stroke="#000" stroke-width="0.6" /><path d="M1156.02,502.06L1155.58,504.89L1153.58,503.56Z" fill="#000" stroke="none" stroke-width="1" /><line x1="1145.2" y1="518.4" x2="1136.36" y2="510.44" stroke="#000" stroke-width="0.6" /><path d="M1134.42,508.7L1137.16,509.55L1135.55,511.33Z" fill="#000" stroke="none" stroke-width="1" /><line x1="1145.2" y1="518.4" x2="1154.04" y2="510.44" stroke="#000" stroke-width="0.6" /><path d="M1155.98,508.7L1154.85,511.33L1153.24,509.55Z" fill="#000" stroke="none" stroke-width="1" /><line x1="1145.2" y1="518.4" x2="1140.72" y2="516.68" stroke="#000" stroke-width="0.6" /><path d="M1138.29,515.75L1141.15,515.56L1140.29,517.8Z" fill="#000" stroke="none" stroke-width="1" /><line x1="1145.2" y1="518.4" x2="1149.68" y2="516.68" stroke="#000" stroke-width="0.6" /><path d="M1152.11,515.75L1150.11,517.8L1149.25,515.56Z" fill="#000" stroke="none" stroke-width="1" /><line x1="1069.7" y1="555" x2="1123.4" y2="555" stroke="#575757" stroke-width="1.2" /><line x1="1072.5" y1="613.4" x2="1121.3" y2="613.4" stroke="#575757" stroke-width="1.2" /><path d="M1090.2,543.1H1101.1L1095.8,588Z" fill="#8064a2" stroke="none" stroke-width="1" fill-opacity="0.71"/><line x1="1090.4" y1="543.3" x2="1100.9" y2="543.3" stroke="#777" stroke-width="1" /><line x1="1095.8" y1="613.4" x2="1095.8" y2="587.6" stroke="#000" stroke-width="1.3" /><path d="M1095.8,584.2L1097.6,587.6L1094,587.6Z" fill="#000" stroke="none" stroke-width="1" /><line x1="1095.8" y1="613.4" x2="1092.38" y2="590.07" stroke="#000" stroke-width="0.6" /><path d="M1092,587.5L1093.66,589.88L1091.09,590.26Z" fill="#000" stroke="none" stroke-width="1" /><line x1="1095.8" y1="613.4" x2="1099.22" y2="590.07" stroke="#000" stroke-width="0.6" /><path d="M1099.6,587.5L1100.51,590.26L1097.94,589.88Z" fill="#000" stroke="none" stroke-width="1" /><line x1="1095.8" y1="613.4" x2="1090.61" y2="601.1" stroke="#000" stroke-width="0.6" /><path d="M1089.6,598.7L1091.81,600.59L1089.41,601.6Z" fill="#000" stroke="none" stroke-width="1" /><line x1="1095.8" y1="613.4" x2="1100.99" y2="601.1" stroke="#000" stroke-width="0.6" /><path d="M1102,598.7L1102.19,601.6L1099.79,600.59Z" fill="#000" stroke="none" stroke-width="1" /></g><rect x="1346.9" y="215.8" width="158.5" height="394.6" fill="#fff" stroke="#000" stroke-width="3" rx="1.2"/><g><path d="M1422.5,269.8L1433.6,337V375.3H1412.9V337Z" fill="#8064a2" stroke="none" stroke-width="1" fill-opacity="0.71"/><path d="M1412.2,461.2H1434.1L1423.3,606.5L1422.1,606.5Z" fill="#8064a2" stroke="none" stroke-width="1" fill-opacity="0.71"/><ellipse cx="1423.6" cy="461.2" rx="47" ry="8.1" fill="#d9d9d9" fill-opacity="0.62" stroke="#000" stroke-width="1"/><path d="M1411.3,406.7L1412.9,406.7L1420.1,401L1429.4,413.8L1435.2,406.7V461.2H1411.3Z" fill="#8064a2" stroke="none" stroke-width="1" fill-opacity="0.71"/><path d="M1392.7,375.1V266.4H1454.5V375.1H1432.5L1427.4,381.4L1421.7,369.4L1417,375.1Z" fill="none" stroke="#000" stroke-width="1.25" /><path d="M1376.6,461.2V407H1412.9L1420.1,401L1429.4,413.8L1436,406.7H1470.7V461.2L1454.5,528.3H1395.1Z" fill="none" stroke="#000" stroke-width="1.25" /><line x1="1422.5" y1="237.4" x2="1422.5" y2="401" stroke="#222" stroke-width="0.9" stroke-dasharray="5 1.6 1.2 1.6"/><line x1="1422.5" y1="413" x2="1422.5" y2="560" stroke="#333" stroke-width="0.8" stroke-dasharray="5 1.6 1.2 1.6"/><path d="M1413,362.5H1433.6L1423.5,344.4Z" fill="#31859c" stroke="none" stroke-width="1" /><path d="M1411.3,436.5H1435.6L1423,416.2Z" fill="#31859c" stroke="none" stroke-width="1" /><line x1="1388.6" y1="607.2" x2="1456.4" y2="607.2" stroke="#555" stroke-width="1.5" /><ellipse cx="1422.7" cy="578.6" rx="11.7" ry="27.8" fill="none" stroke="#000" stroke-width="1"/><line x1="1422.7" y1="606.4" x2="1422.7" y2="558.2" stroke="#000" stroke-width="1.8" /><path d="M1422.7,552.2L1425.7,558.2L1419.7,558.2Z" fill="#000" stroke="none" stroke-width="1" /><line x1="1422.7" y1="606.4" x2="1416.15" y2="562.94" stroke="#000" stroke-width="0.9" /><path d="M1415.4,558L1418.32,562.62L1413.97,563.27Z" fill="#000" stroke="none" stroke-width="1" /><line x1="1422.7" y1="606.4" x2="1429.25" y2="562.94" stroke="#000" stroke-width="0.9" /><path d="M1430,558L1431.43,563.27L1427.08,562.62Z" fill="#000" stroke="none" stroke-width="1" /><line x1="1422.7" y1="606.4" x2="1413.43" y2="582.85" stroke="#000" stroke-width="0.9" /><path d="M1411.6,578.2L1415.48,582.05L1411.38,583.66Z" fill="#000" stroke="none" stroke-width="1" /><line x1="1422.7" y1="606.4" x2="1431.97" y2="582.85" stroke="#000" stroke-width="0.9" /><path d="M1433.8,578.2L1434.02,583.66L1429.92,582.05Z" fill="#000" stroke="none" stroke-width="1" /><circle cx="1427.5" cy="507.4" r="1.9" fill="#000"/><line x1="1427.5" y1="507.4" x2="1465.3" y2="512.8" stroke="#000" stroke-width="0.9" /><circle cx="1433.9" cy="587.1" r="1.9" fill="#000"/><line x1="1433.9" y1="587.1" x2="1463.6" y2="570.1" stroke="#000" stroke-width="0.9" /><text x="1428.2" y="251.3" font-size="23.7" text-anchor="start" fill="#000" >I</text><text x="1434.6" y="254.7" font-size="15.5" textLength="30" lengthAdjust="spacingAndGlyphs">OUT</text><text x="1462.2" y="279.2" font-size="21.4" textLength="27.4" lengthAdjust="spacingAndGlyphs">(5)</text><text x="1466.2" y="515.2" font-size="22.6" text-anchor="start" fill="#000" >I</text><text x="1472.6" y="519.7" font-size="14" textLength="19.8" lengthAdjust="spacingAndGlyphs">NA</text><text x="1459.2" y="564.3" font-size="24" text-anchor="start" fill="#000" >I</text><text x="1466.6" y="568.2" font-size="15.4" textLength="26.4" lengthAdjust="spacingAndGlyphs">TOT</text></g></svg></body></html>
